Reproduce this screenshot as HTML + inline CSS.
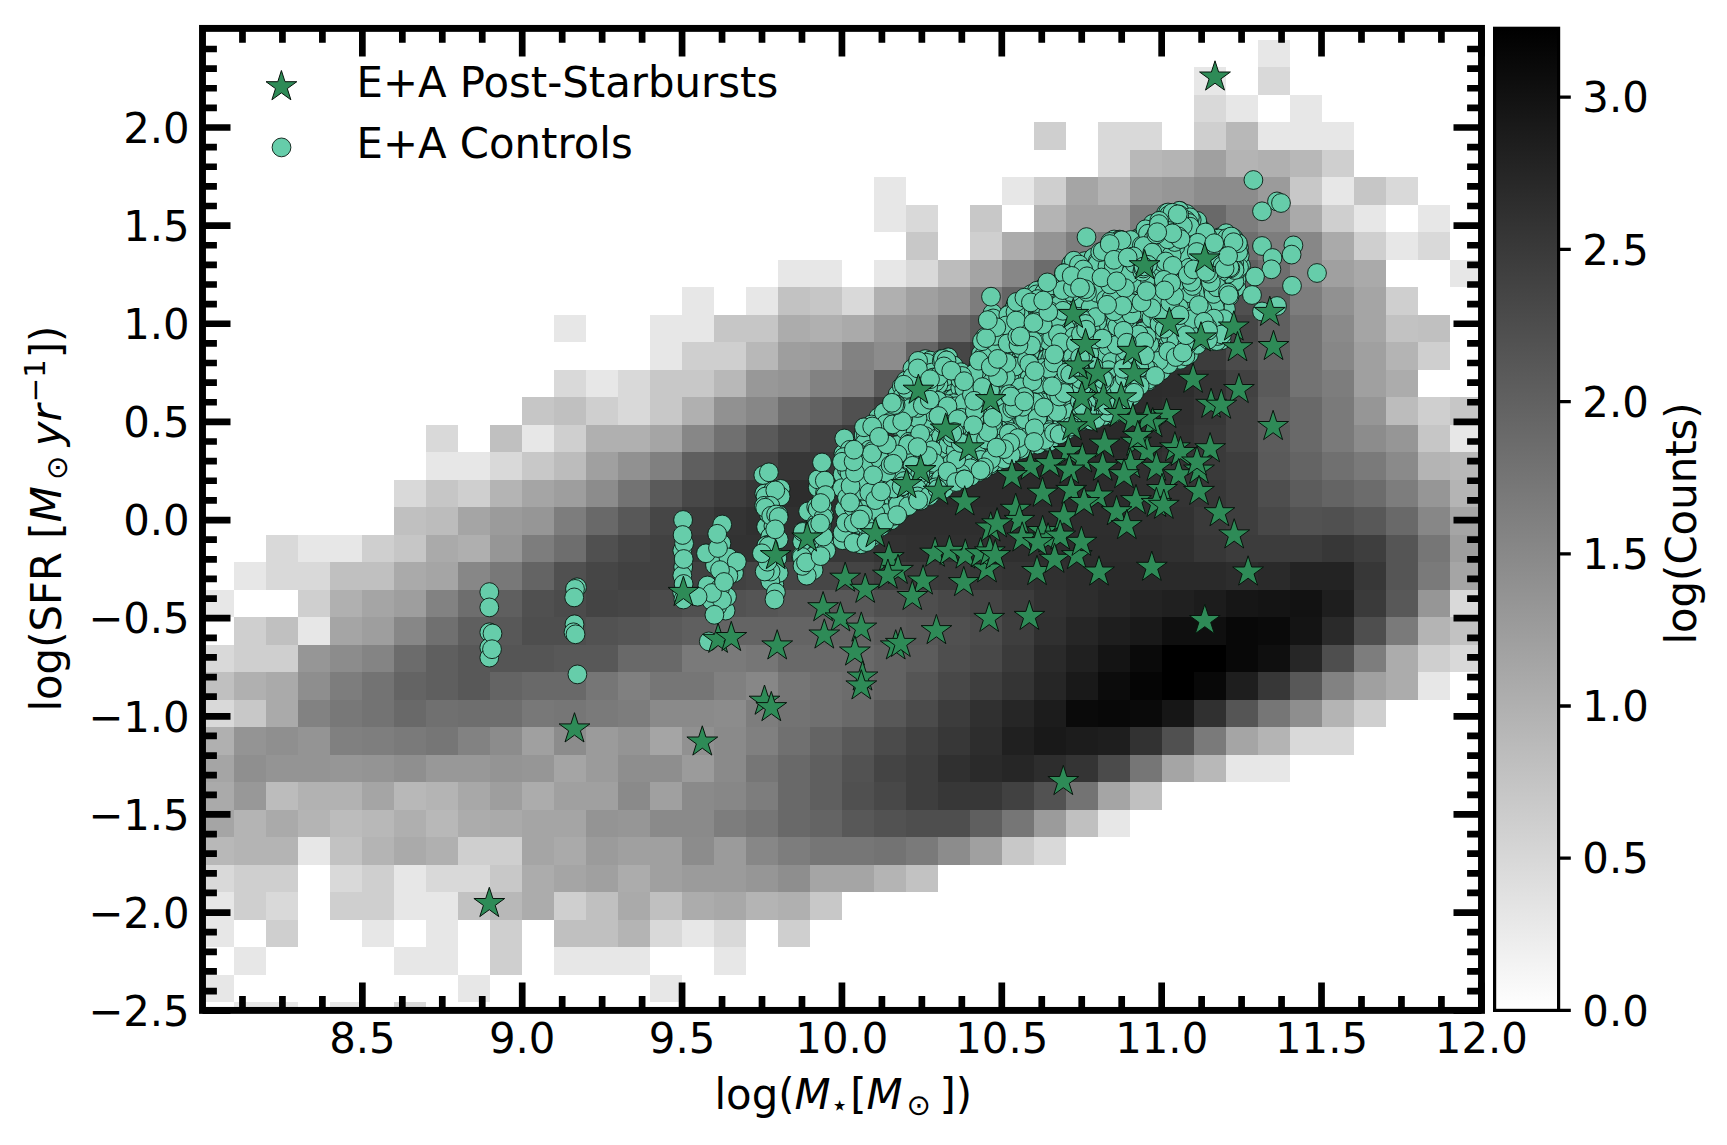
<!DOCTYPE html>
<html><head><meta charset="utf-8"><title>SFR vs stellar mass</title>
<style>html,body{margin:0;padding:0;background:#fff}svg{display:block}text{font-family:"DejaVu Sans","Liberation Sans",sans-serif;font-size:41.8px;fill:#000}.i{font-style:italic}</style></head><body>
<svg width="1727" height="1145" viewBox="0 0 1727 1145">
<rect width="1727" height="1145" fill="#fff"/>
<defs><clipPath id="ax"><rect x="202.5" y="28.4" width="1279.0" height="982.0"/></clipPath>
<linearGradient id="cb" x1="0" y1="1" x2="0" y2="0"><stop offset="0" stop-color="#fff"/><stop offset="1" stop-color="#000"/></linearGradient></defs>
<g clip-path="url(#ax)" shape-rendering="crispEdges">
<rect x="1257.9" y="39.56" width="32.3" height="27.80" fill="#e7e7e7"/>
<rect x="1193.9" y="67.06" width="32.3" height="27.80" fill="#e7e7e7"/>
<rect x="1257.9" y="67.06" width="32.3" height="27.80" fill="#d9d9d9"/>
<rect x="1193.9" y="94.56" width="32.3" height="27.80" fill="#d9d9d9"/>
<rect x="1225.9" y="94.56" width="32.3" height="27.80" fill="#e7e7e7"/>
<rect x="1289.9" y="94.56" width="32.3" height="27.80" fill="#e7e7e7"/>
<rect x="1033.9" y="122.06" width="32.3" height="27.80" fill="#cfcfcf"/>
<rect x="1097.9" y="122.06" width="64.3" height="27.80" fill="#d9d9d9"/>
<rect x="1193.9" y="122.06" width="32.3" height="27.80" fill="#cfcfcf"/>
<rect x="1225.9" y="122.06" width="32.3" height="27.80" fill="#b8b8b8"/>
<rect x="1257.9" y="122.06" width="96.3" height="27.80" fill="#e7e7e7"/>
<rect x="1097.9" y="149.56" width="32.3" height="27.80" fill="#d9d9d9"/>
<rect x="1129.9" y="149.56" width="32.3" height="27.80" fill="#b8b8b8"/>
<rect x="1161.9" y="149.56" width="32.3" height="27.80" fill="#b4b4b4"/>
<rect x="1193.9" y="149.56" width="32.3" height="27.80" fill="#a0a0a0"/>
<rect x="1225.9" y="149.56" width="32.3" height="27.80" fill="#b4b4b4"/>
<rect x="1257.9" y="149.56" width="32.3" height="27.80" fill="#b0b0b0"/>
<rect x="1289.9" y="149.56" width="32.3" height="27.80" fill="#b8b8b8"/>
<rect x="1321.9" y="149.56" width="32.3" height="27.80" fill="#cfcfcf"/>
<rect x="873.9" y="177.06" width="32.3" height="27.80" fill="#e7e7e7"/>
<rect x="1001.9" y="177.06" width="32.3" height="27.80" fill="#e7e7e7"/>
<rect x="1033.9" y="177.06" width="32.3" height="27.80" fill="#cfcfcf"/>
<rect x="1065.9" y="177.06" width="32.3" height="27.80" fill="#a5a5a5"/>
<rect x="1097.9" y="177.06" width="32.3" height="27.80" fill="#b4b4b4"/>
<rect x="1129.9" y="177.06" width="32.3" height="27.80" fill="#9b9b9b"/>
<rect x="1161.9" y="177.06" width="32.3" height="27.80" fill="#969696"/>
<rect x="1193.9" y="177.06" width="64.3" height="27.80" fill="#8c8c8c"/>
<rect x="1257.9" y="177.06" width="32.3" height="27.80" fill="#9b9b9b"/>
<rect x="1289.9" y="177.06" width="32.3" height="27.80" fill="#c8c8c8"/>
<rect x="1321.9" y="177.06" width="32.3" height="27.80" fill="#e7e7e7"/>
<rect x="1353.9" y="177.06" width="32.3" height="27.80" fill="#c6c6c6"/>
<rect x="1385.9" y="177.06" width="32.3" height="27.80" fill="#d9d9d9"/>
<rect x="873.9" y="204.56" width="32.3" height="27.80" fill="#e7e7e7"/>
<rect x="905.9" y="204.56" width="32.3" height="27.80" fill="#d9d9d9"/>
<rect x="969.9" y="204.56" width="32.3" height="27.80" fill="#c8c8c8"/>
<rect x="1033.9" y="204.56" width="32.3" height="27.80" fill="#b4b4b4"/>
<rect x="1065.9" y="204.56" width="64.3" height="27.80" fill="#9e9e9e"/>
<rect x="1129.9" y="204.56" width="32.3" height="27.80" fill="#7d7d7d"/>
<rect x="1161.9" y="204.56" width="32.3" height="27.80" fill="#787878"/>
<rect x="1193.9" y="204.56" width="32.3" height="27.80" fill="#696969"/>
<rect x="1225.9" y="204.56" width="32.3" height="27.80" fill="#7d7d7d"/>
<rect x="1257.9" y="204.56" width="32.3" height="27.80" fill="#8c8c8c"/>
<rect x="1289.9" y="204.56" width="32.3" height="27.80" fill="#aaaaaa"/>
<rect x="1321.9" y="204.56" width="32.3" height="27.80" fill="#cfcfcf"/>
<rect x="1353.9" y="204.56" width="32.3" height="27.80" fill="#e7e7e7"/>
<rect x="1417.9" y="204.56" width="32.3" height="27.80" fill="#e7e7e7"/>
<rect x="905.9" y="232.06" width="32.3" height="27.80" fill="#c8c8c8"/>
<rect x="969.9" y="232.06" width="32.3" height="27.80" fill="#cfcfcf"/>
<rect x="1001.9" y="232.06" width="32.3" height="27.80" fill="#acacac"/>
<rect x="1033.9" y="232.06" width="32.3" height="27.80" fill="#949494"/>
<rect x="1065.9" y="232.06" width="32.3" height="27.80" fill="#7d7d7d"/>
<rect x="1097.9" y="232.06" width="32.3" height="27.80" fill="#787878"/>
<rect x="1129.9" y="232.06" width="32.3" height="27.80" fill="#6e6e6e"/>
<rect x="1161.9" y="232.06" width="32.3" height="27.80" fill="#646464"/>
<rect x="1193.9" y="232.06" width="32.3" height="27.80" fill="#5a5a5a"/>
<rect x="1225.9" y="232.06" width="32.3" height="27.80" fill="#6e6e6e"/>
<rect x="1257.9" y="232.06" width="32.3" height="27.80" fill="#7d7d7d"/>
<rect x="1289.9" y="232.06" width="32.3" height="27.80" fill="#878787"/>
<rect x="1321.9" y="232.06" width="32.3" height="27.80" fill="#aaaaaa"/>
<rect x="1353.9" y="232.06" width="32.3" height="27.80" fill="#cfcfcf"/>
<rect x="1385.9" y="232.06" width="32.3" height="27.80" fill="#e7e7e7"/>
<rect x="1417.9" y="232.06" width="32.3" height="27.80" fill="#d9d9d9"/>
<rect x="777.9" y="259.56" width="64.3" height="27.80" fill="#e7e7e7"/>
<rect x="873.9" y="259.56" width="32.3" height="27.80" fill="#e7e7e7"/>
<rect x="905.9" y="259.56" width="32.3" height="27.80" fill="#d9d9d9"/>
<rect x="937.9" y="259.56" width="32.3" height="27.80" fill="#bcbcbc"/>
<rect x="969.9" y="259.56" width="32.3" height="27.80" fill="#a5a5a5"/>
<rect x="1001.9" y="259.56" width="32.3" height="27.80" fill="#878787"/>
<rect x="1033.9" y="259.56" width="32.3" height="27.80" fill="#6c6c6c"/>
<rect x="1065.9" y="259.56" width="32.3" height="27.80" fill="#646464"/>
<rect x="1097.9" y="259.56" width="32.3" height="27.80" fill="#5f5f5f"/>
<rect x="1129.9" y="259.56" width="32.3" height="27.80" fill="#5a5a5a"/>
<rect x="1161.9" y="259.56" width="64.3" height="27.80" fill="#555555"/>
<rect x="1225.9" y="259.56" width="32.3" height="27.80" fill="#5f5f5f"/>
<rect x="1257.9" y="259.56" width="32.3" height="27.80" fill="#6e6e6e"/>
<rect x="1289.9" y="259.56" width="32.3" height="27.80" fill="#878787"/>
<rect x="1321.9" y="259.56" width="32.3" height="27.80" fill="#a0a0a0"/>
<rect x="1353.9" y="259.56" width="32.3" height="27.80" fill="#aaaaaa"/>
<rect x="1449.9" y="259.56" width="32.3" height="27.80" fill="#e7e7e7"/>
<rect x="681.9" y="287.06" width="32.3" height="27.80" fill="#e7e7e7"/>
<rect x="745.9" y="287.06" width="32.3" height="27.80" fill="#e7e7e7"/>
<rect x="777.9" y="287.06" width="32.3" height="27.80" fill="#c2c2c2"/>
<rect x="809.9" y="287.06" width="32.3" height="27.80" fill="#c6c6c6"/>
<rect x="841.9" y="287.06" width="32.3" height="27.80" fill="#d9d9d9"/>
<rect x="873.9" y="287.06" width="32.3" height="27.80" fill="#b0b0b0"/>
<rect x="905.9" y="287.06" width="32.3" height="27.80" fill="#a0a0a0"/>
<rect x="937.9" y="287.06" width="32.3" height="27.80" fill="#969696"/>
<rect x="969.9" y="287.06" width="32.3" height="27.80" fill="#7d7d7d"/>
<rect x="1001.9" y="287.06" width="32.3" height="27.80" fill="#646464"/>
<rect x="1033.9" y="287.06" width="32.3" height="27.80" fill="#555555"/>
<rect x="1065.9" y="287.06" width="32.3" height="27.80" fill="#505050"/>
<rect x="1097.9" y="287.06" width="32.3" height="27.80" fill="#4b4b4b"/>
<rect x="1129.9" y="287.06" width="32.3" height="27.80" fill="#484848"/>
<rect x="1161.9" y="287.06" width="32.3" height="27.80" fill="#464646"/>
<rect x="1193.9" y="287.06" width="32.3" height="27.80" fill="#484848"/>
<rect x="1225.9" y="287.06" width="32.3" height="27.80" fill="#505050"/>
<rect x="1257.9" y="287.06" width="32.3" height="27.80" fill="#5f5f5f"/>
<rect x="1289.9" y="287.06" width="32.3" height="27.80" fill="#7d7d7d"/>
<rect x="1321.9" y="287.06" width="32.3" height="27.80" fill="#919191"/>
<rect x="1353.9" y="287.06" width="32.3" height="27.80" fill="#a5a5a5"/>
<rect x="1385.9" y="287.06" width="32.3" height="27.80" fill="#cfcfcf"/>
<rect x="553.9" y="314.56" width="32.3" height="27.80" fill="#e7e7e7"/>
<rect x="649.9" y="314.56" width="64.3" height="27.80" fill="#e7e7e7"/>
<rect x="713.9" y="314.56" width="64.3" height="27.80" fill="#c6c6c6"/>
<rect x="777.9" y="314.56" width="32.3" height="27.80" fill="#acacac"/>
<rect x="809.9" y="314.56" width="32.3" height="27.80" fill="#b0b0b0"/>
<rect x="841.9" y="314.56" width="32.3" height="27.80" fill="#aaaaaa"/>
<rect x="873.9" y="314.56" width="32.3" height="27.80" fill="#969696"/>
<rect x="905.9" y="314.56" width="32.3" height="27.80" fill="#919191"/>
<rect x="937.9" y="314.56" width="32.3" height="27.80" fill="#6c6c6c"/>
<rect x="969.9" y="314.56" width="32.3" height="27.80" fill="#5a5a5a"/>
<rect x="1001.9" y="314.56" width="32.3" height="27.80" fill="#4b4b4b"/>
<rect x="1033.9" y="314.56" width="32.3" height="27.80" fill="#414141"/>
<rect x="1065.9" y="314.56" width="32.3" height="27.80" fill="#3c3c3c"/>
<rect x="1097.9" y="314.56" width="64.3" height="27.80" fill="#373737"/>
<rect x="1161.9" y="314.56" width="32.3" height="27.80" fill="#3a3a3a"/>
<rect x="1193.9" y="314.56" width="32.3" height="27.80" fill="#414141"/>
<rect x="1225.9" y="314.56" width="32.3" height="27.80" fill="#464646"/>
<rect x="1257.9" y="314.56" width="32.3" height="27.80" fill="#5f5f5f"/>
<rect x="1289.9" y="314.56" width="32.3" height="27.80" fill="#737373"/>
<rect x="1321.9" y="314.56" width="32.3" height="27.80" fill="#8a8a8a"/>
<rect x="1353.9" y="314.56" width="32.3" height="27.80" fill="#a5a5a5"/>
<rect x="1385.9" y="314.56" width="32.3" height="27.80" fill="#c2c2c2"/>
<rect x="1417.9" y="314.56" width="32.3" height="27.80" fill="#c0c0c0"/>
<rect x="649.9" y="342.06" width="32.3" height="27.80" fill="#e7e7e7"/>
<rect x="681.9" y="342.06" width="64.3" height="27.80" fill="#cfcfcf"/>
<rect x="745.9" y="342.06" width="32.3" height="27.80" fill="#b8b8b8"/>
<rect x="777.9" y="342.06" width="32.3" height="27.80" fill="#9e9e9e"/>
<rect x="809.9" y="342.06" width="32.3" height="27.80" fill="#9b9b9b"/>
<rect x="841.9" y="342.06" width="32.3" height="27.80" fill="#828282"/>
<rect x="873.9" y="342.06" width="32.3" height="27.80" fill="#8c8c8c"/>
<rect x="905.9" y="342.06" width="32.3" height="27.80" fill="#646464"/>
<rect x="937.9" y="342.06" width="32.3" height="27.80" fill="#464646"/>
<rect x="969.9" y="342.06" width="32.3" height="27.80" fill="#3c3c3c"/>
<rect x="1001.9" y="342.06" width="32.3" height="27.80" fill="#373737"/>
<rect x="1033.9" y="342.06" width="32.3" height="27.80" fill="#323232"/>
<rect x="1065.9" y="342.06" width="32.3" height="27.80" fill="#303030"/>
<rect x="1097.9" y="342.06" width="32.3" height="27.80" fill="#2d2d2d"/>
<rect x="1129.9" y="342.06" width="32.3" height="27.80" fill="#303030"/>
<rect x="1161.9" y="342.06" width="32.3" height="27.80" fill="#323232"/>
<rect x="1193.9" y="342.06" width="32.3" height="27.80" fill="#3c3c3c"/>
<rect x="1225.9" y="342.06" width="32.3" height="27.80" fill="#4b4b4b"/>
<rect x="1257.9" y="342.06" width="32.3" height="27.80" fill="#5f5f5f"/>
<rect x="1289.9" y="342.06" width="32.3" height="27.80" fill="#737373"/>
<rect x="1321.9" y="342.06" width="32.3" height="27.80" fill="#878787"/>
<rect x="1353.9" y="342.06" width="32.3" height="27.80" fill="#a0a0a0"/>
<rect x="1385.9" y="342.06" width="32.3" height="27.80" fill="#b4b4b4"/>
<rect x="1417.9" y="342.06" width="32.3" height="27.80" fill="#cfcfcf"/>
<rect x="553.9" y="369.56" width="32.3" height="27.80" fill="#d9d9d9"/>
<rect x="585.9" y="369.56" width="32.3" height="27.80" fill="#e7e7e7"/>
<rect x="617.9" y="369.56" width="32.3" height="27.80" fill="#d9d9d9"/>
<rect x="649.9" y="369.56" width="64.3" height="27.80" fill="#c8c8c8"/>
<rect x="713.9" y="369.56" width="32.3" height="27.80" fill="#b8b8b8"/>
<rect x="745.9" y="369.56" width="32.3" height="27.80" fill="#989898"/>
<rect x="777.9" y="369.56" width="32.3" height="27.80" fill="#949494"/>
<rect x="809.9" y="369.56" width="32.3" height="27.80" fill="#828282"/>
<rect x="841.9" y="369.56" width="32.3" height="27.80" fill="#7d7d7d"/>
<rect x="873.9" y="369.56" width="32.3" height="27.80" fill="#5a5a5a"/>
<rect x="905.9" y="369.56" width="32.3" height="27.80" fill="#464646"/>
<rect x="937.9" y="369.56" width="32.3" height="27.80" fill="#373737"/>
<rect x="969.9" y="369.56" width="32.3" height="27.80" fill="#303030"/>
<rect x="1001.9" y="369.56" width="32.3" height="27.80" fill="#2d2d2d"/>
<rect x="1033.9" y="369.56" width="32.3" height="27.80" fill="#2b2b2b"/>
<rect x="1065.9" y="369.56" width="64.3" height="27.80" fill="#2a2a2a"/>
<rect x="1129.9" y="369.56" width="32.3" height="27.80" fill="#2c2c2c"/>
<rect x="1161.9" y="369.56" width="32.3" height="27.80" fill="#2d2d2d"/>
<rect x="1193.9" y="369.56" width="32.3" height="27.80" fill="#343434"/>
<rect x="1225.9" y="369.56" width="32.3" height="27.80" fill="#414141"/>
<rect x="1257.9" y="369.56" width="32.3" height="27.80" fill="#5a5a5a"/>
<rect x="1289.9" y="369.56" width="32.3" height="27.80" fill="#737373"/>
<rect x="1321.9" y="369.56" width="32.3" height="27.80" fill="#7d7d7d"/>
<rect x="1353.9" y="369.56" width="32.3" height="27.80" fill="#a0a0a0"/>
<rect x="1385.9" y="369.56" width="32.3" height="27.80" fill="#acacac"/>
<rect x="521.9" y="397.06" width="32.3" height="27.80" fill="#c6c6c6"/>
<rect x="553.9" y="397.06" width="32.3" height="27.80" fill="#c0c0c0"/>
<rect x="585.9" y="397.06" width="32.3" height="27.80" fill="#cfcfcf"/>
<rect x="617.9" y="397.06" width="32.3" height="27.80" fill="#d9d9d9"/>
<rect x="649.9" y="397.06" width="32.3" height="27.80" fill="#c8c8c8"/>
<rect x="681.9" y="397.06" width="32.3" height="27.80" fill="#b0b0b0"/>
<rect x="713.9" y="397.06" width="32.3" height="27.80" fill="#919191"/>
<rect x="745.9" y="397.06" width="32.3" height="27.80" fill="#878787"/>
<rect x="777.9" y="397.06" width="32.3" height="27.80" fill="#6e6e6e"/>
<rect x="809.9" y="397.06" width="32.3" height="27.80" fill="#626262"/>
<rect x="841.9" y="397.06" width="32.3" height="27.80" fill="#505050"/>
<rect x="873.9" y="397.06" width="32.3" height="27.80" fill="#3e3e3e"/>
<rect x="905.9" y="397.06" width="32.3" height="27.80" fill="#343434"/>
<rect x="937.9" y="397.06" width="32.3" height="27.80" fill="#2d2d2d"/>
<rect x="969.9" y="397.06" width="160.3" height="27.80" fill="#2a2a2a"/>
<rect x="1129.9" y="397.06" width="32.3" height="27.80" fill="#2d2d2d"/>
<rect x="1161.9" y="397.06" width="32.3" height="27.80" fill="#303030"/>
<rect x="1193.9" y="397.06" width="32.3" height="27.80" fill="#373737"/>
<rect x="1225.9" y="397.06" width="32.3" height="27.80" fill="#444444"/>
<rect x="1257.9" y="397.06" width="32.3" height="27.80" fill="#5f5f5f"/>
<rect x="1289.9" y="397.06" width="32.3" height="27.80" fill="#696969"/>
<rect x="1321.9" y="397.06" width="32.3" height="27.80" fill="#7a7a7a"/>
<rect x="1353.9" y="397.06" width="32.3" height="27.80" fill="#969696"/>
<rect x="1385.9" y="397.06" width="32.3" height="27.80" fill="#bcbcbc"/>
<rect x="1417.9" y="397.06" width="32.3" height="27.80" fill="#cfcfcf"/>
<rect x="1449.9" y="397.06" width="32.3" height="27.80" fill="#c6c6c6"/>
<rect x="425.9" y="424.56" width="32.3" height="27.80" fill="#d9d9d9"/>
<rect x="489.9" y="424.56" width="32.3" height="27.80" fill="#c0c0c0"/>
<rect x="521.9" y="424.56" width="32.3" height="27.80" fill="#e7e7e7"/>
<rect x="553.9" y="424.56" width="32.3" height="27.80" fill="#cfcfcf"/>
<rect x="585.9" y="424.56" width="64.3" height="27.80" fill="#b0b0b0"/>
<rect x="649.9" y="424.56" width="32.3" height="27.80" fill="#a5a5a5"/>
<rect x="681.9" y="424.56" width="32.3" height="27.80" fill="#878787"/>
<rect x="713.9" y="424.56" width="32.3" height="27.80" fill="#707070"/>
<rect x="745.9" y="424.56" width="32.3" height="27.80" fill="#5a5a5a"/>
<rect x="777.9" y="424.56" width="32.3" height="27.80" fill="#4b4b4b"/>
<rect x="809.9" y="424.56" width="32.3" height="27.80" fill="#414141"/>
<rect x="841.9" y="424.56" width="32.3" height="27.80" fill="#3a3a3a"/>
<rect x="873.9" y="424.56" width="32.3" height="27.80" fill="#323232"/>
<rect x="905.9" y="424.56" width="32.3" height="27.80" fill="#2d2d2d"/>
<rect x="937.9" y="424.56" width="192.3" height="27.80" fill="#2a2a2a"/>
<rect x="1129.9" y="424.56" width="32.3" height="27.80" fill="#2e2e2e"/>
<rect x="1161.9" y="424.56" width="32.3" height="27.80" fill="#323232"/>
<rect x="1193.9" y="424.56" width="32.3" height="27.80" fill="#3a3a3a"/>
<rect x="1225.9" y="424.56" width="32.3" height="27.80" fill="#444444"/>
<rect x="1257.9" y="424.56" width="32.3" height="27.80" fill="#5c5c5c"/>
<rect x="1289.9" y="424.56" width="32.3" height="27.80" fill="#696969"/>
<rect x="1321.9" y="424.56" width="32.3" height="27.80" fill="#7a7a7a"/>
<rect x="1353.9" y="424.56" width="32.3" height="27.80" fill="#8c8c8c"/>
<rect x="1385.9" y="424.56" width="32.3" height="27.80" fill="#969696"/>
<rect x="1417.9" y="424.56" width="32.3" height="27.80" fill="#c6c6c6"/>
<rect x="1449.9" y="424.56" width="32.3" height="27.80" fill="#e7e7e7"/>
<rect x="425.9" y="452.06" width="64.3" height="27.80" fill="#e7e7e7"/>
<rect x="489.9" y="452.06" width="32.3" height="27.80" fill="#d9d9d9"/>
<rect x="521.9" y="452.06" width="32.3" height="27.80" fill="#c8c8c8"/>
<rect x="553.9" y="452.06" width="32.3" height="27.80" fill="#bcbcbc"/>
<rect x="585.9" y="452.06" width="32.3" height="27.80" fill="#a0a0a0"/>
<rect x="617.9" y="452.06" width="32.3" height="27.80" fill="#919191"/>
<rect x="649.9" y="452.06" width="32.3" height="27.80" fill="#808080"/>
<rect x="681.9" y="452.06" width="32.3" height="27.80" fill="#5f5f5f"/>
<rect x="713.9" y="452.06" width="32.3" height="27.80" fill="#525252"/>
<rect x="745.9" y="452.06" width="32.3" height="27.80" fill="#464646"/>
<rect x="777.9" y="452.06" width="64.3" height="27.80" fill="#373737"/>
<rect x="841.9" y="452.06" width="32.3" height="27.80" fill="#303030"/>
<rect x="873.9" y="452.06" width="256.3" height="27.80" fill="#2b2b2b"/>
<rect x="1129.9" y="452.06" width="32.3" height="27.80" fill="#303030"/>
<rect x="1161.9" y="452.06" width="32.3" height="27.80" fill="#343434"/>
<rect x="1193.9" y="452.06" width="32.3" height="27.80" fill="#3a3a3a"/>
<rect x="1225.9" y="452.06" width="32.3" height="27.80" fill="#3e3e3e"/>
<rect x="1257.9" y="452.06" width="32.3" height="27.80" fill="#5a5a5a"/>
<rect x="1289.9" y="452.06" width="32.3" height="27.80" fill="#646464"/>
<rect x="1321.9" y="452.06" width="32.3" height="27.80" fill="#707070"/>
<rect x="1353.9" y="452.06" width="32.3" height="27.80" fill="#7a7a7a"/>
<rect x="1385.9" y="452.06" width="32.3" height="27.80" fill="#8a8a8a"/>
<rect x="1417.9" y="452.06" width="32.3" height="27.80" fill="#b4b4b4"/>
<rect x="1449.9" y="452.06" width="32.3" height="27.80" fill="#b8b8b8"/>
<rect x="393.9" y="479.56" width="32.3" height="27.80" fill="#d9d9d9"/>
<rect x="425.9" y="479.56" width="32.3" height="27.80" fill="#c6c6c6"/>
<rect x="457.9" y="479.56" width="32.3" height="27.80" fill="#cfcfcf"/>
<rect x="489.9" y="479.56" width="32.3" height="27.80" fill="#b4b4b4"/>
<rect x="521.9" y="479.56" width="32.3" height="27.80" fill="#a5a5a5"/>
<rect x="553.9" y="479.56" width="32.3" height="27.80" fill="#9e9e9e"/>
<rect x="585.9" y="479.56" width="32.3" height="27.80" fill="#8c8c8c"/>
<rect x="617.9" y="479.56" width="32.3" height="27.80" fill="#737373"/>
<rect x="649.9" y="479.56" width="32.3" height="27.80" fill="#5a5a5a"/>
<rect x="681.9" y="479.56" width="32.3" height="27.80" fill="#484848"/>
<rect x="713.9" y="479.56" width="32.3" height="27.80" fill="#3e3e3e"/>
<rect x="745.9" y="479.56" width="32.3" height="27.80" fill="#373737"/>
<rect x="777.9" y="479.56" width="64.3" height="27.80" fill="#2d2d2d"/>
<rect x="841.9" y="479.56" width="288.3" height="27.80" fill="#2c2c2c"/>
<rect x="1129.9" y="479.56" width="32.3" height="27.80" fill="#303030"/>
<rect x="1161.9" y="479.56" width="32.3" height="27.80" fill="#343434"/>
<rect x="1193.9" y="479.56" width="32.3" height="27.80" fill="#373737"/>
<rect x="1225.9" y="479.56" width="32.3" height="27.80" fill="#3e3e3e"/>
<rect x="1257.9" y="479.56" width="32.3" height="27.80" fill="#4e4e4e"/>
<rect x="1289.9" y="479.56" width="32.3" height="27.80" fill="#5c5c5c"/>
<rect x="1321.9" y="479.56" width="32.3" height="27.80" fill="#646464"/>
<rect x="1353.9" y="479.56" width="32.3" height="27.80" fill="#6c6c6c"/>
<rect x="1385.9" y="479.56" width="32.3" height="27.80" fill="#7d7d7d"/>
<rect x="1417.9" y="479.56" width="32.3" height="27.80" fill="#969696"/>
<rect x="1449.9" y="479.56" width="32.3" height="27.80" fill="#b4b4b4"/>
<rect x="393.9" y="507.06" width="32.3" height="27.80" fill="#c0c0c0"/>
<rect x="425.9" y="507.06" width="32.3" height="27.80" fill="#bcbcbc"/>
<rect x="457.9" y="507.06" width="32.3" height="27.80" fill="#a5a5a5"/>
<rect x="489.9" y="507.06" width="32.3" height="27.80" fill="#9b9b9b"/>
<rect x="521.9" y="507.06" width="32.3" height="27.80" fill="#969696"/>
<rect x="553.9" y="507.06" width="32.3" height="27.80" fill="#7d7d7d"/>
<rect x="585.9" y="507.06" width="32.3" height="27.80" fill="#696969"/>
<rect x="617.9" y="507.06" width="32.3" height="27.80" fill="#585858"/>
<rect x="649.9" y="507.06" width="32.3" height="27.80" fill="#464646"/>
<rect x="681.9" y="507.06" width="32.3" height="27.80" fill="#3c3c3c"/>
<rect x="713.9" y="507.06" width="32.3" height="27.80" fill="#343434"/>
<rect x="745.9" y="507.06" width="64.3" height="27.80" fill="#303030"/>
<rect x="809.9" y="507.06" width="32.3" height="27.80" fill="#323232"/>
<rect x="841.9" y="507.06" width="288.3" height="27.80" fill="#2e2e2e"/>
<rect x="1129.9" y="507.06" width="32.3" height="27.80" fill="#303030"/>
<rect x="1161.9" y="507.06" width="32.3" height="27.80" fill="#323232"/>
<rect x="1193.9" y="507.06" width="32.3" height="27.80" fill="#3a3a3a"/>
<rect x="1225.9" y="507.06" width="32.3" height="27.80" fill="#3e3e3e"/>
<rect x="1257.9" y="507.06" width="32.3" height="27.80" fill="#484848"/>
<rect x="1289.9" y="507.06" width="32.3" height="27.80" fill="#525252"/>
<rect x="1321.9" y="507.06" width="32.3" height="27.80" fill="#505050"/>
<rect x="1353.9" y="507.06" width="32.3" height="27.80" fill="#585858"/>
<rect x="1385.9" y="507.06" width="32.3" height="27.80" fill="#696969"/>
<rect x="1417.9" y="507.06" width="32.3" height="27.80" fill="#878787"/>
<rect x="1449.9" y="507.06" width="32.3" height="27.80" fill="#a5a5a5"/>
<rect x="265.9" y="534.56" width="32.3" height="27.80" fill="#d9d9d9"/>
<rect x="297.9" y="534.56" width="64.3" height="27.80" fill="#e7e7e7"/>
<rect x="361.9" y="534.56" width="32.3" height="27.80" fill="#cfcfcf"/>
<rect x="393.9" y="534.56" width="32.3" height="27.80" fill="#c6c6c6"/>
<rect x="425.9" y="534.56" width="32.3" height="27.80" fill="#aaaaaa"/>
<rect x="457.9" y="534.56" width="32.3" height="27.80" fill="#afafaf"/>
<rect x="489.9" y="534.56" width="32.3" height="27.80" fill="#969696"/>
<rect x="521.9" y="534.56" width="32.3" height="27.80" fill="#7d7d7d"/>
<rect x="553.9" y="534.56" width="32.3" height="27.80" fill="#6e6e6e"/>
<rect x="585.9" y="534.56" width="32.3" height="27.80" fill="#505050"/>
<rect x="617.9" y="534.56" width="32.3" height="27.80" fill="#464646"/>
<rect x="649.9" y="534.56" width="32.3" height="27.80" fill="#414141"/>
<rect x="681.9" y="534.56" width="32.3" height="27.80" fill="#373737"/>
<rect x="713.9" y="534.56" width="96.3" height="27.80" fill="#323232"/>
<rect x="809.9" y="534.56" width="64.3" height="27.80" fill="#373737"/>
<rect x="873.9" y="534.56" width="32.3" height="27.80" fill="#323232"/>
<rect x="905.9" y="534.56" width="96.3" height="27.80" fill="#303030"/>
<rect x="1001.9" y="534.56" width="32.3" height="27.80" fill="#2f2f2f"/>
<rect x="1033.9" y="534.56" width="32.3" height="27.80" fill="#2e2e2e"/>
<rect x="1065.9" y="534.56" width="96.3" height="27.80" fill="#2d2d2d"/>
<rect x="1161.9" y="534.56" width="32.3" height="27.80" fill="#303030"/>
<rect x="1193.9" y="534.56" width="32.3" height="27.80" fill="#373737"/>
<rect x="1225.9" y="534.56" width="96.3" height="27.80" fill="#3c3c3c"/>
<rect x="1321.9" y="534.56" width="32.3" height="27.80" fill="#373737"/>
<rect x="1353.9" y="534.56" width="32.3" height="27.80" fill="#3e3e3e"/>
<rect x="1385.9" y="534.56" width="32.3" height="27.80" fill="#555555"/>
<rect x="1417.9" y="534.56" width="32.3" height="27.80" fill="#767676"/>
<rect x="1449.9" y="534.56" width="32.3" height="27.80" fill="#9e9e9e"/>
<rect x="233.9" y="562.06" width="32.3" height="27.80" fill="#e7e7e7"/>
<rect x="265.9" y="562.06" width="64.3" height="27.80" fill="#d9d9d9"/>
<rect x="329.9" y="562.06" width="64.3" height="27.80" fill="#c0c0c0"/>
<rect x="393.9" y="562.06" width="32.3" height="27.80" fill="#aaaaaa"/>
<rect x="425.9" y="562.06" width="32.3" height="27.80" fill="#a5a5a5"/>
<rect x="457.9" y="562.06" width="32.3" height="27.80" fill="#878787"/>
<rect x="489.9" y="562.06" width="32.3" height="27.80" fill="#787878"/>
<rect x="521.9" y="562.06" width="32.3" height="27.80" fill="#646464"/>
<rect x="553.9" y="562.06" width="32.3" height="27.80" fill="#505050"/>
<rect x="585.9" y="562.06" width="32.3" height="27.80" fill="#464646"/>
<rect x="617.9" y="562.06" width="128.3" height="27.80" fill="#414141"/>
<rect x="745.9" y="562.06" width="32.3" height="27.80" fill="#444444"/>
<rect x="777.9" y="562.06" width="64.3" height="27.80" fill="#464646"/>
<rect x="841.9" y="562.06" width="32.3" height="27.80" fill="#444444"/>
<rect x="873.9" y="562.06" width="32.3" height="27.80" fill="#3e3e3e"/>
<rect x="905.9" y="562.06" width="32.3" height="27.80" fill="#3c3c3c"/>
<rect x="937.9" y="562.06" width="32.3" height="27.80" fill="#3a3a3a"/>
<rect x="969.9" y="562.06" width="32.3" height="27.80" fill="#373737"/>
<rect x="1001.9" y="562.06" width="32.3" height="27.80" fill="#343434"/>
<rect x="1033.9" y="562.06" width="32.3" height="27.80" fill="#303030"/>
<rect x="1065.9" y="562.06" width="32.3" height="27.80" fill="#2d2d2d"/>
<rect x="1097.9" y="562.06" width="128.3" height="27.80" fill="#2a2a2a"/>
<rect x="1225.9" y="562.06" width="32.3" height="27.80" fill="#2d2d2d"/>
<rect x="1257.9" y="562.06" width="32.3" height="27.80" fill="#2a2a2a"/>
<rect x="1289.9" y="562.06" width="64.3" height="27.80" fill="#232323"/>
<rect x="1353.9" y="562.06" width="32.3" height="27.80" fill="#373737"/>
<rect x="1385.9" y="562.06" width="32.3" height="27.80" fill="#555555"/>
<rect x="1417.9" y="562.06" width="32.3" height="27.80" fill="#7a7a7a"/>
<rect x="1449.9" y="562.06" width="32.3" height="27.80" fill="#a5a5a5"/>
<rect x="201.9" y="589.56" width="32.3" height="27.80" fill="#e7e7e7"/>
<rect x="297.9" y="589.56" width="32.3" height="27.80" fill="#cfcfcf"/>
<rect x="329.9" y="589.56" width="32.3" height="27.80" fill="#b0b0b0"/>
<rect x="361.9" y="589.56" width="32.3" height="27.80" fill="#a5a5a5"/>
<rect x="393.9" y="589.56" width="32.3" height="27.80" fill="#9e9e9e"/>
<rect x="425.9" y="589.56" width="32.3" height="27.80" fill="#828282"/>
<rect x="457.9" y="589.56" width="32.3" height="27.80" fill="#6e6e6e"/>
<rect x="489.9" y="589.56" width="32.3" height="27.80" fill="#5f5f5f"/>
<rect x="521.9" y="589.56" width="32.3" height="27.80" fill="#505050"/>
<rect x="553.9" y="589.56" width="32.3" height="27.80" fill="#4b4b4b"/>
<rect x="585.9" y="589.56" width="32.3" height="27.80" fill="#444444"/>
<rect x="617.9" y="589.56" width="32.3" height="27.80" fill="#464646"/>
<rect x="649.9" y="589.56" width="32.3" height="27.80" fill="#4b4b4b"/>
<rect x="681.9" y="589.56" width="32.3" height="27.80" fill="#505050"/>
<rect x="713.9" y="589.56" width="32.3" height="27.80" fill="#525252"/>
<rect x="745.9" y="589.56" width="32.3" height="27.80" fill="#555555"/>
<rect x="777.9" y="589.56" width="96.3" height="27.80" fill="#585858"/>
<rect x="873.9" y="589.56" width="32.3" height="27.80" fill="#505050"/>
<rect x="905.9" y="589.56" width="32.3" height="27.80" fill="#4e4e4e"/>
<rect x="937.9" y="589.56" width="32.3" height="27.80" fill="#484848"/>
<rect x="969.9" y="589.56" width="32.3" height="27.80" fill="#444444"/>
<rect x="1001.9" y="589.56" width="32.3" height="27.80" fill="#3c3c3c"/>
<rect x="1033.9" y="589.56" width="32.3" height="27.80" fill="#323232"/>
<rect x="1065.9" y="589.56" width="32.3" height="27.80" fill="#2d2d2d"/>
<rect x="1097.9" y="589.56" width="32.3" height="27.80" fill="#282828"/>
<rect x="1129.9" y="589.56" width="32.3" height="27.80" fill="#232323"/>
<rect x="1161.9" y="589.56" width="32.3" height="27.80" fill="#202020"/>
<rect x="1193.9" y="589.56" width="32.3" height="27.80" fill="#1c1c1c"/>
<rect x="1225.9" y="589.56" width="32.3" height="27.80" fill="#161616"/>
<rect x="1257.9" y="589.56" width="32.3" height="27.80" fill="#141414"/>
<rect x="1289.9" y="589.56" width="32.3" height="27.80" fill="#121212"/>
<rect x="1321.9" y="589.56" width="32.3" height="27.80" fill="#1e1e1e"/>
<rect x="1353.9" y="589.56" width="32.3" height="27.80" fill="#3a3a3a"/>
<rect x="1385.9" y="589.56" width="32.3" height="27.80" fill="#585858"/>
<rect x="1417.9" y="589.56" width="32.3" height="27.80" fill="#969696"/>
<rect x="1449.9" y="589.56" width="32.3" height="27.80" fill="#d9d9d9"/>
<rect x="233.9" y="617.06" width="32.3" height="27.80" fill="#cfcfcf"/>
<rect x="265.9" y="617.06" width="32.3" height="27.80" fill="#c0c0c0"/>
<rect x="297.9" y="617.06" width="32.3" height="27.80" fill="#e7e7e7"/>
<rect x="329.9" y="617.06" width="32.3" height="27.80" fill="#a5a5a5"/>
<rect x="361.9" y="617.06" width="32.3" height="27.80" fill="#9e9e9e"/>
<rect x="393.9" y="617.06" width="32.3" height="27.80" fill="#878787"/>
<rect x="425.9" y="617.06" width="32.3" height="27.80" fill="#707070"/>
<rect x="457.9" y="617.06" width="32.3" height="27.80" fill="#5f5f5f"/>
<rect x="489.9" y="617.06" width="32.3" height="27.80" fill="#585858"/>
<rect x="521.9" y="617.06" width="64.3" height="27.80" fill="#4e4e4e"/>
<rect x="585.9" y="617.06" width="32.3" height="27.80" fill="#525252"/>
<rect x="617.9" y="617.06" width="32.3" height="27.80" fill="#555555"/>
<rect x="649.9" y="617.06" width="32.3" height="27.80" fill="#5a5a5a"/>
<rect x="681.9" y="617.06" width="32.3" height="27.80" fill="#5f5f5f"/>
<rect x="713.9" y="617.06" width="160.3" height="27.80" fill="#646464"/>
<rect x="873.9" y="617.06" width="32.3" height="27.80" fill="#5c5c5c"/>
<rect x="905.9" y="617.06" width="32.3" height="27.80" fill="#585858"/>
<rect x="937.9" y="617.06" width="32.3" height="27.80" fill="#505050"/>
<rect x="969.9" y="617.06" width="32.3" height="27.80" fill="#4b4b4b"/>
<rect x="1001.9" y="617.06" width="32.3" height="27.80" fill="#3e3e3e"/>
<rect x="1033.9" y="617.06" width="32.3" height="27.80" fill="#303030"/>
<rect x="1065.9" y="617.06" width="32.3" height="27.80" fill="#262626"/>
<rect x="1097.9" y="617.06" width="32.3" height="27.80" fill="#1e1e1e"/>
<rect x="1129.9" y="617.06" width="32.3" height="27.80" fill="#191919"/>
<rect x="1161.9" y="617.06" width="64.3" height="27.80" fill="#0f0f0f"/>
<rect x="1225.9" y="617.06" width="32.3" height="27.80" fill="#080808"/>
<rect x="1257.9" y="617.06" width="32.3" height="27.80" fill="#0a0a0a"/>
<rect x="1289.9" y="617.06" width="32.3" height="27.80" fill="#141414"/>
<rect x="1321.9" y="617.06" width="32.3" height="27.80" fill="#2a2a2a"/>
<rect x="1353.9" y="617.06" width="32.3" height="27.80" fill="#4e4e4e"/>
<rect x="1385.9" y="617.06" width="32.3" height="27.80" fill="#7a7a7a"/>
<rect x="1417.9" y="617.06" width="32.3" height="27.80" fill="#b4b4b4"/>
<rect x="1449.9" y="617.06" width="32.3" height="27.80" fill="#c2c2c2"/>
<rect x="201.9" y="644.56" width="32.3" height="27.80" fill="#d9d9d9"/>
<rect x="233.9" y="644.56" width="64.3" height="27.80" fill="#cfcfcf"/>
<rect x="297.9" y="644.56" width="32.3" height="27.80" fill="#969696"/>
<rect x="329.9" y="644.56" width="32.3" height="27.80" fill="#8c8c8c"/>
<rect x="361.9" y="644.56" width="32.3" height="27.80" fill="#848484"/>
<rect x="393.9" y="644.56" width="32.3" height="27.80" fill="#6c6c6c"/>
<rect x="425.9" y="644.56" width="32.3" height="27.80" fill="#5f5f5f"/>
<rect x="457.9" y="644.56" width="32.3" height="27.80" fill="#585858"/>
<rect x="489.9" y="644.56" width="64.3" height="27.80" fill="#555555"/>
<rect x="553.9" y="644.56" width="64.3" height="27.80" fill="#585858"/>
<rect x="617.9" y="644.56" width="64.3" height="27.80" fill="#696969"/>
<rect x="681.9" y="644.56" width="64.3" height="27.80" fill="#7a7a7a"/>
<rect x="745.9" y="644.56" width="32.3" height="27.80" fill="#767676"/>
<rect x="777.9" y="644.56" width="96.3" height="27.80" fill="#696969"/>
<rect x="873.9" y="644.56" width="32.3" height="27.80" fill="#626262"/>
<rect x="905.9" y="644.56" width="32.3" height="27.80" fill="#5c5c5c"/>
<rect x="937.9" y="644.56" width="32.3" height="27.80" fill="#4e4e4e"/>
<rect x="969.9" y="644.56" width="32.3" height="27.80" fill="#484848"/>
<rect x="1001.9" y="644.56" width="32.3" height="27.80" fill="#3a3a3a"/>
<rect x="1033.9" y="644.56" width="32.3" height="27.80" fill="#2a2a2a"/>
<rect x="1065.9" y="644.56" width="32.3" height="27.80" fill="#202020"/>
<rect x="1097.9" y="644.56" width="32.3" height="27.80" fill="#141414"/>
<rect x="1129.9" y="644.56" width="32.3" height="27.80" fill="#0a0a0a"/>
<rect x="1161.9" y="644.56" width="64.3" height="27.80" fill="#000000"/>
<rect x="1225.9" y="644.56" width="32.3" height="27.80" fill="#080808"/>
<rect x="1257.9" y="644.56" width="32.3" height="27.80" fill="#0f0f0f"/>
<rect x="1289.9" y="644.56" width="32.3" height="27.80" fill="#262626"/>
<rect x="1321.9" y="644.56" width="32.3" height="27.80" fill="#4e4e4e"/>
<rect x="1353.9" y="644.56" width="32.3" height="27.80" fill="#7d7d7d"/>
<rect x="1385.9" y="644.56" width="32.3" height="27.80" fill="#acacac"/>
<rect x="1417.9" y="644.56" width="32.3" height="27.80" fill="#cfcfcf"/>
<rect x="1449.9" y="644.56" width="32.3" height="27.80" fill="#d9d9d9"/>
<rect x="201.9" y="672.06" width="32.3" height="27.80" fill="#c0c0c0"/>
<rect x="233.9" y="672.06" width="32.3" height="27.80" fill="#b0b0b0"/>
<rect x="265.9" y="672.06" width="32.3" height="27.80" fill="#aaaaaa"/>
<rect x="297.9" y="672.06" width="32.3" height="27.80" fill="#8e8e8e"/>
<rect x="329.9" y="672.06" width="32.3" height="27.80" fill="#7d7d7d"/>
<rect x="361.9" y="672.06" width="32.3" height="27.80" fill="#737373"/>
<rect x="393.9" y="672.06" width="32.3" height="27.80" fill="#646464"/>
<rect x="425.9" y="672.06" width="32.3" height="27.80" fill="#5f5f5f"/>
<rect x="457.9" y="672.06" width="32.3" height="27.80" fill="#585858"/>
<rect x="489.9" y="672.06" width="32.3" height="27.80" fill="#646464"/>
<rect x="521.9" y="672.06" width="64.3" height="27.80" fill="#696969"/>
<rect x="585.9" y="672.06" width="32.3" height="27.80" fill="#767676"/>
<rect x="617.9" y="672.06" width="32.3" height="27.80" fill="#808080"/>
<rect x="649.9" y="672.06" width="64.3" height="27.80" fill="#767676"/>
<rect x="713.9" y="672.06" width="32.3" height="27.80" fill="#808080"/>
<rect x="745.9" y="672.06" width="32.3" height="27.80" fill="#878787"/>
<rect x="777.9" y="672.06" width="32.3" height="27.80" fill="#767676"/>
<rect x="809.9" y="672.06" width="32.3" height="27.80" fill="#707070"/>
<rect x="841.9" y="672.06" width="32.3" height="27.80" fill="#6c6c6c"/>
<rect x="873.9" y="672.06" width="32.3" height="27.80" fill="#626262"/>
<rect x="905.9" y="672.06" width="32.3" height="27.80" fill="#555555"/>
<rect x="937.9" y="672.06" width="32.3" height="27.80" fill="#484848"/>
<rect x="969.9" y="672.06" width="32.3" height="27.80" fill="#3e3e3e"/>
<rect x="1001.9" y="672.06" width="32.3" height="27.80" fill="#343434"/>
<rect x="1033.9" y="672.06" width="32.3" height="27.80" fill="#262626"/>
<rect x="1065.9" y="672.06" width="32.3" height="27.80" fill="#191919"/>
<rect x="1097.9" y="672.06" width="32.3" height="27.80" fill="#0c0c0c"/>
<rect x="1129.9" y="672.06" width="32.3" height="27.80" fill="#050505"/>
<rect x="1161.9" y="672.06" width="32.3" height="27.80" fill="#000000"/>
<rect x="1193.9" y="672.06" width="32.3" height="27.80" fill="#080808"/>
<rect x="1225.9" y="672.06" width="32.3" height="27.80" fill="#1e1e1e"/>
<rect x="1257.9" y="672.06" width="32.3" height="27.80" fill="#373737"/>
<rect x="1289.9" y="672.06" width="32.3" height="27.80" fill="#585858"/>
<rect x="1321.9" y="672.06" width="32.3" height="27.80" fill="#828282"/>
<rect x="1353.9" y="672.06" width="32.3" height="27.80" fill="#a0a0a0"/>
<rect x="1385.9" y="672.06" width="32.3" height="27.80" fill="#acacac"/>
<rect x="1417.9" y="672.06" width="32.3" height="27.80" fill="#e7e7e7"/>
<rect x="201.9" y="699.56" width="32.3" height="27.80" fill="#d9d9d9"/>
<rect x="233.9" y="699.56" width="32.3" height="27.80" fill="#c8c8c8"/>
<rect x="265.9" y="699.56" width="32.3" height="27.80" fill="#aaaaaa"/>
<rect x="297.9" y="699.56" width="32.3" height="27.80" fill="#828282"/>
<rect x="329.9" y="699.56" width="32.3" height="27.80" fill="#787878"/>
<rect x="361.9" y="699.56" width="32.3" height="27.80" fill="#737373"/>
<rect x="393.9" y="699.56" width="32.3" height="27.80" fill="#696969"/>
<rect x="425.9" y="699.56" width="32.3" height="27.80" fill="#707070"/>
<rect x="457.9" y="699.56" width="64.3" height="27.80" fill="#6e6e6e"/>
<rect x="521.9" y="699.56" width="32.3" height="27.80" fill="#787878"/>
<rect x="553.9" y="699.56" width="32.3" height="27.80" fill="#767676"/>
<rect x="585.9" y="699.56" width="32.3" height="27.80" fill="#7a7a7a"/>
<rect x="617.9" y="699.56" width="32.3" height="27.80" fill="#7d7d7d"/>
<rect x="649.9" y="699.56" width="64.3" height="27.80" fill="#8a8a8a"/>
<rect x="713.9" y="699.56" width="32.3" height="27.80" fill="#8c8c8c"/>
<rect x="745.9" y="699.56" width="32.3" height="27.80" fill="#7d7d7d"/>
<rect x="777.9" y="699.56" width="32.3" height="27.80" fill="#737373"/>
<rect x="809.9" y="699.56" width="32.3" height="27.80" fill="#707070"/>
<rect x="841.9" y="699.56" width="32.3" height="27.80" fill="#696969"/>
<rect x="873.9" y="699.56" width="32.3" height="27.80" fill="#585858"/>
<rect x="905.9" y="699.56" width="32.3" height="27.80" fill="#4b4b4b"/>
<rect x="937.9" y="699.56" width="32.3" height="27.80" fill="#3c3c3c"/>
<rect x="969.9" y="699.56" width="32.3" height="27.80" fill="#303030"/>
<rect x="1001.9" y="699.56" width="32.3" height="27.80" fill="#262626"/>
<rect x="1033.9" y="699.56" width="32.3" height="27.80" fill="#1c1c1c"/>
<rect x="1065.9" y="699.56" width="32.3" height="27.80" fill="#0a0a0a"/>
<rect x="1097.9" y="699.56" width="32.3" height="27.80" fill="#080808"/>
<rect x="1129.9" y="699.56" width="32.3" height="27.80" fill="#0a0a0a"/>
<rect x="1161.9" y="699.56" width="32.3" height="27.80" fill="#161616"/>
<rect x="1193.9" y="699.56" width="32.3" height="27.80" fill="#303030"/>
<rect x="1225.9" y="699.56" width="32.3" height="27.80" fill="#555555"/>
<rect x="1257.9" y="699.56" width="32.3" height="27.80" fill="#767676"/>
<rect x="1289.9" y="699.56" width="32.3" height="27.80" fill="#8e8e8e"/>
<rect x="1321.9" y="699.56" width="32.3" height="27.80" fill="#b4b4b4"/>
<rect x="1353.9" y="699.56" width="32.3" height="27.80" fill="#cfcfcf"/>
<rect x="201.9" y="727.06" width="32.3" height="27.80" fill="#b0b0b0"/>
<rect x="233.9" y="727.06" width="32.3" height="27.80" fill="#949494"/>
<rect x="265.9" y="727.06" width="32.3" height="27.80" fill="#8f8f8f"/>
<rect x="297.9" y="727.06" width="32.3" height="27.80" fill="#949494"/>
<rect x="329.9" y="727.06" width="32.3" height="27.80" fill="#808080"/>
<rect x="361.9" y="727.06" width="32.3" height="27.80" fill="#7e7e7e"/>
<rect x="393.9" y="727.06" width="32.3" height="27.80" fill="#7a7a7a"/>
<rect x="425.9" y="727.06" width="32.3" height="27.80" fill="#767676"/>
<rect x="457.9" y="727.06" width="32.3" height="27.80" fill="#828282"/>
<rect x="489.9" y="727.06" width="32.3" height="27.80" fill="#8c8c8c"/>
<rect x="521.9" y="727.06" width="32.3" height="27.80" fill="#a0a0a0"/>
<rect x="553.9" y="727.06" width="32.3" height="27.80" fill="#8c8c8c"/>
<rect x="585.9" y="727.06" width="32.3" height="27.80" fill="#9b9b9b"/>
<rect x="617.9" y="727.06" width="32.3" height="27.80" fill="#949494"/>
<rect x="649.9" y="727.06" width="32.3" height="27.80" fill="#a5a5a5"/>
<rect x="681.9" y="727.06" width="32.3" height="27.80" fill="#919191"/>
<rect x="713.9" y="727.06" width="32.3" height="27.80" fill="#8a8a8a"/>
<rect x="745.9" y="727.06" width="32.3" height="27.80" fill="#808080"/>
<rect x="777.9" y="727.06" width="32.3" height="27.80" fill="#707070"/>
<rect x="809.9" y="727.06" width="32.3" height="27.80" fill="#646464"/>
<rect x="841.9" y="727.06" width="32.3" height="27.80" fill="#585858"/>
<rect x="873.9" y="727.06" width="32.3" height="27.80" fill="#4b4b4b"/>
<rect x="905.9" y="727.06" width="32.3" height="27.80" fill="#414141"/>
<rect x="937.9" y="727.06" width="32.3" height="27.80" fill="#373737"/>
<rect x="969.9" y="727.06" width="32.3" height="27.80" fill="#2d2d2d"/>
<rect x="1001.9" y="727.06" width="32.3" height="27.80" fill="#202020"/>
<rect x="1033.9" y="727.06" width="32.3" height="27.80" fill="#191919"/>
<rect x="1065.9" y="727.06" width="32.3" height="27.80" fill="#1c1c1c"/>
<rect x="1097.9" y="727.06" width="32.3" height="27.80" fill="#1e1e1e"/>
<rect x="1129.9" y="727.06" width="32.3" height="27.80" fill="#323232"/>
<rect x="1161.9" y="727.06" width="32.3" height="27.80" fill="#505050"/>
<rect x="1193.9" y="727.06" width="32.3" height="27.80" fill="#7a7a7a"/>
<rect x="1225.9" y="727.06" width="32.3" height="27.80" fill="#a5a5a5"/>
<rect x="1257.9" y="727.06" width="32.3" height="27.80" fill="#b4b4b4"/>
<rect x="1289.9" y="727.06" width="64.3" height="27.80" fill="#d9d9d9"/>
<rect x="201.9" y="754.56" width="32.3" height="27.80" fill="#a5a5a5"/>
<rect x="233.9" y="754.56" width="32.3" height="27.80" fill="#8f8f8f"/>
<rect x="265.9" y="754.56" width="64.3" height="27.80" fill="#949494"/>
<rect x="329.9" y="754.56" width="32.3" height="27.80" fill="#969696"/>
<rect x="361.9" y="754.56" width="32.3" height="27.80" fill="#949494"/>
<rect x="393.9" y="754.56" width="32.3" height="27.80" fill="#8f8f8f"/>
<rect x="425.9" y="754.56" width="64.3" height="27.80" fill="#989898"/>
<rect x="489.9" y="754.56" width="32.3" height="27.80" fill="#949494"/>
<rect x="521.9" y="754.56" width="32.3" height="27.80" fill="#969696"/>
<rect x="553.9" y="754.56" width="32.3" height="27.80" fill="#a5a5a5"/>
<rect x="585.9" y="754.56" width="32.3" height="27.80" fill="#9b9b9b"/>
<rect x="617.9" y="754.56" width="64.3" height="27.80" fill="#8e8e8e"/>
<rect x="681.9" y="754.56" width="32.3" height="27.80" fill="#9b9b9b"/>
<rect x="713.9" y="754.56" width="32.3" height="27.80" fill="#8a8a8a"/>
<rect x="745.9" y="754.56" width="32.3" height="27.80" fill="#767676"/>
<rect x="777.9" y="754.56" width="32.3" height="27.80" fill="#696969"/>
<rect x="809.9" y="754.56" width="32.3" height="27.80" fill="#5f5f5f"/>
<rect x="841.9" y="754.56" width="32.3" height="27.80" fill="#525252"/>
<rect x="873.9" y="754.56" width="32.3" height="27.80" fill="#444444"/>
<rect x="905.9" y="754.56" width="32.3" height="27.80" fill="#3e3e3e"/>
<rect x="937.9" y="754.56" width="32.3" height="27.80" fill="#303030"/>
<rect x="969.9" y="754.56" width="32.3" height="27.80" fill="#2a2a2a"/>
<rect x="1001.9" y="754.56" width="32.3" height="27.80" fill="#262626"/>
<rect x="1033.9" y="754.56" width="32.3" height="27.80" fill="#2d2d2d"/>
<rect x="1065.9" y="754.56" width="32.3" height="27.80" fill="#343434"/>
<rect x="1097.9" y="754.56" width="32.3" height="27.80" fill="#4b4b4b"/>
<rect x="1129.9" y="754.56" width="32.3" height="27.80" fill="#767676"/>
<rect x="1161.9" y="754.56" width="32.3" height="27.80" fill="#a5a5a5"/>
<rect x="1193.9" y="754.56" width="32.3" height="27.80" fill="#b8b8b8"/>
<rect x="1225.9" y="754.56" width="64.3" height="27.80" fill="#e7e7e7"/>
<rect x="201.9" y="782.06" width="32.3" height="27.80" fill="#aaaaaa"/>
<rect x="233.9" y="782.06" width="32.3" height="27.80" fill="#989898"/>
<rect x="265.9" y="782.06" width="32.3" height="27.80" fill="#bcbcbc"/>
<rect x="297.9" y="782.06" width="64.3" height="27.80" fill="#b2b2b2"/>
<rect x="361.9" y="782.06" width="32.3" height="27.80" fill="#a5a5a5"/>
<rect x="393.9" y="782.06" width="32.3" height="27.80" fill="#b8b8b8"/>
<rect x="425.9" y="782.06" width="32.3" height="27.80" fill="#b4b4b4"/>
<rect x="457.9" y="782.06" width="32.3" height="27.80" fill="#a8a8a8"/>
<rect x="489.9" y="782.06" width="32.3" height="27.80" fill="#9e9e9e"/>
<rect x="521.9" y="782.06" width="32.3" height="27.80" fill="#acacac"/>
<rect x="553.9" y="782.06" width="64.3" height="27.80" fill="#a0a0a0"/>
<rect x="617.9" y="782.06" width="32.3" height="27.80" fill="#8a8a8a"/>
<rect x="649.9" y="782.06" width="32.3" height="27.80" fill="#a0a0a0"/>
<rect x="681.9" y="782.06" width="32.3" height="27.80" fill="#8a8a8a"/>
<rect x="713.9" y="782.06" width="32.3" height="27.80" fill="#878787"/>
<rect x="745.9" y="782.06" width="32.3" height="27.80" fill="#7d7d7d"/>
<rect x="777.9" y="782.06" width="32.3" height="27.80" fill="#696969"/>
<rect x="809.9" y="782.06" width="32.3" height="27.80" fill="#5f5f5f"/>
<rect x="841.9" y="782.06" width="32.3" height="27.80" fill="#505050"/>
<rect x="873.9" y="782.06" width="32.3" height="27.80" fill="#484848"/>
<rect x="905.9" y="782.06" width="32.3" height="27.80" fill="#3e3e3e"/>
<rect x="937.9" y="782.06" width="64.3" height="27.80" fill="#373737"/>
<rect x="1001.9" y="782.06" width="32.3" height="27.80" fill="#414141"/>
<rect x="1033.9" y="782.06" width="32.3" height="27.80" fill="#525252"/>
<rect x="1065.9" y="782.06" width="32.3" height="27.80" fill="#737373"/>
<rect x="1097.9" y="782.06" width="32.3" height="27.80" fill="#a5a5a5"/>
<rect x="1129.9" y="782.06" width="32.3" height="27.80" fill="#c0c0c0"/>
<rect x="201.9" y="809.56" width="32.3" height="27.80" fill="#a5a5a5"/>
<rect x="233.9" y="809.56" width="32.3" height="27.80" fill="#b4b4b4"/>
<rect x="265.9" y="809.56" width="32.3" height="27.80" fill="#aaaaaa"/>
<rect x="297.9" y="809.56" width="32.3" height="27.80" fill="#b4b4b4"/>
<rect x="329.9" y="809.56" width="32.3" height="27.80" fill="#bcbcbc"/>
<rect x="361.9" y="809.56" width="32.3" height="27.80" fill="#b8b8b8"/>
<rect x="393.9" y="809.56" width="32.3" height="27.80" fill="#afafaf"/>
<rect x="425.9" y="809.56" width="32.3" height="27.80" fill="#b8b8b8"/>
<rect x="457.9" y="809.56" width="32.3" height="27.80" fill="#acacac"/>
<rect x="489.9" y="809.56" width="32.3" height="27.80" fill="#aaaaaa"/>
<rect x="521.9" y="809.56" width="64.3" height="27.80" fill="#a5a5a5"/>
<rect x="585.9" y="809.56" width="32.3" height="27.80" fill="#949494"/>
<rect x="617.9" y="809.56" width="32.3" height="27.80" fill="#969696"/>
<rect x="649.9" y="809.56" width="64.3" height="27.80" fill="#8a8a8a"/>
<rect x="713.9" y="809.56" width="32.3" height="27.80" fill="#7d7d7d"/>
<rect x="745.9" y="809.56" width="32.3" height="27.80" fill="#767676"/>
<rect x="777.9" y="809.56" width="32.3" height="27.80" fill="#696969"/>
<rect x="809.9" y="809.56" width="32.3" height="27.80" fill="#646464"/>
<rect x="841.9" y="809.56" width="32.3" height="27.80" fill="#585858"/>
<rect x="873.9" y="809.56" width="32.3" height="27.80" fill="#525252"/>
<rect x="905.9" y="809.56" width="64.3" height="27.80" fill="#4e4e4e"/>
<rect x="969.9" y="809.56" width="32.3" height="27.80" fill="#5f5f5f"/>
<rect x="1001.9" y="809.56" width="32.3" height="27.80" fill="#767676"/>
<rect x="1033.9" y="809.56" width="32.3" height="27.80" fill="#9b9b9b"/>
<rect x="1065.9" y="809.56" width="32.3" height="27.80" fill="#c0c0c0"/>
<rect x="1097.9" y="809.56" width="32.3" height="27.80" fill="#e7e7e7"/>
<rect x="201.9" y="837.06" width="32.3" height="27.80" fill="#b8b8b8"/>
<rect x="233.9" y="837.06" width="64.3" height="27.80" fill="#b4b4b4"/>
<rect x="297.9" y="837.06" width="32.3" height="27.80" fill="#e7e7e7"/>
<rect x="329.9" y="837.06" width="32.3" height="27.80" fill="#c2c2c2"/>
<rect x="361.9" y="837.06" width="32.3" height="27.80" fill="#b4b4b4"/>
<rect x="393.9" y="837.06" width="32.3" height="27.80" fill="#aaaaaa"/>
<rect x="425.9" y="837.06" width="32.3" height="27.80" fill="#b0b0b0"/>
<rect x="457.9" y="837.06" width="64.3" height="27.80" fill="#cfcfcf"/>
<rect x="521.9" y="837.06" width="32.3" height="27.80" fill="#a5a5a5"/>
<rect x="553.9" y="837.06" width="32.3" height="27.80" fill="#aaaaaa"/>
<rect x="585.9" y="837.06" width="32.3" height="27.80" fill="#9b9b9b"/>
<rect x="617.9" y="837.06" width="64.3" height="27.80" fill="#a0a0a0"/>
<rect x="681.9" y="837.06" width="32.3" height="27.80" fill="#8c8c8c"/>
<rect x="713.9" y="837.06" width="32.3" height="27.80" fill="#9b9b9b"/>
<rect x="745.9" y="837.06" width="32.3" height="27.80" fill="#878787"/>
<rect x="777.9" y="837.06" width="32.3" height="27.80" fill="#7d7d7d"/>
<rect x="809.9" y="837.06" width="64.3" height="27.80" fill="#767676"/>
<rect x="873.9" y="837.06" width="32.3" height="27.80" fill="#737373"/>
<rect x="905.9" y="837.06" width="32.3" height="27.80" fill="#7a7a7a"/>
<rect x="937.9" y="837.06" width="32.3" height="27.80" fill="#8c8c8c"/>
<rect x="969.9" y="837.06" width="32.3" height="27.80" fill="#a0a0a0"/>
<rect x="1001.9" y="837.06" width="32.3" height="27.80" fill="#c8c8c8"/>
<rect x="1033.9" y="837.06" width="32.3" height="27.80" fill="#d9d9d9"/>
<rect x="201.9" y="864.56" width="32.3" height="27.80" fill="#d9d9d9"/>
<rect x="233.9" y="864.56" width="64.3" height="27.80" fill="#cfcfcf"/>
<rect x="329.9" y="864.56" width="32.3" height="27.80" fill="#d9d9d9"/>
<rect x="361.9" y="864.56" width="32.3" height="27.80" fill="#cfcfcf"/>
<rect x="393.9" y="864.56" width="32.3" height="27.80" fill="#e7e7e7"/>
<rect x="425.9" y="864.56" width="64.3" height="27.80" fill="#d9d9d9"/>
<rect x="489.9" y="864.56" width="32.3" height="27.80" fill="#c8c8c8"/>
<rect x="521.9" y="864.56" width="32.3" height="27.80" fill="#acacac"/>
<rect x="553.9" y="864.56" width="32.3" height="27.80" fill="#a5a5a5"/>
<rect x="585.9" y="864.56" width="32.3" height="27.80" fill="#a0a0a0"/>
<rect x="617.9" y="864.56" width="32.3" height="27.80" fill="#acacac"/>
<rect x="649.9" y="864.56" width="32.3" height="27.80" fill="#a0a0a0"/>
<rect x="681.9" y="864.56" width="64.3" height="27.80" fill="#9b9b9b"/>
<rect x="745.9" y="864.56" width="32.3" height="27.80" fill="#969696"/>
<rect x="777.9" y="864.56" width="32.3" height="27.80" fill="#8e8e8e"/>
<rect x="809.9" y="864.56" width="64.3" height="27.80" fill="#a5a5a5"/>
<rect x="873.9" y="864.56" width="32.3" height="27.80" fill="#b4b4b4"/>
<rect x="905.9" y="864.56" width="32.3" height="27.80" fill="#c2c2c2"/>
<rect x="201.9" y="892.06" width="32.3" height="27.80" fill="#e7e7e7"/>
<rect x="233.9" y="892.06" width="32.3" height="27.80" fill="#cfcfcf"/>
<rect x="265.9" y="892.06" width="32.3" height="27.80" fill="#d9d9d9"/>
<rect x="329.9" y="892.06" width="64.3" height="27.80" fill="#cfcfcf"/>
<rect x="393.9" y="892.06" width="64.3" height="27.80" fill="#e7e7e7"/>
<rect x="457.9" y="892.06" width="32.3" height="27.80" fill="#c2c2c2"/>
<rect x="489.9" y="892.06" width="32.3" height="27.80" fill="#b8b8b8"/>
<rect x="521.9" y="892.06" width="32.3" height="27.80" fill="#acacac"/>
<rect x="553.9" y="892.06" width="32.3" height="27.80" fill="#cfcfcf"/>
<rect x="585.9" y="892.06" width="32.3" height="27.80" fill="#c0c0c0"/>
<rect x="617.9" y="892.06" width="32.3" height="27.80" fill="#aaaaaa"/>
<rect x="649.9" y="892.06" width="32.3" height="27.80" fill="#c0c0c0"/>
<rect x="681.9" y="892.06" width="32.3" height="27.80" fill="#acacac"/>
<rect x="713.9" y="892.06" width="32.3" height="27.80" fill="#a8a8a8"/>
<rect x="745.9" y="892.06" width="32.3" height="27.80" fill="#b4b4b4"/>
<rect x="777.9" y="892.06" width="32.3" height="27.80" fill="#b0b0b0"/>
<rect x="809.9" y="892.06" width="32.3" height="27.80" fill="#c8c8c8"/>
<rect x="201.9" y="919.56" width="32.3" height="27.80" fill="#e7e7e7"/>
<rect x="265.9" y="919.56" width="32.3" height="27.80" fill="#cfcfcf"/>
<rect x="361.9" y="919.56" width="32.3" height="27.80" fill="#e7e7e7"/>
<rect x="425.9" y="919.56" width="32.3" height="27.80" fill="#e7e7e7"/>
<rect x="489.9" y="919.56" width="32.3" height="27.80" fill="#cfcfcf"/>
<rect x="553.9" y="919.56" width="64.3" height="27.80" fill="#c0c0c0"/>
<rect x="617.9" y="919.56" width="32.3" height="27.80" fill="#b4b4b4"/>
<rect x="649.9" y="919.56" width="32.3" height="27.80" fill="#d9d9d9"/>
<rect x="681.9" y="919.56" width="32.3" height="27.80" fill="#e7e7e7"/>
<rect x="713.9" y="919.56" width="32.3" height="27.80" fill="#d9d9d9"/>
<rect x="777.9" y="919.56" width="32.3" height="27.80" fill="#cfcfcf"/>
<rect x="233.9" y="947.06" width="32.3" height="27.80" fill="#e7e7e7"/>
<rect x="393.9" y="947.06" width="64.3" height="27.80" fill="#e7e7e7"/>
<rect x="489.9" y="947.06" width="32.3" height="27.80" fill="#cfcfcf"/>
<rect x="553.9" y="947.06" width="96.3" height="27.80" fill="#e7e7e7"/>
<rect x="713.9" y="947.06" width="32.3" height="27.80" fill="#e7e7e7"/>
<rect x="201.9" y="974.56" width="32.3" height="27.80" fill="#e7e7e7"/>
<rect x="457.9" y="974.56" width="32.3" height="27.80" fill="#e7e7e7"/>
<rect x="649.9" y="974.56" width="32.3" height="27.80" fill="#e7e7e7"/>
<rect x="233.9" y="1002.06" width="64.3" height="27.80" fill="#e7e7e7"/>
<rect x="329.9" y="1002.06" width="32.3" height="27.80" fill="#e7e7e7"/>
<rect x="393.9" y="1002.06" width="32.3" height="27.80" fill="#d9d9d9"/>
</g>
<g clip-path="url(#ax)"><g fill="#66cdaa" stroke="#0a1a12" stroke-width="0.9">
<circle cx="1014.9" cy="409.8" r="9.4"/>
<circle cx="1052.7" cy="356.2" r="9.4"/>
<circle cx="1116.8" cy="281.4" r="9.4"/>
<circle cx="1099.3" cy="363.9" r="9.4"/>
<circle cx="951.0" cy="455.3" r="9.4"/>
<circle cx="904.2" cy="401.1" r="9.4"/>
<circle cx="1044.8" cy="341.8" r="9.4"/>
<circle cx="939.5" cy="473.0" r="9.4"/>
<circle cx="1002.1" cy="415.7" r="9.4"/>
<circle cx="1233.8" cy="240.4" r="9.4"/>
<circle cx="905.6" cy="497.5" r="9.4"/>
<circle cx="1080.7" cy="386.8" r="9.4"/>
<circle cx="1164.7" cy="290.0" r="9.4"/>
<circle cx="1012.4" cy="429.0" r="9.4"/>
<circle cx="1072.8" cy="390.0" r="9.4"/>
<circle cx="817.8" cy="487.6" r="9.4"/>
<circle cx="1029.8" cy="309.2" r="9.4"/>
<circle cx="1090.9" cy="390.4" r="9.4"/>
<circle cx="1206.9" cy="283.3" r="9.4"/>
<circle cx="824.4" cy="515.8" r="9.4"/>
<circle cx="1009.9" cy="370.9" r="9.4"/>
<circle cx="999.9" cy="332.2" r="9.4"/>
<circle cx="1079.3" cy="340.2" r="9.4"/>
<circle cx="1137.1" cy="299.7" r="9.4"/>
<circle cx="1101.2" cy="296.7" r="9.4"/>
<circle cx="867.7" cy="531.1" r="9.4"/>
<circle cx="812.5" cy="561.5" r="9.4"/>
<circle cx="1130.5" cy="249.8" r="9.4"/>
<circle cx="922.7" cy="477.7" r="9.4"/>
<circle cx="1162.7" cy="270.8" r="9.4"/>
<circle cx="906.3" cy="445.3" r="9.4"/>
<circle cx="1133.8" cy="288.9" r="9.4"/>
<circle cx="990.1" cy="406.4" r="9.4"/>
<circle cx="1146.9" cy="339.8" r="9.4"/>
<circle cx="1156.7" cy="246.9" r="9.4"/>
<circle cx="984.5" cy="438.5" r="9.4"/>
<circle cx="956.5" cy="470.3" r="9.4"/>
<circle cx="861.8" cy="523.4" r="9.4"/>
<circle cx="1108.4" cy="304.2" r="9.4"/>
<circle cx="1012.3" cy="397.6" r="9.4"/>
<circle cx="1075.5" cy="343.3" r="9.4"/>
<circle cx="1161.4" cy="370.7" r="9.4"/>
<circle cx="1060.7" cy="370.3" r="9.4"/>
<circle cx="906.5" cy="504.9" r="9.4"/>
<circle cx="1107.0" cy="270.8" r="9.4"/>
<circle cx="766.1" cy="526.8" r="9.4"/>
<circle cx="1162.5" cy="226.6" r="9.4"/>
<circle cx="1009.0" cy="425.7" r="9.4"/>
<circle cx="1015.5" cy="304.8" r="9.4"/>
<circle cx="768.6" cy="570.5" r="9.4"/>
<circle cx="806.5" cy="561.8" r="9.4"/>
<circle cx="911.5" cy="490.1" r="9.4"/>
<circle cx="1107.7" cy="300.3" r="9.4"/>
<circle cx="1031.7" cy="300.1" r="9.4"/>
<circle cx="997.1" cy="437.8" r="9.4"/>
<circle cx="866.1" cy="509.7" r="9.4"/>
<circle cx="964.6" cy="470.8" r="9.4"/>
<circle cx="1042.2" cy="381.3" r="9.4"/>
<circle cx="1002.6" cy="382.1" r="9.4"/>
<circle cx="1044.8" cy="320.4" r="9.4"/>
<circle cx="919.2" cy="390.4" r="9.4"/>
<circle cx="900.8" cy="499.0" r="9.4"/>
<circle cx="930.5" cy="452.9" r="9.4"/>
<circle cx="1171.3" cy="360.3" r="9.4"/>
<circle cx="770.5" cy="564.3" r="9.4"/>
<circle cx="887.4" cy="476.7" r="9.4"/>
<circle cx="1236.3" cy="287.2" r="9.4"/>
<circle cx="1054.9" cy="386.0" r="9.4"/>
<circle cx="1148.0" cy="381.3" r="9.4"/>
<circle cx="777.3" cy="558.1" r="9.4"/>
<circle cx="763.3" cy="475.1" r="9.4"/>
<circle cx="682.3" cy="550.5" r="9.4"/>
<circle cx="1179.6" cy="215.0" r="9.4"/>
<circle cx="1209.5" cy="324.7" r="9.4"/>
<circle cx="1113.6" cy="268.5" r="9.4"/>
<circle cx="1223.7" cy="282.2" r="9.4"/>
<circle cx="1034.8" cy="378.2" r="9.4"/>
<circle cx="1150.0" cy="360.0" r="9.4"/>
<circle cx="1109.1" cy="317.0" r="9.4"/>
<circle cx="1009.9" cy="348.4" r="9.4"/>
<circle cx="1110.3" cy="261.7" r="9.4"/>
<circle cx="1151.2" cy="247.4" r="9.4"/>
<circle cx="902.7" cy="487.4" r="9.4"/>
<circle cx="898.9" cy="493.2" r="9.4"/>
<circle cx="1157.3" cy="299.9" r="9.4"/>
<circle cx="1232.1" cy="273.4" r="9.4"/>
<circle cx="1228.5" cy="268.6" r="9.4"/>
<circle cx="1131.4" cy="388.0" r="9.4"/>
<circle cx="1094.1" cy="321.2" r="9.4"/>
<circle cx="1098.6" cy="336.6" r="9.4"/>
<circle cx="1028.1" cy="327.0" r="9.4"/>
<circle cx="1032.1" cy="309.7" r="9.4"/>
<circle cx="1119.0" cy="256.3" r="9.4"/>
<circle cx="1029.8" cy="371.6" r="9.4"/>
<circle cx="822.4" cy="506.5" r="9.4"/>
<circle cx="1033.7" cy="389.4" r="9.4"/>
<circle cx="958.8" cy="409.5" r="9.4"/>
<circle cx="878.4" cy="442.6" r="9.4"/>
<circle cx="1103.0" cy="394.1" r="9.4"/>
<circle cx="1020.1" cy="384.4" r="9.4"/>
<circle cx="874.0" cy="533.1" r="9.4"/>
<circle cx="1174.8" cy="240.4" r="9.4"/>
<circle cx="976.4" cy="428.7" r="9.4"/>
<circle cx="860.8" cy="526.0" r="9.4"/>
<circle cx="1201.0" cy="228.9" r="9.4"/>
<circle cx="1154.5" cy="253.3" r="9.4"/>
<circle cx="1114.1" cy="239.5" r="9.4"/>
<circle cx="915.1" cy="485.8" r="9.4"/>
<circle cx="707.4" cy="585.5" r="9.4"/>
<circle cx="1129.1" cy="264.3" r="9.4"/>
<circle cx="1126.3" cy="277.7" r="9.4"/>
<circle cx="1129.7" cy="242.7" r="9.4"/>
<circle cx="938.2" cy="432.5" r="9.4"/>
<circle cx="1008.5" cy="314.5" r="9.4"/>
<circle cx="1203.8" cy="271.5" r="9.4"/>
<circle cx="960.0" cy="447.0" r="9.4"/>
<circle cx="1081.5" cy="421.0" r="9.4"/>
<circle cx="1052.8" cy="338.8" r="9.4"/>
<circle cx="925.2" cy="359.1" r="9.4"/>
<circle cx="1058.3" cy="427.7" r="9.4"/>
<circle cx="981.2" cy="369.6" r="9.4"/>
<circle cx="1162.2" cy="319.5" r="9.4"/>
<circle cx="855.5" cy="461.6" r="9.4"/>
<circle cx="1156.7" cy="230.3" r="9.4"/>
<circle cx="780.6" cy="488.9" r="9.4"/>
<circle cx="1230.7" cy="248.1" r="9.4"/>
<circle cx="967.7" cy="386.0" r="9.4"/>
<circle cx="974.4" cy="430.0" r="9.4"/>
<circle cx="1103.8" cy="351.1" r="9.4"/>
<circle cx="1188.7" cy="253.7" r="9.4"/>
<circle cx="861.2" cy="525.2" r="9.4"/>
<circle cx="1079.1" cy="289.9" r="9.4"/>
<circle cx="860.2" cy="462.8" r="9.4"/>
<circle cx="1040.4" cy="391.5" r="9.4"/>
<circle cx="1035.8" cy="332.3" r="9.4"/>
<circle cx="859.9" cy="543.5" r="9.4"/>
<circle cx="1040.8" cy="401.6" r="9.4"/>
<circle cx="1102.1" cy="266.6" r="9.4"/>
<circle cx="961.2" cy="433.4" r="9.4"/>
<circle cx="1239.5" cy="263.7" r="9.4"/>
<circle cx="1083.9" cy="321.3" r="9.4"/>
<circle cx="1086.0" cy="261.6" r="9.4"/>
<circle cx="1174.3" cy="306.0" r="9.4"/>
<circle cx="1070.7" cy="401.8" r="9.4"/>
<circle cx="1057.5" cy="383.0" r="9.4"/>
<circle cx="1029.4" cy="420.5" r="9.4"/>
<circle cx="1154.5" cy="333.5" r="9.4"/>
<circle cx="1166.2" cy="244.0" r="9.4"/>
<circle cx="1120.2" cy="268.3" r="9.4"/>
<circle cx="1033.0" cy="440.9" r="9.4"/>
<circle cx="1167.7" cy="325.7" r="9.4"/>
<circle cx="949.0" cy="484.0" r="9.4"/>
<circle cx="977.3" cy="386.8" r="9.4"/>
<circle cx="1103.0" cy="373.0" r="9.4"/>
<circle cx="1014.6" cy="308.3" r="9.4"/>
<circle cx="1066.6" cy="293.1" r="9.4"/>
<circle cx="955.8" cy="376.0" r="9.4"/>
<circle cx="1025.5" cy="400.1" r="9.4"/>
<circle cx="1180.2" cy="316.7" r="9.4"/>
<circle cx="1236.6" cy="257.2" r="9.4"/>
<circle cx="992.2" cy="400.4" r="9.4"/>
<circle cx="1084.9" cy="418.3" r="9.4"/>
<circle cx="998.6" cy="382.3" r="9.4"/>
<circle cx="1136.2" cy="278.8" r="9.4"/>
<circle cx="1067.0" cy="400.1" r="9.4"/>
<circle cx="1197.5" cy="299.8" r="9.4"/>
<circle cx="734.0" cy="572.9" r="9.4"/>
<circle cx="1097.9" cy="280.1" r="9.4"/>
<circle cx="1236.0" cy="258.3" r="9.4"/>
<circle cx="875.7" cy="459.4" r="9.4"/>
<circle cx="1134.4" cy="240.3" r="9.4"/>
<circle cx="1062.4" cy="329.2" r="9.4"/>
<circle cx="1159.9" cy="299.9" r="9.4"/>
<circle cx="970.5" cy="424.5" r="9.4"/>
<circle cx="1051.9" cy="349.4" r="9.4"/>
<circle cx="768.9" cy="514.2" r="9.4"/>
<circle cx="1192.3" cy="271.5" r="9.4"/>
<circle cx="1169.6" cy="351.3" r="9.4"/>
<circle cx="1032.4" cy="294.3" r="9.4"/>
<circle cx="1236.7" cy="279.0" r="9.4"/>
<circle cx="900.8" cy="471.8" r="9.4"/>
<circle cx="1212.8" cy="259.1" r="9.4"/>
<circle cx="905.0" cy="444.5" r="9.4"/>
<circle cx="1080.1" cy="357.8" r="9.4"/>
<circle cx="1098.3" cy="365.0" r="9.4"/>
<circle cx="1033.6" cy="320.0" r="9.4"/>
<circle cx="911.9" cy="487.9" r="9.4"/>
<circle cx="1052.4" cy="363.2" r="9.4"/>
<circle cx="683.2" cy="567.0" r="9.4"/>
<circle cx="1189.0" cy="228.1" r="9.4"/>
<circle cx="1088.5" cy="264.2" r="9.4"/>
<circle cx="1219.5" cy="237.3" r="9.4"/>
<circle cx="1097.1" cy="280.9" r="9.4"/>
<circle cx="825.2" cy="545.6" r="9.4"/>
<circle cx="1108.5" cy="369.8" r="9.4"/>
<circle cx="999.6" cy="333.4" r="9.4"/>
<circle cx="1066.6" cy="430.0" r="9.4"/>
<circle cx="1174.9" cy="360.8" r="9.4"/>
<circle cx="1015.7" cy="324.9" r="9.4"/>
<circle cx="960.5" cy="471.4" r="9.4"/>
<circle cx="1153.0" cy="227.8" r="9.4"/>
<circle cx="1227.1" cy="238.1" r="9.4"/>
<circle cx="847.7" cy="482.9" r="9.4"/>
<circle cx="1116.4" cy="262.4" r="9.4"/>
<circle cx="1127.9" cy="350.3" r="9.4"/>
<circle cx="1164.1" cy="271.2" r="9.4"/>
<circle cx="909.3" cy="438.6" r="9.4"/>
<circle cx="890.9" cy="416.5" r="9.4"/>
<circle cx="935.0" cy="362.3" r="9.4"/>
<circle cx="975.4" cy="388.6" r="9.4"/>
<circle cx="1086.6" cy="394.9" r="9.4"/>
<circle cx="942.4" cy="404.9" r="9.4"/>
<circle cx="1177.4" cy="253.9" r="9.4"/>
<circle cx="990.7" cy="351.4" r="9.4"/>
<circle cx="1045.5" cy="441.7" r="9.4"/>
<circle cx="911.5" cy="454.2" r="9.4"/>
<circle cx="1138.5" cy="238.0" r="9.4"/>
<circle cx="1088.3" cy="344.1" r="9.4"/>
<circle cx="1133.9" cy="299.7" r="9.4"/>
<circle cx="1162.5" cy="266.4" r="9.4"/>
<circle cx="1198.1" cy="339.6" r="9.4"/>
<circle cx="1002.0" cy="394.7" r="9.4"/>
<circle cx="1220.2" cy="291.6" r="9.4"/>
<circle cx="1017.1" cy="369.6" r="9.4"/>
<circle cx="1058.0" cy="354.7" r="9.4"/>
<circle cx="1116.1" cy="304.5" r="9.4"/>
<circle cx="1170.0" cy="228.9" r="9.4"/>
<circle cx="1226.2" cy="283.1" r="9.4"/>
<circle cx="924.9" cy="387.4" r="9.4"/>
<circle cx="1204.0" cy="263.9" r="9.4"/>
<circle cx="1140.1" cy="352.4" r="9.4"/>
<circle cx="1233.7" cy="276.7" r="9.4"/>
<circle cx="774.3" cy="584.5" r="9.4"/>
<circle cx="1235.0" cy="247.2" r="9.4"/>
<circle cx="1105.5" cy="261.5" r="9.4"/>
<circle cx="1161.3" cy="238.9" r="9.4"/>
<circle cx="1129.6" cy="303.7" r="9.4"/>
<circle cx="925.1" cy="467.9" r="9.4"/>
<circle cx="898.2" cy="400.7" r="9.4"/>
<circle cx="902.3" cy="509.2" r="9.4"/>
<circle cx="1137.0" cy="252.0" r="9.4"/>
<circle cx="1023.2" cy="422.7" r="9.4"/>
<circle cx="1140.7" cy="265.4" r="9.4"/>
<circle cx="942.0" cy="369.0" r="9.4"/>
<circle cx="1104.1" cy="289.9" r="9.4"/>
<circle cx="1036.1" cy="439.2" r="9.4"/>
<circle cx="1225.1" cy="268.2" r="9.4"/>
<circle cx="883.3" cy="512.7" r="9.4"/>
<circle cx="1100.9" cy="321.1" r="9.4"/>
<circle cx="1044.8" cy="385.9" r="9.4"/>
<circle cx="1145.8" cy="272.4" r="9.4"/>
<circle cx="1137.2" cy="239.8" r="9.4"/>
<circle cx="1164.4" cy="233.7" r="9.4"/>
<circle cx="976.4" cy="439.5" r="9.4"/>
<circle cx="1138.6" cy="385.6" r="9.4"/>
<circle cx="768.9" cy="472.3" r="9.4"/>
<circle cx="944.9" cy="392.8" r="9.4"/>
<circle cx="886.3" cy="521.2" r="9.4"/>
<circle cx="1073.7" cy="312.2" r="9.4"/>
<circle cx="944.7" cy="389.1" r="9.4"/>
<circle cx="888.2" cy="451.6" r="9.4"/>
<circle cx="1001.0" cy="410.1" r="9.4"/>
<circle cx="774.5" cy="523.5" r="9.4"/>
<circle cx="918.9" cy="433.8" r="9.4"/>
<circle cx="1053.3" cy="388.5" r="9.4"/>
<circle cx="1064.1" cy="341.7" r="9.4"/>
<circle cx="1166.6" cy="338.6" r="9.4"/>
<circle cx="965.0" cy="433.1" r="9.4"/>
<circle cx="1015.4" cy="404.3" r="9.4"/>
<circle cx="998.0" cy="360.1" r="9.4"/>
<circle cx="1140.7" cy="241.7" r="9.4"/>
<circle cx="808.1" cy="511.4" r="9.4"/>
<circle cx="959.6" cy="480.9" r="9.4"/>
<circle cx="1171.6" cy="258.6" r="9.4"/>
<circle cx="1226.2" cy="233.2" r="9.4"/>
<circle cx="1085.1" cy="262.3" r="9.4"/>
<circle cx="897.8" cy="426.0" r="9.4"/>
<circle cx="891.1" cy="520.3" r="9.4"/>
<circle cx="1065.0" cy="273.1" r="9.4"/>
<circle cx="1070.5" cy="319.0" r="9.4"/>
<circle cx="938.8" cy="411.0" r="9.4"/>
<circle cx="847.1" cy="494.5" r="9.4"/>
<circle cx="895.8" cy="422.4" r="9.4"/>
<circle cx="1121.3" cy="295.7" r="9.4"/>
<circle cx="907.3" cy="425.3" r="9.4"/>
<circle cx="948.2" cy="357.3" r="9.4"/>
<circle cx="1155.3" cy="273.5" r="9.4"/>
<circle cx="977.7" cy="444.3" r="9.4"/>
<circle cx="1119.7" cy="239.6" r="9.4"/>
<circle cx="878.4" cy="417.2" r="9.4"/>
<circle cx="899.7" cy="510.8" r="9.4"/>
<circle cx="953.2" cy="473.9" r="9.4"/>
<circle cx="1041.8" cy="430.1" r="9.4"/>
<circle cx="928.0" cy="423.5" r="9.4"/>
<circle cx="1193.3" cy="236.5" r="9.4"/>
<circle cx="1004.3" cy="458.9" r="9.4"/>
<circle cx="866.6" cy="437.6" r="9.4"/>
<circle cx="941.0" cy="420.2" r="9.4"/>
<circle cx="1198.6" cy="323.6" r="9.4"/>
<circle cx="986.3" cy="402.1" r="9.4"/>
<circle cx="1137.1" cy="282.7" r="9.4"/>
<circle cx="869.5" cy="438.7" r="9.4"/>
<circle cx="713.0" cy="555.6" r="9.4"/>
<circle cx="1018.8" cy="433.5" r="9.4"/>
<circle cx="1013.4" cy="333.8" r="9.4"/>
<circle cx="1077.7" cy="270.0" r="9.4"/>
<circle cx="990.3" cy="465.4" r="9.4"/>
<circle cx="913.8" cy="412.1" r="9.4"/>
<circle cx="1094.9" cy="389.2" r="9.4"/>
<circle cx="894.4" cy="515.8" r="9.4"/>
<circle cx="725.6" cy="610.6" r="9.4"/>
<circle cx="1110.6" cy="374.1" r="9.4"/>
<circle cx="1162.7" cy="341.5" r="9.4"/>
<circle cx="1107.0" cy="253.2" r="9.4"/>
<circle cx="957.7" cy="385.4" r="9.4"/>
<circle cx="1001.8" cy="346.5" r="9.4"/>
<circle cx="1098.2" cy="391.3" r="9.4"/>
<circle cx="1135.7" cy="349.2" r="9.4"/>
<circle cx="987.9" cy="455.4" r="9.4"/>
<circle cx="1152.6" cy="223.8" r="9.4"/>
<circle cx="1023.6" cy="385.9" r="9.4"/>
<circle cx="1120.0" cy="249.2" r="9.4"/>
<circle cx="1065.8" cy="278.1" r="9.4"/>
<circle cx="1052.8" cy="436.9" r="9.4"/>
<circle cx="909.4" cy="388.0" r="9.4"/>
<circle cx="1211.9" cy="272.2" r="9.4"/>
<circle cx="847.7" cy="514.9" r="9.4"/>
<circle cx="1145.5" cy="229.3" r="9.4"/>
<circle cx="951.5" cy="416.4" r="9.4"/>
<circle cx="1000.4" cy="410.9" r="9.4"/>
<circle cx="1211.4" cy="306.0" r="9.4"/>
<circle cx="930.8" cy="367.6" r="9.4"/>
<circle cx="1081.4" cy="325.4" r="9.4"/>
<circle cx="1073.7" cy="423.9" r="9.4"/>
<circle cx="1195.1" cy="338.6" r="9.4"/>
<circle cx="1216.1" cy="298.8" r="9.4"/>
<circle cx="1083.8" cy="270.7" r="9.4"/>
<circle cx="1116.0" cy="294.7" r="9.4"/>
<circle cx="1225.3" cy="301.7" r="9.4"/>
<circle cx="1120.7" cy="321.8" r="9.4"/>
<circle cx="1180.2" cy="211.1" r="9.4"/>
<circle cx="1048.3" cy="431.5" r="9.4"/>
<circle cx="1026.9" cy="422.7" r="9.4"/>
<circle cx="1194.2" cy="345.9" r="9.4"/>
<circle cx="730.0" cy="566.0" r="9.4"/>
<circle cx="1223.4" cy="288.4" r="9.4"/>
<circle cx="1051.5" cy="406.0" r="9.4"/>
<circle cx="1160.3" cy="279.9" r="9.4"/>
<circle cx="918.1" cy="491.3" r="9.4"/>
<circle cx="965.9" cy="413.5" r="9.4"/>
<circle cx="1227.2" cy="253.1" r="9.4"/>
<circle cx="1057.2" cy="422.0" r="9.4"/>
<circle cx="1232.0" cy="284.1" r="9.4"/>
<circle cx="1120.9" cy="369.6" r="9.4"/>
<circle cx="1219.6" cy="323.5" r="9.4"/>
<circle cx="1009.4" cy="440.1" r="9.4"/>
<circle cx="984.0" cy="361.2" r="9.4"/>
<circle cx="1099.7" cy="395.2" r="9.4"/>
<circle cx="908.3" cy="393.7" r="9.4"/>
<circle cx="1061.0" cy="373.9" r="9.4"/>
<circle cx="1068.7" cy="366.2" r="9.4"/>
<circle cx="708.8" cy="641.4" r="9.4"/>
<circle cx="1175.9" cy="302.5" r="9.4"/>
<circle cx="984.2" cy="344.8" r="9.4"/>
<circle cx="682.3" cy="575.5" r="9.4"/>
<circle cx="1168.8" cy="362.7" r="9.4"/>
<circle cx="863.7" cy="435.0" r="9.4"/>
<circle cx="1202.4" cy="247.1" r="9.4"/>
<circle cx="1231.8" cy="237.2" r="9.4"/>
<circle cx="1218.1" cy="270.0" r="9.4"/>
<circle cx="1100.4" cy="321.5" r="9.4"/>
<circle cx="1118.6" cy="272.6" r="9.4"/>
<circle cx="1099.5" cy="332.7" r="9.4"/>
<circle cx="1209.5" cy="334.4" r="9.4"/>
<circle cx="1160.9" cy="323.2" r="9.4"/>
<circle cx="1083.5" cy="334.2" r="9.4"/>
<circle cx="1040.7" cy="312.4" r="9.4"/>
<circle cx="1043.0" cy="288.1" r="9.4"/>
<circle cx="1180.2" cy="359.8" r="9.4"/>
<circle cx="917.0" cy="405.6" r="9.4"/>
<circle cx="1177.8" cy="238.1" r="9.4"/>
<circle cx="1027.4" cy="403.2" r="9.4"/>
<circle cx="1107.8" cy="415.7" r="9.4"/>
<circle cx="1228.7" cy="243.6" r="9.4"/>
<circle cx="1140.5" cy="375.2" r="9.4"/>
<circle cx="1204.9" cy="295.5" r="9.4"/>
<circle cx="772.5" cy="576.8" r="9.4"/>
<circle cx="897.1" cy="495.7" r="9.4"/>
<circle cx="1039.4" cy="443.6" r="9.4"/>
<circle cx="985.3" cy="371.9" r="9.4"/>
<circle cx="1233.1" cy="283.3" r="9.4"/>
<circle cx="932.5" cy="483.0" r="9.4"/>
<circle cx="981.7" cy="445.8" r="9.4"/>
<circle cx="1113.5" cy="407.2" r="9.4"/>
<circle cx="1104.0" cy="317.5" r="9.4"/>
<circle cx="1120.4" cy="328.4" r="9.4"/>
<circle cx="908.1" cy="472.8" r="9.4"/>
<circle cx="1047.3" cy="358.3" r="9.4"/>
<circle cx="767.5" cy="500.2" r="9.4"/>
<circle cx="1037.4" cy="444.6" r="9.4"/>
<circle cx="1079.6" cy="390.5" r="9.4"/>
<circle cx="1119.6" cy="350.7" r="9.4"/>
<circle cx="1102.7" cy="310.3" r="9.4"/>
<circle cx="932.5" cy="439.8" r="9.4"/>
<circle cx="1183.2" cy="307.5" r="9.4"/>
<circle cx="1228.1" cy="282.5" r="9.4"/>
<circle cx="1055.1" cy="410.7" r="9.4"/>
<circle cx="959.8" cy="392.4" r="9.4"/>
<circle cx="1180.9" cy="274.9" r="9.4"/>
<circle cx="941.3" cy="413.3" r="9.4"/>
<circle cx="1149.1" cy="366.1" r="9.4"/>
<circle cx="1127.0" cy="311.3" r="9.4"/>
<circle cx="1186.5" cy="214.0" r="9.4"/>
<circle cx="946.4" cy="381.2" r="9.4"/>
<circle cx="991.7" cy="351.8" r="9.4"/>
<circle cx="808.7" cy="562.4" r="9.4"/>
<circle cx="1133.0" cy="354.2" r="9.4"/>
<circle cx="957.1" cy="471.7" r="9.4"/>
<circle cx="1108.6" cy="360.1" r="9.4"/>
<circle cx="1193.1" cy="221.0" r="9.4"/>
<circle cx="1059.2" cy="298.1" r="9.4"/>
<circle cx="846.6" cy="462.9" r="9.4"/>
<circle cx="1124.8" cy="296.6" r="9.4"/>
<circle cx="1080.9" cy="275.1" r="9.4"/>
<circle cx="1192.2" cy="287.4" r="9.4"/>
<circle cx="1220.5" cy="300.7" r="9.4"/>
<circle cx="1044.9" cy="408.8" r="9.4"/>
<circle cx="773.4" cy="526.0" r="9.4"/>
<circle cx="871.5" cy="424.5" r="9.4"/>
<circle cx="996.1" cy="377.7" r="9.4"/>
<circle cx="1225.0" cy="255.9" r="9.4"/>
<circle cx="1105.2" cy="351.2" r="9.4"/>
<circle cx="951.2" cy="455.2" r="9.4"/>
<circle cx="1112.5" cy="282.9" r="9.4"/>
<circle cx="1135.3" cy="270.1" r="9.4"/>
<circle cx="1140.2" cy="347.5" r="9.4"/>
<circle cx="978.3" cy="366.0" r="9.4"/>
<circle cx="1070.8" cy="375.6" r="9.4"/>
<circle cx="933.4" cy="488.7" r="9.4"/>
<circle cx="942.5" cy="423.9" r="9.4"/>
<circle cx="847.5" cy="481.0" r="9.4"/>
<circle cx="1048.4" cy="299.2" r="9.4"/>
<circle cx="1027.8" cy="332.5" r="9.4"/>
<circle cx="1106.3" cy="415.5" r="9.4"/>
<circle cx="844.2" cy="482.6" r="9.4"/>
<circle cx="897.6" cy="394.3" r="9.4"/>
<circle cx="1083.7" cy="332.4" r="9.4"/>
<circle cx="764.3" cy="493.6" r="9.4"/>
<circle cx="904.4" cy="393.1" r="9.4"/>
<circle cx="1220.2" cy="261.2" r="9.4"/>
<circle cx="1019.2" cy="345.0" r="9.4"/>
<circle cx="888.8" cy="446.8" r="9.4"/>
<circle cx="1094.0" cy="363.2" r="9.4"/>
<circle cx="1147.0" cy="295.5" r="9.4"/>
<circle cx="865.9" cy="435.4" r="9.4"/>
<circle cx="849.3" cy="468.9" r="9.4"/>
<circle cx="967.5" cy="408.0" r="9.4"/>
<circle cx="1124.1" cy="404.9" r="9.4"/>
<circle cx="1113.0" cy="341.0" r="9.4"/>
<circle cx="944.1" cy="417.0" r="9.4"/>
<circle cx="900.1" cy="511.2" r="9.4"/>
<circle cx="1169.2" cy="282.3" r="9.4"/>
<circle cx="1229.5" cy="296.3" r="9.4"/>
<circle cx="957.2" cy="370.7" r="9.4"/>
<circle cx="1147.2" cy="364.1" r="9.4"/>
<circle cx="1198.8" cy="239.4" r="9.4"/>
<circle cx="973.9" cy="455.7" r="9.4"/>
<circle cx="1101.8" cy="361.5" r="9.4"/>
<circle cx="1211.3" cy="246.0" r="9.4"/>
<circle cx="809.5" cy="547.7" r="9.4"/>
<circle cx="1144.9" cy="359.6" r="9.4"/>
<circle cx="920.6" cy="500.7" r="9.4"/>
<circle cx="852.3" cy="494.4" r="9.4"/>
<circle cx="994.0" cy="319.5" r="9.4"/>
<circle cx="1216.4" cy="325.3" r="9.4"/>
<circle cx="884.2" cy="454.3" r="9.4"/>
<circle cx="822.0" cy="524.0" r="9.4"/>
<circle cx="1075.3" cy="285.2" r="9.4"/>
<circle cx="1225.9" cy="309.1" r="9.4"/>
<circle cx="1136.4" cy="387.3" r="9.4"/>
<circle cx="1094.6" cy="359.0" r="9.4"/>
<circle cx="1100.8" cy="260.2" r="9.4"/>
<circle cx="1018.2" cy="366.0" r="9.4"/>
<circle cx="1166.8" cy="281.1" r="9.4"/>
<circle cx="1147.2" cy="341.4" r="9.4"/>
<circle cx="1121.5" cy="278.6" r="9.4"/>
<circle cx="952.5" cy="480.8" r="9.4"/>
<circle cx="1049.4" cy="330.4" r="9.4"/>
<circle cx="722.2" cy="524.5" r="9.4"/>
<circle cx="1084.8" cy="317.7" r="9.4"/>
<circle cx="919.0" cy="434.2" r="9.4"/>
<circle cx="1171.4" cy="326.4" r="9.4"/>
<circle cx="772.9" cy="490.7" r="9.4"/>
<circle cx="925.3" cy="436.2" r="9.4"/>
<circle cx="1030.6" cy="298.1" r="9.4"/>
<circle cx="1128.3" cy="346.9" r="9.4"/>
<circle cx="1049.3" cy="441.8" r="9.4"/>
<circle cx="968.1" cy="376.8" r="9.4"/>
<circle cx="715.0" cy="565.0" r="9.4"/>
<circle cx="990.5" cy="421.1" r="9.4"/>
<circle cx="1050.1" cy="326.8" r="9.4"/>
<circle cx="1156.9" cy="260.2" r="9.4"/>
<circle cx="1199.7" cy="330.3" r="9.4"/>
<circle cx="843.4" cy="453.6" r="9.4"/>
<circle cx="1174.9" cy="323.3" r="9.4"/>
<circle cx="1069.7" cy="340.6" r="9.4"/>
<circle cx="1205.5" cy="255.5" r="9.4"/>
<circle cx="1170.2" cy="290.2" r="9.4"/>
<circle cx="934.6" cy="486.2" r="9.4"/>
<circle cx="1107.0" cy="326.3" r="9.4"/>
<circle cx="1130.6" cy="240.0" r="9.4"/>
<circle cx="1156.6" cy="259.7" r="9.4"/>
<circle cx="727.0" cy="596.7" r="9.4"/>
<circle cx="1026.1" cy="409.7" r="9.4"/>
<circle cx="1214.9" cy="309.5" r="9.4"/>
<circle cx="1216.1" cy="250.2" r="9.4"/>
<circle cx="998.1" cy="383.3" r="9.4"/>
<circle cx="1215.3" cy="302.8" r="9.4"/>
<circle cx="958.1" cy="409.3" r="9.4"/>
<circle cx="932.1" cy="364.9" r="9.4"/>
<circle cx="1007.3" cy="347.1" r="9.4"/>
<circle cx="865.6" cy="483.3" r="9.4"/>
<circle cx="1205.5" cy="242.6" r="9.4"/>
<circle cx="937.5" cy="438.1" r="9.4"/>
<circle cx="1087.6" cy="418.6" r="9.4"/>
<circle cx="1134.3" cy="257.4" r="9.4"/>
<circle cx="721.4" cy="543.5" r="9.4"/>
<circle cx="1004.4" cy="402.2" r="9.4"/>
<circle cx="969.9" cy="447.1" r="9.4"/>
<circle cx="973.3" cy="391.5" r="9.4"/>
<circle cx="801.1" cy="556.1" r="9.4"/>
<circle cx="1212.8" cy="341.0" r="9.4"/>
<circle cx="1106.5" cy="388.3" r="9.4"/>
<circle cx="1205.5" cy="248.3" r="9.4"/>
<circle cx="1093.3" cy="400.0" r="9.4"/>
<circle cx="868.0" cy="490.3" r="9.4"/>
<circle cx="863.0" cy="482.7" r="9.4"/>
<circle cx="1214.7" cy="335.1" r="9.4"/>
<circle cx="930.1" cy="360.6" r="9.4"/>
<circle cx="1200.7" cy="279.1" r="9.4"/>
<circle cx="1063.9" cy="275.5" r="9.4"/>
<circle cx="910.7" cy="454.9" r="9.4"/>
<circle cx="994.0" cy="318.3" r="9.4"/>
<circle cx="1203.0" cy="256.7" r="9.4"/>
<circle cx="1192.5" cy="313.5" r="9.4"/>
<circle cx="1075.9" cy="421.7" r="9.4"/>
<circle cx="1016.2" cy="342.5" r="9.4"/>
<circle cx="1085.5" cy="299.9" r="9.4"/>
<circle cx="927.1" cy="387.7" r="9.4"/>
<circle cx="960.9" cy="376.6" r="9.4"/>
<circle cx="1166.1" cy="353.9" r="9.4"/>
<circle cx="1221.5" cy="340.3" r="9.4"/>
<circle cx="949.5" cy="399.7" r="9.4"/>
<circle cx="1204.8" cy="263.1" r="9.4"/>
<circle cx="1168.4" cy="337.9" r="9.4"/>
<circle cx="869.9" cy="503.2" r="9.4"/>
<circle cx="1029.7" cy="381.5" r="9.4"/>
<circle cx="1161.1" cy="272.7" r="9.4"/>
<circle cx="1125.1" cy="326.0" r="9.4"/>
<circle cx="1019.6" cy="377.6" r="9.4"/>
<circle cx="912.2" cy="482.8" r="9.4"/>
<circle cx="1144.8" cy="263.9" r="9.4"/>
<circle cx="893.9" cy="470.8" r="9.4"/>
<circle cx="975.4" cy="373.5" r="9.4"/>
<circle cx="1042.2" cy="404.5" r="9.4"/>
<circle cx="1164.4" cy="288.9" r="9.4"/>
<circle cx="1036.1" cy="388.3" r="9.4"/>
<circle cx="879.2" cy="427.4" r="9.4"/>
<circle cx="978.7" cy="426.5" r="9.4"/>
<circle cx="1042.5" cy="431.7" r="9.4"/>
<circle cx="1001.6" cy="324.7" r="9.4"/>
<circle cx="1115.9" cy="322.6" r="9.4"/>
<circle cx="963.9" cy="383.9" r="9.4"/>
<circle cx="1105.1" cy="288.2" r="9.4"/>
<circle cx="983.4" cy="469.8" r="9.4"/>
<circle cx="1188.9" cy="293.3" r="9.4"/>
<circle cx="1005.3" cy="340.8" r="9.4"/>
<circle cx="1029.4" cy="382.2" r="9.4"/>
<circle cx="1046.6" cy="321.6" r="9.4"/>
<circle cx="1196.9" cy="253.2" r="9.4"/>
<circle cx="897.8" cy="445.0" r="9.4"/>
<circle cx="1115.2" cy="348.4" r="9.4"/>
<circle cx="823.1" cy="549.4" r="9.4"/>
<circle cx="955.9" cy="434.8" r="9.4"/>
<circle cx="864.7" cy="443.4" r="9.4"/>
<circle cx="1082.0" cy="325.8" r="9.4"/>
<circle cx="994.5" cy="320.4" r="9.4"/>
<circle cx="934.9" cy="443.3" r="9.4"/>
<circle cx="1022.5" cy="326.3" r="9.4"/>
<circle cx="1146.0" cy="288.6" r="9.4"/>
<circle cx="1107.0" cy="405.2" r="9.4"/>
<circle cx="1051.7" cy="324.8" r="9.4"/>
<circle cx="728.4" cy="557.5" r="9.4"/>
<circle cx="1151.5" cy="377.9" r="9.4"/>
<circle cx="1008.4" cy="395.1" r="9.4"/>
<circle cx="1089.4" cy="273.0" r="9.4"/>
<circle cx="1065.9" cy="327.9" r="9.4"/>
<circle cx="1031.5" cy="294.0" r="9.4"/>
<circle cx="1165.4" cy="285.3" r="9.4"/>
<circle cx="1103.9" cy="353.7" r="9.4"/>
<circle cx="1159.2" cy="352.9" r="9.4"/>
<circle cx="973.3" cy="412.4" r="9.4"/>
<circle cx="1130.4" cy="304.1" r="9.4"/>
<circle cx="1203.9" cy="253.1" r="9.4"/>
<circle cx="1013.0" cy="401.0" r="9.4"/>
<circle cx="1189.0" cy="354.4" r="9.4"/>
<circle cx="1173.9" cy="216.9" r="9.4"/>
<circle cx="1064.2" cy="358.0" r="9.4"/>
<circle cx="1054.1" cy="409.8" r="9.4"/>
<circle cx="1213.2" cy="302.5" r="9.4"/>
<circle cx="885.7" cy="494.5" r="9.4"/>
<circle cx="1180.3" cy="352.5" r="9.4"/>
<circle cx="1020.2" cy="393.0" r="9.4"/>
<circle cx="998.0" cy="411.0" r="9.4"/>
<circle cx="1000.6" cy="446.4" r="9.4"/>
<circle cx="1189.3" cy="252.9" r="9.4"/>
<circle cx="1043.5" cy="304.5" r="9.4"/>
<circle cx="994.9" cy="355.2" r="9.4"/>
<circle cx="1076.7" cy="413.9" r="9.4"/>
<circle cx="813.6" cy="570.1" r="9.4"/>
<circle cx="871.7" cy="537.8" r="9.4"/>
<circle cx="939.0" cy="412.0" r="9.4"/>
<circle cx="1034.2" cy="383.5" r="9.4"/>
<circle cx="1108.1" cy="346.1" r="9.4"/>
<circle cx="1071.1" cy="269.8" r="9.4"/>
<circle cx="1007.0" cy="386.0" r="9.4"/>
<circle cx="1015.9" cy="331.4" r="9.4"/>
<circle cx="886.7" cy="472.2" r="9.4"/>
<circle cx="720.0" cy="588.3" r="9.4"/>
<circle cx="1041.4" cy="402.2" r="9.4"/>
<circle cx="1071.8" cy="318.1" r="9.4"/>
<circle cx="1149.4" cy="311.9" r="9.4"/>
<circle cx="1088.4" cy="375.4" r="9.4"/>
<circle cx="1146.1" cy="267.9" r="9.4"/>
<circle cx="1165.8" cy="239.5" r="9.4"/>
<circle cx="1137.1" cy="310.7" r="9.4"/>
<circle cx="1124.9" cy="279.1" r="9.4"/>
<circle cx="934.1" cy="456.1" r="9.4"/>
<circle cx="877.5" cy="431.5" r="9.4"/>
<circle cx="1213.2" cy="332.7" r="9.4"/>
<circle cx="916.9" cy="391.9" r="9.4"/>
<circle cx="844.3" cy="438.5" r="9.4"/>
<circle cx="765.6" cy="496.5" r="9.4"/>
<circle cx="1180.5" cy="320.4" r="9.4"/>
<circle cx="886.9" cy="486.0" r="9.4"/>
<circle cx="1090.6" cy="401.6" r="9.4"/>
<circle cx="1021.0" cy="398.8" r="9.4"/>
<circle cx="825.0" cy="492.8" r="9.4"/>
<circle cx="992.6" cy="342.0" r="9.4"/>
<circle cx="778.7" cy="572.9" r="9.4"/>
<circle cx="949.4" cy="449.7" r="9.4"/>
<circle cx="1166.1" cy="213.2" r="9.4"/>
<circle cx="885.0" cy="497.8" r="9.4"/>
<circle cx="1199.7" cy="339.4" r="9.4"/>
<circle cx="1003.2" cy="353.6" r="9.4"/>
<circle cx="1100.9" cy="307.7" r="9.4"/>
<circle cx="1200.3" cy="311.4" r="9.4"/>
<circle cx="842.5" cy="540.2" r="9.4"/>
<circle cx="780.6" cy="496.5" r="9.4"/>
<circle cx="1011.8" cy="434.6" r="9.4"/>
<circle cx="1197.9" cy="225.3" r="9.4"/>
<circle cx="997.0" cy="461.5" r="9.4"/>
<circle cx="1218.6" cy="248.5" r="9.4"/>
<circle cx="972.8" cy="447.3" r="9.4"/>
<circle cx="1166.7" cy="254.0" r="9.4"/>
<circle cx="970.8" cy="401.4" r="9.4"/>
<circle cx="898.8" cy="491.5" r="9.4"/>
<circle cx="1024.6" cy="390.6" r="9.4"/>
<circle cx="842.6" cy="474.4" r="9.4"/>
<circle cx="1195.3" cy="308.0" r="9.4"/>
<circle cx="736.8" cy="561.7" r="9.4"/>
<circle cx="816.4" cy="523.5" r="9.4"/>
<circle cx="1076.3" cy="374.7" r="9.4"/>
<circle cx="1180.6" cy="293.2" r="9.4"/>
<circle cx="1050.9" cy="317.8" r="9.4"/>
<circle cx="936.8" cy="478.7" r="9.4"/>
<circle cx="728.4" cy="575.7" r="9.4"/>
<circle cx="1239.0" cy="248.0" r="9.4"/>
<circle cx="1050.2" cy="359.0" r="9.4"/>
<circle cx="1190.5" cy="251.3" r="9.4"/>
<circle cx="1144.1" cy="332.0" r="9.4"/>
<circle cx="1016.7" cy="310.8" r="9.4"/>
<circle cx="764.1" cy="505.8" r="9.4"/>
<circle cx="1057.5" cy="296.3" r="9.4"/>
<circle cx="1002.4" cy="372.8" r="9.4"/>
<circle cx="1106.3" cy="270.7" r="9.4"/>
<circle cx="1035.1" cy="399.9" r="9.4"/>
<circle cx="1138.5" cy="342.1" r="9.4"/>
<circle cx="984.1" cy="417.8" r="9.4"/>
<circle cx="1061.9" cy="301.4" r="9.4"/>
<circle cx="826.2" cy="550.5" r="9.4"/>
<circle cx="998.7" cy="443.8" r="9.4"/>
<circle cx="1076.3" cy="282.5" r="9.4"/>
<circle cx="1022.5" cy="350.0" r="9.4"/>
<circle cx="1160.2" cy="284.0" r="9.4"/>
<circle cx="961.7" cy="417.8" r="9.4"/>
<circle cx="1234.4" cy="281.5" r="9.4"/>
<circle cx="920.9" cy="483.3" r="9.4"/>
<circle cx="1123.9" cy="324.0" r="9.4"/>
<circle cx="914.9" cy="500.9" r="9.4"/>
<circle cx="985.0" cy="378.0" r="9.4"/>
<circle cx="1159.6" cy="329.8" r="9.4"/>
<circle cx="863.0" cy="490.8" r="9.4"/>
<circle cx="1067.9" cy="286.7" r="9.4"/>
<circle cx="1204.6" cy="312.0" r="9.4"/>
<circle cx="1151.5" cy="250.5" r="9.4"/>
<circle cx="1072.3" cy="425.8" r="9.4"/>
<circle cx="1144.6" cy="332.1" r="9.4"/>
<circle cx="1177.1" cy="259.5" r="9.4"/>
<circle cx="1026.9" cy="446.6" r="9.4"/>
<circle cx="1227.5" cy="273.9" r="9.4"/>
<circle cx="1214.8" cy="276.3" r="9.4"/>
<circle cx="981.2" cy="358.3" r="9.4"/>
<circle cx="770.3" cy="536.6" r="9.4"/>
<circle cx="1136.1" cy="332.0" r="9.4"/>
<circle cx="803.5" cy="531.1" r="9.4"/>
<circle cx="1032.1" cy="440.6" r="9.4"/>
<circle cx="1060.7" cy="427.9" r="9.4"/>
<circle cx="1104.0" cy="381.2" r="9.4"/>
<circle cx="1117.2" cy="326.5" r="9.4"/>
<circle cx="1202.8" cy="258.2" r="9.4"/>
<circle cx="1064.1" cy="350.0" r="9.4"/>
<circle cx="922.9" cy="467.4" r="9.4"/>
<circle cx="1178.7" cy="353.7" r="9.4"/>
<circle cx="1195.3" cy="338.0" r="9.4"/>
<circle cx="1134.2" cy="281.6" r="9.4"/>
<circle cx="1185.8" cy="300.8" r="9.4"/>
<circle cx="1021.0" cy="383.3" r="9.4"/>
<circle cx="804.9" cy="539.9" r="9.4"/>
<circle cx="1009.7" cy="374.0" r="9.4"/>
<circle cx="1029.7" cy="377.7" r="9.4"/>
<circle cx="1023.8" cy="392.2" r="9.4"/>
<circle cx="1080.4" cy="420.2" r="9.4"/>
<circle cx="1201.6" cy="251.6" r="9.4"/>
<circle cx="873.5" cy="449.7" r="9.4"/>
<circle cx="1132.3" cy="276.8" r="9.4"/>
<circle cx="844.3" cy="509.2" r="9.4"/>
<circle cx="1144.6" cy="366.2" r="9.4"/>
<circle cx="1172.2" cy="346.5" r="9.4"/>
<circle cx="1241.0" cy="265.6" r="9.4"/>
<circle cx="1053.2" cy="285.2" r="9.4"/>
<circle cx="925.0" cy="474.6" r="9.4"/>
<circle cx="943.9" cy="488.8" r="9.4"/>
<circle cx="1064.6" cy="404.8" r="9.4"/>
<circle cx="1097.7" cy="385.9" r="9.4"/>
<circle cx="1102.7" cy="397.9" r="9.4"/>
<circle cx="717.2" cy="606.4" r="9.4"/>
<circle cx="1141.8" cy="245.5" r="9.4"/>
<circle cx="996.9" cy="408.6" r="9.4"/>
<circle cx="963.1" cy="374.8" r="9.4"/>
<circle cx="1224.4" cy="257.7" r="9.4"/>
<circle cx="1119.3" cy="347.6" r="9.4"/>
<circle cx="941.6" cy="372.2" r="9.4"/>
<circle cx="883.8" cy="412.4" r="9.4"/>
<circle cx="1079.4" cy="290.2" r="9.4"/>
<circle cx="1105.8" cy="394.4" r="9.4"/>
<circle cx="1108.1" cy="302.9" r="9.4"/>
<circle cx="1027.5" cy="301.1" r="9.4"/>
<circle cx="778.7" cy="539.4" r="9.4"/>
<circle cx="1165.0" cy="234.7" r="9.4"/>
<circle cx="803.9" cy="532.4" r="9.4"/>
<circle cx="1058.8" cy="374.7" r="9.4"/>
<circle cx="770.3" cy="581.3" r="9.4"/>
<circle cx="842.6" cy="532.7" r="9.4"/>
<circle cx="767.4" cy="544.9" r="9.4"/>
<circle cx="918.8" cy="481.3" r="9.4"/>
<circle cx="1035.4" cy="318.6" r="9.4"/>
<circle cx="1154.5" cy="290.2" r="9.4"/>
<circle cx="959.5" cy="412.5" r="9.4"/>
<circle cx="1101.8" cy="407.6" r="9.4"/>
<circle cx="1216.2" cy="283.5" r="9.4"/>
<circle cx="1077.0" cy="292.0" r="9.4"/>
<circle cx="1165.8" cy="261.4" r="9.4"/>
<circle cx="925.4" cy="373.8" r="9.4"/>
<circle cx="1120.6" cy="240.0" r="9.4"/>
<circle cx="1153.3" cy="373.0" r="9.4"/>
<circle cx="684.1" cy="543.5" r="9.4"/>
<circle cx="997.4" cy="409.1" r="9.4"/>
<circle cx="1033.5" cy="405.9" r="9.4"/>
<circle cx="1173.0" cy="348.6" r="9.4"/>
<circle cx="845.7" cy="522.6" r="9.4"/>
<circle cx="931.1" cy="399.8" r="9.4"/>
<circle cx="1207.8" cy="323.6" r="9.4"/>
<circle cx="978.6" cy="367.8" r="9.4"/>
<circle cx="910.0" cy="387.2" r="9.4"/>
<circle cx="1146.8" cy="268.4" r="9.4"/>
<circle cx="1205.8" cy="260.2" r="9.4"/>
<circle cx="850.0" cy="459.0" r="9.4"/>
<circle cx="1135.9" cy="333.0" r="9.4"/>
<circle cx="933.9" cy="468.9" r="9.4"/>
<circle cx="879.6" cy="487.8" r="9.4"/>
<circle cx="1021.6" cy="417.1" r="9.4"/>
<circle cx="1061.3" cy="378.2" r="9.4"/>
<circle cx="981.3" cy="367.5" r="9.4"/>
<circle cx="1228.7" cy="294.2" r="9.4"/>
<circle cx="706.0" cy="553.3" r="9.4"/>
<circle cx="904.9" cy="429.6" r="9.4"/>
<circle cx="933.0" cy="412.5" r="9.4"/>
<circle cx="1197.1" cy="344.8" r="9.4"/>
<circle cx="992.5" cy="313.2" r="9.4"/>
<circle cx="1067.2" cy="320.9" r="9.4"/>
<circle cx="1212.8" cy="336.5" r="9.4"/>
<circle cx="1227.4" cy="293.0" r="9.4"/>
<circle cx="1168.3" cy="315.7" r="9.4"/>
<circle cx="1167.3" cy="226.6" r="9.4"/>
<circle cx="1112.5" cy="402.5" r="9.4"/>
<circle cx="1005.2" cy="371.0" r="9.4"/>
<circle cx="1071.2" cy="263.7" r="9.4"/>
<circle cx="1014.7" cy="366.6" r="9.4"/>
<circle cx="775.9" cy="592.5" r="9.4"/>
<circle cx="1166.9" cy="304.2" r="9.4"/>
<circle cx="1057.1" cy="285.7" r="9.4"/>
<circle cx="940.9" cy="437.0" r="9.4"/>
<circle cx="946.1" cy="374.4" r="9.4"/>
<circle cx="941.4" cy="359.1" r="9.4"/>
<circle cx="1238.6" cy="268.9" r="9.4"/>
<circle cx="953.6" cy="457.8" r="9.4"/>
<circle cx="976.0" cy="404.1" r="9.4"/>
<circle cx="953.7" cy="398.5" r="9.4"/>
<circle cx="1047.5" cy="383.1" r="9.4"/>
<circle cx="952.3" cy="421.4" r="9.4"/>
<circle cx="1142.8" cy="331.3" r="9.4"/>
<circle cx="1021.6" cy="449.6" r="9.4"/>
<circle cx="880.3" cy="511.4" r="9.4"/>
<circle cx="1150.4" cy="347.0" r="9.4"/>
<circle cx="1189.1" cy="330.3" r="9.4"/>
<circle cx="960.2" cy="387.8" r="9.4"/>
<circle cx="914.5" cy="391.7" r="9.4"/>
<circle cx="1239.7" cy="255.5" r="9.4"/>
<circle cx="1055.8" cy="393.3" r="9.4"/>
<circle cx="1102.7" cy="416.2" r="9.4"/>
<circle cx="1051.9" cy="353.7" r="9.4"/>
<circle cx="1060.9" cy="328.3" r="9.4"/>
<circle cx="1128.3" cy="331.2" r="9.4"/>
<circle cx="966.8" cy="427.7" r="9.4"/>
<circle cx="1172.5" cy="269.9" r="9.4"/>
<circle cx="1184.3" cy="279.5" r="9.4"/>
<circle cx="1135.5" cy="386.2" r="9.4"/>
<circle cx="775.3" cy="490.4" r="9.4"/>
<circle cx="958.9" cy="448.6" r="9.4"/>
<circle cx="999.9" cy="443.2" r="9.4"/>
<circle cx="1105.5" cy="249.7" r="9.4"/>
<circle cx="711.6" cy="600.9" r="9.4"/>
<circle cx="1229.7" cy="253.5" r="9.4"/>
<circle cx="1132.2" cy="257.3" r="9.4"/>
<circle cx="964.4" cy="462.6" r="9.4"/>
<circle cx="984.3" cy="348.9" r="9.4"/>
<circle cx="1030.5" cy="331.0" r="9.4"/>
<circle cx="1019.3" cy="310.9" r="9.4"/>
<circle cx="1119.9" cy="298.4" r="9.4"/>
<circle cx="842.1" cy="488.1" r="9.4"/>
<circle cx="682.2" cy="592.5" r="9.4"/>
<circle cx="1142.4" cy="281.6" r="9.4"/>
<circle cx="905.7" cy="460.0" r="9.4"/>
<circle cx="1161.4" cy="249.7" r="9.4"/>
<circle cx="999.6" cy="429.9" r="9.4"/>
<circle cx="871.9" cy="535.6" r="9.4"/>
<circle cx="997.4" cy="358.4" r="9.4"/>
<circle cx="1084.7" cy="261.1" r="9.4"/>
<circle cx="1185.4" cy="356.2" r="9.4"/>
<circle cx="1151.4" cy="318.0" r="9.4"/>
<circle cx="1084.9" cy="311.1" r="9.4"/>
<circle cx="964.1" cy="395.7" r="9.4"/>
<circle cx="683.1" cy="520.0" r="9.4"/>
<circle cx="1197.2" cy="220.9" r="9.4"/>
<circle cx="1157.5" cy="246.3" r="9.4"/>
<circle cx="869.7" cy="449.7" r="9.4"/>
<circle cx="1148.0" cy="233.7" r="9.4"/>
<circle cx="1111.4" cy="361.9" r="9.4"/>
<circle cx="1071.9" cy="407.1" r="9.4"/>
<circle cx="1153.5" cy="239.1" r="9.4"/>
<circle cx="1216.7" cy="341.1" r="9.4"/>
<circle cx="875.7" cy="478.2" r="9.4"/>
<circle cx="1036.9" cy="290.7" r="9.4"/>
<circle cx="945.7" cy="376.5" r="9.4"/>
<circle cx="1199.9" cy="305.2" r="9.4"/>
<circle cx="985.1" cy="432.4" r="9.4"/>
<circle cx="1124.4" cy="365.1" r="9.4"/>
<circle cx="1127.2" cy="323.4" r="9.4"/>
<circle cx="766.3" cy="545.6" r="9.4"/>
<circle cx="876.9" cy="507.3" r="9.4"/>
<circle cx="942.2" cy="423.5" r="9.4"/>
<circle cx="1030.0" cy="302.7" r="9.4"/>
<circle cx="959.0" cy="418.4" r="9.4"/>
<circle cx="1214.7" cy="307.7" r="9.4"/>
<circle cx="1233.5" cy="237.9" r="9.4"/>
<circle cx="878.4" cy="428.8" r="9.4"/>
<circle cx="1058.7" cy="353.2" r="9.4"/>
<circle cx="1050.8" cy="315.0" r="9.4"/>
<circle cx="1149.4" cy="344.2" r="9.4"/>
<circle cx="994.8" cy="398.9" r="9.4"/>
<circle cx="1001.1" cy="341.9" r="9.4"/>
<circle cx="1073.2" cy="361.2" r="9.4"/>
<circle cx="1152.4" cy="275.3" r="9.4"/>
<circle cx="802.1" cy="541.6" r="9.4"/>
<circle cx="1073.6" cy="344.2" r="9.4"/>
<circle cx="1136.1" cy="357.2" r="9.4"/>
<circle cx="1168.1" cy="246.5" r="9.4"/>
<circle cx="1020.7" cy="387.2" r="9.4"/>
<circle cx="1134.8" cy="288.9" r="9.4"/>
<circle cx="1036.5" cy="321.7" r="9.4"/>
<circle cx="1202.4" cy="309.9" r="9.4"/>
<circle cx="1068.4" cy="367.9" r="9.4"/>
<circle cx="1119.2" cy="376.8" r="9.4"/>
<circle cx="1166.4" cy="302.0" r="9.4"/>
<circle cx="1085.0" cy="291.9" r="9.4"/>
<circle cx="1089.7" cy="384.1" r="9.4"/>
<circle cx="1194.7" cy="243.0" r="9.4"/>
<circle cx="991.7" cy="376.4" r="9.4"/>
<circle cx="1175.3" cy="266.6" r="9.4"/>
<circle cx="802.8" cy="531.9" r="9.4"/>
<circle cx="882.6" cy="525.6" r="9.4"/>
<circle cx="1192.8" cy="338.6" r="9.4"/>
<circle cx="1005.2" cy="396.9" r="9.4"/>
<circle cx="1199.5" cy="234.9" r="9.4"/>
<circle cx="770.3" cy="505.8" r="9.4"/>
<circle cx="1103.9" cy="372.0" r="9.4"/>
<circle cx="1176.6" cy="283.7" r="9.4"/>
<circle cx="923.4" cy="441.0" r="9.4"/>
<circle cx="720.0" cy="570.1" r="9.4"/>
<circle cx="816.2" cy="506.9" r="9.4"/>
<circle cx="970.0" cy="472.4" r="9.4"/>
<circle cx="1182.7" cy="252.2" r="9.4"/>
<circle cx="1170.1" cy="336.3" r="9.4"/>
<circle cx="1119.5" cy="274.8" r="9.4"/>
<circle cx="1151.9" cy="294.4" r="9.4"/>
<circle cx="990.3" cy="463.8" r="9.4"/>
<circle cx="938.0" cy="371.4" r="9.4"/>
<circle cx="1120.0" cy="402.0" r="9.4"/>
<circle cx="930.0" cy="482.4" r="9.4"/>
<circle cx="1118.0" cy="290.4" r="9.4"/>
<circle cx="1173.7" cy="315.6" r="9.4"/>
<circle cx="957.7" cy="370.7" r="9.4"/>
<circle cx="1222.8" cy="259.4" r="9.4"/>
<circle cx="964.8" cy="461.6" r="9.4"/>
<circle cx="953.6" cy="403.2" r="9.4"/>
<circle cx="817.8" cy="479.4" r="9.4"/>
<circle cx="1006.1" cy="344.8" r="9.4"/>
<circle cx="974.5" cy="388.9" r="9.4"/>
<circle cx="901.8" cy="386.2" r="9.4"/>
<circle cx="1239.0" cy="267.3" r="9.4"/>
<circle cx="1201.5" cy="287.6" r="9.4"/>
<circle cx="1177.0" cy="280.7" r="9.4"/>
<circle cx="1093.4" cy="257.6" r="9.4"/>
<circle cx="1132.8" cy="284.4" r="9.4"/>
<circle cx="847.0" cy="497.7" r="9.4"/>
<circle cx="1108.3" cy="370.1" r="9.4"/>
<circle cx="1097.1" cy="322.3" r="9.4"/>
<circle cx="1097.5" cy="265.2" r="9.4"/>
<circle cx="1070.6" cy="279.0" r="9.4"/>
<circle cx="846.9" cy="469.2" r="9.4"/>
<circle cx="1020.4" cy="433.5" r="9.4"/>
<circle cx="1120.7" cy="313.0" r="9.4"/>
<circle cx="977.9" cy="472.1" r="9.4"/>
<circle cx="1129.3" cy="283.7" r="9.4"/>
<circle cx="1087.1" cy="283.1" r="9.4"/>
<circle cx="1172.2" cy="223.3" r="9.4"/>
<circle cx="1179.3" cy="210.8" r="9.4"/>
<circle cx="988.7" cy="355.5" r="9.4"/>
<circle cx="1073.2" cy="297.0" r="9.4"/>
<circle cx="985.0" cy="337.1" r="9.4"/>
<circle cx="908.4" cy="446.4" r="9.4"/>
<circle cx="1124.6" cy="283.0" r="9.4"/>
<circle cx="1200.1" cy="293.6" r="9.4"/>
<circle cx="1160.3" cy="274.6" r="9.4"/>
<circle cx="916.3" cy="471.5" r="9.4"/>
<circle cx="1045.5" cy="321.3" r="9.4"/>
<circle cx="1175.6" cy="346.8" r="9.4"/>
<circle cx="912.4" cy="368.6" r="9.4"/>
<circle cx="1091.4" cy="420.7" r="9.4"/>
<circle cx="1133.4" cy="375.4" r="9.4"/>
<circle cx="849.5" cy="452.2" r="9.4"/>
<circle cx="974.7" cy="432.6" r="9.4"/>
<circle cx="1109.3" cy="256.2" r="9.4"/>
<circle cx="1218.4" cy="261.3" r="9.4"/>
<circle cx="1132.4" cy="344.5" r="9.4"/>
<circle cx="915.7" cy="431.4" r="9.4"/>
<circle cx="1231.4" cy="266.8" r="9.4"/>
<circle cx="988.0" cy="345.4" r="9.4"/>
<circle cx="995.6" cy="440.5" r="9.4"/>
<circle cx="1171.6" cy="302.2" r="9.4"/>
<circle cx="1092.7" cy="413.3" r="9.4"/>
<circle cx="1121.8" cy="344.1" r="9.4"/>
<circle cx="929.4" cy="384.1" r="9.4"/>
<circle cx="925.7" cy="494.4" r="9.4"/>
<circle cx="682.6" cy="535.0" r="9.4"/>
<circle cx="1167.5" cy="265.3" r="9.4"/>
<circle cx="1083.6" cy="368.6" r="9.4"/>
<circle cx="1163.5" cy="261.2" r="9.4"/>
<circle cx="993.1" cy="318.4" r="9.4"/>
<circle cx="1167.8" cy="295.0" r="9.4"/>
<circle cx="1058.5" cy="305.5" r="9.4"/>
<circle cx="1234.1" cy="263.0" r="9.4"/>
<circle cx="1143.6" cy="246.0" r="9.4"/>
<circle cx="864.4" cy="482.2" r="9.4"/>
<circle cx="1182.4" cy="282.4" r="9.4"/>
<circle cx="1019.5" cy="332.7" r="9.4"/>
<circle cx="1090.6" cy="328.4" r="9.4"/>
<circle cx="1036.4" cy="294.4" r="9.4"/>
<circle cx="960.4" cy="379.7" r="9.4"/>
<circle cx="1000.8" cy="396.3" r="9.4"/>
<circle cx="821.2" cy="523.1" r="9.4"/>
<circle cx="944.4" cy="450.2" r="9.4"/>
<circle cx="1051.1" cy="338.1" r="9.4"/>
<circle cx="1005.8" cy="377.2" r="9.4"/>
<circle cx="1083.7" cy="296.8" r="9.4"/>
<circle cx="1191.7" cy="219.9" r="9.4"/>
<circle cx="1017.2" cy="398.6" r="9.4"/>
<circle cx="1005.0" cy="407.0" r="9.4"/>
<circle cx="1008.3" cy="315.0" r="9.4"/>
<circle cx="1138.5" cy="363.0" r="9.4"/>
<circle cx="1168.1" cy="212.5" r="9.4"/>
<circle cx="1143.9" cy="292.2" r="9.4"/>
<circle cx="1164.3" cy="222.5" r="9.4"/>
<circle cx="897.9" cy="406.6" r="9.4"/>
<circle cx="888.3" cy="470.2" r="9.4"/>
<circle cx="954.8" cy="414.5" r="9.4"/>
<circle cx="1043.4" cy="419.6" r="9.4"/>
<circle cx="1077.6" cy="417.1" r="9.4"/>
<circle cx="862.6" cy="543.8" r="9.4"/>
<circle cx="1126.0" cy="318.7" r="9.4"/>
<circle cx="1197.3" cy="277.0" r="9.4"/>
<circle cx="864.0" cy="427.3" r="9.4"/>
<circle cx="996.8" cy="399.3" r="9.4"/>
<circle cx="1058.4" cy="432.5" r="9.4"/>
<circle cx="1189.9" cy="217.3" r="9.4"/>
<circle cx="1038.4" cy="419.6" r="9.4"/>
<circle cx="1065.4" cy="321.1" r="9.4"/>
<circle cx="1175.3" cy="246.8" r="9.4"/>
<circle cx="1234.1" cy="268.3" r="9.4"/>
<circle cx="765.2" cy="507.7" r="9.4"/>
<circle cx="1043.4" cy="408.2" r="9.4"/>
<circle cx="880.3" cy="460.9" r="9.4"/>
<circle cx="1163.2" cy="233.7" r="9.4"/>
<circle cx="1168.9" cy="215.1" r="9.4"/>
<circle cx="1089.9" cy="297.5" r="9.4"/>
<circle cx="990.8" cy="457.3" r="9.4"/>
<circle cx="879.5" cy="503.2" r="9.4"/>
<circle cx="980.9" cy="353.8" r="9.4"/>
<circle cx="1049.4" cy="430.1" r="9.4"/>
<circle cx="1094.3" cy="397.1" r="9.4"/>
<circle cx="1097.8" cy="260.9" r="9.4"/>
<circle cx="1095.0" cy="382.5" r="9.4"/>
<circle cx="981.6" cy="441.4" r="9.4"/>
<circle cx="1137.2" cy="285.3" r="9.4"/>
<circle cx="917.5" cy="418.2" r="9.4"/>
<circle cx="880.6" cy="455.7" r="9.4"/>
<circle cx="1005.7" cy="412.6" r="9.4"/>
<circle cx="890.4" cy="421.9" r="9.4"/>
<circle cx="1165.9" cy="297.3" r="9.4"/>
<circle cx="1234.6" cy="270.0" r="9.4"/>
<circle cx="962.8" cy="430.0" r="9.4"/>
<circle cx="1059.1" cy="387.4" r="9.4"/>
<circle cx="1063.5" cy="378.3" r="9.4"/>
<circle cx="1218.7" cy="238.5" r="9.4"/>
<circle cx="909.1" cy="441.7" r="9.4"/>
<circle cx="878.8" cy="510.1" r="9.4"/>
<circle cx="1081.8" cy="355.2" r="9.4"/>
<circle cx="970.0" cy="405.7" r="9.4"/>
<circle cx="853.3" cy="507.5" r="9.4"/>
<circle cx="982.3" cy="364.7" r="9.4"/>
<circle cx="987.9" cy="435.2" r="9.4"/>
<circle cx="1048.3" cy="340.7" r="9.4"/>
<circle cx="987.4" cy="345.9" r="9.4"/>
<circle cx="1066.4" cy="343.5" r="9.4"/>
<circle cx="1162.6" cy="262.4" r="9.4"/>
<circle cx="943.2" cy="408.5" r="9.4"/>
<circle cx="886.0" cy="423.9" r="9.4"/>
<circle cx="1099.3" cy="296.1" r="9.4"/>
<circle cx="801.8" cy="556.9" r="9.4"/>
<circle cx="1168.6" cy="364.2" r="9.4"/>
<circle cx="1179.3" cy="301.5" r="9.4"/>
<circle cx="853.7" cy="523.3" r="9.4"/>
<circle cx="860.7" cy="544.3" r="9.4"/>
<circle cx="1142.5" cy="285.4" r="9.4"/>
<circle cx="937.6" cy="482.5" r="9.4"/>
<circle cx="1213.4" cy="253.2" r="9.4"/>
<circle cx="770.6" cy="571.6" r="9.4"/>
<circle cx="992.8" cy="377.5" r="9.4"/>
<circle cx="1079.0" cy="298.3" r="9.4"/>
<circle cx="903.9" cy="460.6" r="9.4"/>
<circle cx="1021.2" cy="442.2" r="9.4"/>
<circle cx="868.7" cy="534.8" r="9.4"/>
<circle cx="1228.6" cy="255.4" r="9.4"/>
<circle cx="926.7" cy="362.8" r="9.4"/>
<circle cx="979.7" cy="469.5" r="9.4"/>
<circle cx="1030.7" cy="407.2" r="9.4"/>
<circle cx="722.0" cy="600.0" r="9.4"/>
<circle cx="764.7" cy="571.5" r="9.4"/>
<circle cx="1214.4" cy="289.3" r="9.4"/>
<circle cx="1090.6" cy="307.6" r="9.4"/>
<circle cx="853.6" cy="542.9" r="9.4"/>
<circle cx="1138.7" cy="385.9" r="9.4"/>
<circle cx="1074.6" cy="365.0" r="9.4"/>
<circle cx="1095.9" cy="317.1" r="9.4"/>
<circle cx="771.2" cy="515.8" r="9.4"/>
<circle cx="880.9" cy="526.8" r="9.4"/>
<circle cx="1064.1" cy="273.1" r="9.4"/>
<circle cx="856.9" cy="452.3" r="9.4"/>
<circle cx="1213.4" cy="288.4" r="9.4"/>
<circle cx="1011.8" cy="448.4" r="9.4"/>
<circle cx="1089.3" cy="353.5" r="9.4"/>
<circle cx="958.5" cy="418.2" r="9.4"/>
<circle cx="1118.8" cy="303.1" r="9.4"/>
<circle cx="1023.3" cy="421.1" r="9.4"/>
<circle cx="1119.9" cy="254.0" r="9.4"/>
<circle cx="954.4" cy="447.1" r="9.4"/>
<circle cx="902.6" cy="487.7" r="9.4"/>
<circle cx="976.8" cy="435.8" r="9.4"/>
<circle cx="869.3" cy="492.6" r="9.4"/>
<circle cx="1159.0" cy="316.5" r="9.4"/>
<circle cx="1071.7" cy="340.8" r="9.4"/>
<circle cx="1095.9" cy="419.1" r="9.4"/>
<circle cx="977.4" cy="455.0" r="9.4"/>
<circle cx="994.8" cy="353.7" r="9.4"/>
<circle cx="1189.2" cy="298.7" r="9.4"/>
<circle cx="1121.7" cy="315.4" r="9.4"/>
<circle cx="1217.6" cy="336.0" r="9.4"/>
<circle cx="1043.7" cy="306.7" r="9.4"/>
<circle cx="1131.5" cy="314.4" r="9.4"/>
<circle cx="1012.2" cy="408.8" r="9.4"/>
<circle cx="1073.8" cy="260.7" r="9.4"/>
<circle cx="1044.5" cy="292.2" r="9.4"/>
<circle cx="942.2" cy="466.3" r="9.4"/>
<circle cx="1158.9" cy="360.8" r="9.4"/>
<circle cx="1116.8" cy="287.2" r="9.4"/>
<circle cx="977.3" cy="401.2" r="9.4"/>
<circle cx="899.1" cy="496.7" r="9.4"/>
<circle cx="1064.4" cy="288.1" r="9.4"/>
<circle cx="1176.4" cy="341.0" r="9.4"/>
<circle cx="900.1" cy="486.0" r="9.4"/>
<circle cx="876.4" cy="510.2" r="9.4"/>
<circle cx="1125.1" cy="358.6" r="9.4"/>
<circle cx="936.1" cy="389.4" r="9.4"/>
<circle cx="1187.2" cy="344.7" r="9.4"/>
<circle cx="1097.3" cy="292.9" r="9.4"/>
<circle cx="1193.0" cy="267.0" r="9.4"/>
<circle cx="778.5" cy="514.7" r="9.4"/>
<circle cx="1167.7" cy="245.9" r="9.4"/>
<circle cx="1035.8" cy="384.4" r="9.4"/>
<circle cx="993.6" cy="426.7" r="9.4"/>
<circle cx="1221.7" cy="271.4" r="9.4"/>
<circle cx="1075.4" cy="288.8" r="9.4"/>
<circle cx="1110.2" cy="241.9" r="9.4"/>
<circle cx="1219.8" cy="260.4" r="9.4"/>
<circle cx="910.3" cy="443.3" r="9.4"/>
<circle cx="1061.2" cy="314.9" r="9.4"/>
<circle cx="906.6" cy="453.6" r="9.4"/>
<circle cx="1065.0" cy="361.4" r="9.4"/>
<circle cx="1114.5" cy="386.6" r="9.4"/>
<circle cx="983.1" cy="356.5" r="9.4"/>
<circle cx="1167.1" cy="246.6" r="9.4"/>
<circle cx="1226.8" cy="238.2" r="9.4"/>
<circle cx="912.1" cy="394.9" r="9.4"/>
<circle cx="890.1" cy="462.3" r="9.4"/>
<circle cx="767.5" cy="561.7" r="9.4"/>
<circle cx="1146.6" cy="336.6" r="9.4"/>
<circle cx="958.0" cy="426.9" r="9.4"/>
<circle cx="902.8" cy="396.0" r="9.4"/>
<circle cx="1146.7" cy="278.2" r="9.4"/>
<circle cx="1190.5" cy="293.6" r="9.4"/>
<circle cx="995.0" cy="335.9" r="9.4"/>
<circle cx="1160.8" cy="308.8" r="9.4"/>
<circle cx="903.2" cy="418.2" r="9.4"/>
<circle cx="1039.8" cy="309.7" r="9.4"/>
<circle cx="1121.7" cy="240.3" r="9.4"/>
<circle cx="1166.4" cy="290.9" r="9.4"/>
<circle cx="1049.4" cy="432.2" r="9.4"/>
<circle cx="1171.7" cy="254.9" r="9.4"/>
<circle cx="958.3" cy="420.6" r="9.4"/>
<circle cx="1159.5" cy="323.8" r="9.4"/>
<circle cx="1017.1" cy="311.6" r="9.4"/>
<circle cx="1031.2" cy="433.4" r="9.4"/>
<circle cx="1010.6" cy="432.0" r="9.4"/>
<circle cx="1192.6" cy="286.0" r="9.4"/>
<circle cx="931.7" cy="372.6" r="9.4"/>
<circle cx="1138.6" cy="334.5" r="9.4"/>
<circle cx="1146.9" cy="373.4" r="9.4"/>
<circle cx="951.9" cy="423.5" r="9.4"/>
<circle cx="1131.7" cy="367.7" r="9.4"/>
<circle cx="1149.4" cy="378.0" r="9.4"/>
<circle cx="1196.8" cy="330.5" r="9.4"/>
<circle cx="1073.5" cy="330.3" r="9.4"/>
<circle cx="1069.9" cy="278.5" r="9.4"/>
<circle cx="1019.0" cy="448.3" r="9.4"/>
<circle cx="1006.1" cy="325.5" r="9.4"/>
<circle cx="1037.8" cy="383.9" r="9.4"/>
<circle cx="1206.6" cy="335.1" r="9.4"/>
<circle cx="896.3" cy="404.3" r="9.4"/>
<circle cx="902.3" cy="412.3" r="9.4"/>
<circle cx="906.8" cy="388.9" r="9.4"/>
<circle cx="1012.4" cy="397.8" r="9.4"/>
<circle cx="1114.2" cy="311.3" r="9.4"/>
<circle cx="1000.2" cy="453.1" r="9.4"/>
<circle cx="683.4" cy="599.5" r="9.4"/>
<circle cx="1040.8" cy="324.1" r="9.4"/>
<circle cx="886.7" cy="513.2" r="9.4"/>
<circle cx="964.3" cy="388.4" r="9.4"/>
<circle cx="970.6" cy="476.5" r="9.4"/>
<circle cx="849.5" cy="472.9" r="9.4"/>
<circle cx="683.7" cy="559.0" r="9.4"/>
<circle cx="1237.8" cy="243.3" r="9.4"/>
<circle cx="1081.5" cy="319.0" r="9.4"/>
<circle cx="912.6" cy="465.8" r="9.4"/>
<circle cx="953.6" cy="365.5" r="9.4"/>
<circle cx="1097.7" cy="263.6" r="9.4"/>
<circle cx="1024.9" cy="419.3" r="9.4"/>
<circle cx="1050.3" cy="285.5" r="9.4"/>
<circle cx="920.3" cy="473.4" r="9.4"/>
<circle cx="951.5" cy="463.4" r="9.4"/>
<circle cx="946.6" cy="404.0" r="9.4"/>
<circle cx="948.4" cy="444.7" r="9.4"/>
<circle cx="1107.4" cy="266.4" r="9.4"/>
<circle cx="1103.9" cy="395.6" r="9.4"/>
<circle cx="866.3" cy="464.1" r="9.4"/>
<circle cx="1210.9" cy="324.9" r="9.4"/>
<circle cx="814.4" cy="527.2" r="9.4"/>
<circle cx="714.4" cy="614.8" r="9.4"/>
<circle cx="955.8" cy="406.3" r="9.4"/>
<circle cx="960.9" cy="372.2" r="9.4"/>
<circle cx="978.0" cy="370.1" r="9.4"/>
<circle cx="941.8" cy="360.8" r="9.4"/>
<circle cx="1126.5" cy="351.6" r="9.4"/>
<circle cx="938.5" cy="384.3" r="9.4"/>
<circle cx="1009.3" cy="445.1" r="9.4"/>
<circle cx="1224.0" cy="319.1" r="9.4"/>
<circle cx="1034.5" cy="402.5" r="9.4"/>
<circle cx="942.9" cy="359.0" r="9.4"/>
<circle cx="932.2" cy="450.2" r="9.4"/>
<circle cx="1131.5" cy="396.3" r="9.4"/>
<circle cx="1072.8" cy="393.1" r="9.4"/>
<circle cx="1116.5" cy="344.9" r="9.4"/>
<circle cx="1086.9" cy="291.9" r="9.4"/>
<circle cx="1230.3" cy="268.3" r="9.4"/>
<circle cx="900.8" cy="476.7" r="9.4"/>
<circle cx="1133.1" cy="392.2" r="9.4"/>
<circle cx="1073.3" cy="408.8" r="9.4"/>
<circle cx="712.0" cy="593.0" r="9.4"/>
<circle cx="964.2" cy="403.0" r="9.4"/>
<circle cx="1186.0" cy="220.2" r="9.4"/>
<circle cx="1065.6" cy="312.4" r="9.4"/>
<circle cx="1119.0" cy="290.5" r="9.4"/>
<circle cx="1212.9" cy="289.9" r="9.4"/>
<circle cx="880.6" cy="460.3" r="9.4"/>
<circle cx="1148.1" cy="379.8" r="9.4"/>
<circle cx="892.6" cy="424.4" r="9.4"/>
<circle cx="1213.6" cy="293.9" r="9.4"/>
<circle cx="946.5" cy="360.4" r="9.4"/>
<circle cx="1057.1" cy="317.9" r="9.4"/>
<circle cx="1007.7" cy="343.4" r="9.4"/>
<circle cx="935.3" cy="381.9" r="9.4"/>
<circle cx="1035.4" cy="328.2" r="9.4"/>
<circle cx="822.0" cy="462.5" r="9.4"/>
<circle cx="1172.4" cy="212.8" r="9.4"/>
<circle cx="910.5" cy="502.9" r="9.4"/>
<circle cx="1113.5" cy="413.8" r="9.4"/>
<circle cx="1063.6" cy="373.8" r="9.4"/>
<circle cx="931.4" cy="493.8" r="9.4"/>
<circle cx="997.8" cy="371.7" r="9.4"/>
<circle cx="1159.2" cy="220.8" r="9.4"/>
<circle cx="1238.2" cy="252.3" r="9.4"/>
<circle cx="1004.1" cy="459.2" r="9.4"/>
<circle cx="1189.3" cy="332.9" r="9.4"/>
<circle cx="1096.3" cy="339.3" r="9.4"/>
<circle cx="1008.8" cy="433.5" r="9.4"/>
<circle cx="1189.1" cy="267.8" r="9.4"/>
<circle cx="1131.6" cy="283.1" r="9.4"/>
<circle cx="973.7" cy="373.8" r="9.4"/>
<circle cx="898.4" cy="476.3" r="9.4"/>
<circle cx="875.4" cy="513.5" r="9.4"/>
<circle cx="776.1" cy="514.5" r="9.4"/>
<circle cx="1148.9" cy="370.0" r="9.4"/>
<circle cx="1237.9" cy="243.2" r="9.4"/>
<circle cx="1168.3" cy="351.3" r="9.4"/>
<circle cx="1116.6" cy="410.5" r="9.4"/>
<circle cx="1029.9" cy="352.4" r="9.4"/>
<circle cx="697.6" cy="596.7" r="9.4"/>
<circle cx="933.4" cy="377.5" r="9.4"/>
<circle cx="1138.6" cy="381.4" r="9.4"/>
<circle cx="865.5" cy="525.0" r="9.4"/>
<circle cx="1080.6" cy="280.6" r="9.4"/>
<circle cx="778.7" cy="517.0" r="9.4"/>
<circle cx="1028.5" cy="346.7" r="9.4"/>
<circle cx="1174.7" cy="242.0" r="9.4"/>
<circle cx="955.6" cy="450.5" r="9.4"/>
<circle cx="980.8" cy="459.9" r="9.4"/>
<circle cx="937.7" cy="400.7" r="9.4"/>
<circle cx="1022.8" cy="406.8" r="9.4"/>
<circle cx="1100.2" cy="252.1" r="9.4"/>
<circle cx="1158.9" cy="224.1" r="9.4"/>
<circle cx="1042.4" cy="368.1" r="9.4"/>
<circle cx="920.2" cy="433.9" r="9.4"/>
<circle cx="978.8" cy="360.7" r="9.4"/>
<circle cx="1027.0" cy="360.1" r="9.4"/>
<circle cx="917.5" cy="408.0" r="9.4"/>
<circle cx="1032.9" cy="341.0" r="9.4"/>
<circle cx="996.3" cy="327.2" r="9.4"/>
<circle cx="1060.9" cy="426.7" r="9.4"/>
<circle cx="824.8" cy="480.6" r="9.4"/>
<circle cx="961.0" cy="442.1" r="9.4"/>
<circle cx="1145.3" cy="367.1" r="9.4"/>
<circle cx="1152.3" cy="252.6" r="9.4"/>
<circle cx="964.0" cy="453.1" r="9.4"/>
<circle cx="1064.0" cy="273.2" r="9.4"/>
<circle cx="1180.8" cy="325.6" r="9.4"/>
<circle cx="1231.2" cy="236.5" r="9.4"/>
<circle cx="1217.0" cy="287.3" r="9.4"/>
<circle cx="1188.6" cy="222.9" r="9.4"/>
<circle cx="1175.8" cy="357.0" r="9.4"/>
<circle cx="1229.5" cy="267.4" r="9.4"/>
<circle cx="1102.7" cy="251.1" r="9.4"/>
<circle cx="1031.1" cy="345.6" r="9.4"/>
<circle cx="1213.9" cy="318.6" r="9.4"/>
<circle cx="1133.1" cy="261.3" r="9.4"/>
<circle cx="1035.1" cy="375.6" r="9.4"/>
<circle cx="806.7" cy="575.7" r="9.4"/>
<circle cx="1052.1" cy="337.3" r="9.4"/>
<circle cx="1014.4" cy="407.3" r="9.4"/>
<circle cx="1118.1" cy="386.2" r="9.4"/>
<circle cx="947.5" cy="406.2" r="9.4"/>
<circle cx="989.4" cy="408.7" r="9.4"/>
<circle cx="1165.8" cy="261.5" r="9.4"/>
<circle cx="927.8" cy="397.5" r="9.4"/>
<circle cx="1079.0" cy="264.5" r="9.4"/>
<circle cx="1191.4" cy="281.8" r="9.4"/>
<circle cx="1179.0" cy="307.5" r="9.4"/>
<circle cx="990.1" cy="390.0" r="9.4"/>
<circle cx="1081.7" cy="386.8" r="9.4"/>
<circle cx="991.0" cy="459.2" r="9.4"/>
<circle cx="908.5" cy="381.4" r="9.4"/>
<circle cx="904.2" cy="481.0" r="9.4"/>
<circle cx="1172.7" cy="265.8" r="9.4"/>
<circle cx="768.7" cy="546.1" r="9.4"/>
<circle cx="970.5" cy="468.3" r="9.4"/>
<circle cx="1190.0" cy="226.7" r="9.4"/>
<circle cx="971.9" cy="394.6" r="9.4"/>
<circle cx="850.6" cy="486.1" r="9.4"/>
<circle cx="908.1" cy="444.8" r="9.4"/>
<circle cx="1105.9" cy="299.4" r="9.4"/>
<circle cx="718.0" cy="548.0" r="9.4"/>
<circle cx="910.7" cy="408.0" r="9.4"/>
<circle cx="1147.8" cy="264.8" r="9.4"/>
<circle cx="1129.7" cy="274.1" r="9.4"/>
<circle cx="1029.3" cy="363.8" r="9.4"/>
<circle cx="1104.6" cy="404.5" r="9.4"/>
<circle cx="948.5" cy="433.1" r="9.4"/>
<circle cx="1018.5" cy="344.9" r="9.4"/>
<circle cx="1179.3" cy="214.7" r="9.4"/>
<circle cx="1102.5" cy="338.6" r="9.4"/>
<circle cx="918.1" cy="360.9" r="9.4"/>
<circle cx="884.2" cy="522.7" r="9.4"/>
<circle cx="1032.4" cy="381.2" r="9.4"/>
<circle cx="961.3" cy="417.8" r="9.4"/>
<circle cx="1062.2" cy="425.7" r="9.4"/>
<circle cx="1192.3" cy="316.3" r="9.4"/>
<circle cx="938.4" cy="484.1" r="9.4"/>
<circle cx="1079.6" cy="401.7" r="9.4"/>
<circle cx="1132.2" cy="362.2" r="9.4"/>
<circle cx="928.2" cy="386.6" r="9.4"/>
<circle cx="775.2" cy="529.3" r="9.4"/>
<circle cx="992.7" cy="421.7" r="9.4"/>
<circle cx="1083.6" cy="364.5" r="9.4"/>
<circle cx="1093.4" cy="366.5" r="9.4"/>
<circle cx="1111.5" cy="298.5" r="9.4"/>
<circle cx="1192.3" cy="319.0" r="9.4"/>
<circle cx="916.7" cy="488.2" r="9.4"/>
<circle cx="1037.5" cy="417.8" r="9.4"/>
<circle cx="1207.4" cy="236.4" r="9.4"/>
<circle cx="1101.8" cy="393.3" r="9.4"/>
<circle cx="1187.8" cy="274.9" r="9.4"/>
<circle cx="1131.1" cy="259.2" r="9.4"/>
<circle cx="1072.9" cy="356.6" r="9.4"/>
<circle cx="1139.3" cy="367.8" r="9.4"/>
<circle cx="1155.1" cy="375.9" r="9.4"/>
<circle cx="1157.4" cy="297.6" r="9.4"/>
<circle cx="1049.2" cy="369.0" r="9.4"/>
<circle cx="986.0" cy="439.6" r="9.4"/>
<circle cx="817.7" cy="509.1" r="9.4"/>
<circle cx="1006.7" cy="362.9" r="9.4"/>
<circle cx="886.3" cy="472.6" r="9.4"/>
<circle cx="1083.9" cy="326.2" r="9.4"/>
<circle cx="1068.7" cy="417.4" r="9.4"/>
<circle cx="1124.7" cy="377.6" r="9.4"/>
<circle cx="761.9" cy="553.3" r="9.4"/>
<circle cx="984.0" cy="467.3" r="9.4"/>
<circle cx="1222.0" cy="334.4" r="9.4"/>
<circle cx="1071.8" cy="412.5" r="9.4"/>
<circle cx="1034.8" cy="321.4" r="9.4"/>
<circle cx="1057.1" cy="411.9" r="9.4"/>
<circle cx="1161.1" cy="314.2" r="9.4"/>
<circle cx="1075.1" cy="365.8" r="9.4"/>
<circle cx="1131.9" cy="372.5" r="9.4"/>
<circle cx="1134.5" cy="263.5" r="9.4"/>
<circle cx="1071.1" cy="292.1" r="9.4"/>
<circle cx="1081.3" cy="376.7" r="9.4"/>
<circle cx="1059.2" cy="396.5" r="9.4"/>
<circle cx="1205.5" cy="232.5" r="9.4"/>
<circle cx="916.7" cy="374.4" r="9.4"/>
<circle cx="980.6" cy="470.2" r="9.4"/>
<circle cx="1109.7" cy="244.0" r="9.4"/>
<circle cx="1132.6" cy="303.3" r="9.4"/>
<circle cx="934.7" cy="463.0" r="9.4"/>
<circle cx="952.3" cy="437.6" r="9.4"/>
<circle cx="1087.2" cy="412.8" r="9.4"/>
<circle cx="1170.3" cy="302.6" r="9.4"/>
<circle cx="1123.2" cy="368.8" r="9.4"/>
<circle cx="1197.7" cy="242.8" r="9.4"/>
<circle cx="1019.6" cy="314.3" r="9.4"/>
<circle cx="1182.8" cy="225.8" r="9.4"/>
<circle cx="1198.8" cy="305.1" r="9.4"/>
<circle cx="1167.8" cy="239.3" r="9.4"/>
<circle cx="1174.1" cy="295.9" r="9.4"/>
<circle cx="905.8" cy="380.7" r="9.4"/>
<circle cx="875.3" cy="500.1" r="9.4"/>
<circle cx="802.5" cy="565.9" r="9.4"/>
<circle cx="1125.0" cy="288.1" r="9.4"/>
<circle cx="1156.3" cy="234.3" r="9.4"/>
<circle cx="890.6" cy="465.0" r="9.4"/>
<circle cx="1017.7" cy="438.1" r="9.4"/>
<circle cx="962.1" cy="376.0" r="9.4"/>
<circle cx="941.0" cy="478.7" r="9.4"/>
<circle cx="1124.2" cy="402.0" r="9.4"/>
<circle cx="1139.7" cy="385.9" r="9.4"/>
<circle cx="998.1" cy="377.2" r="9.4"/>
<circle cx="1037.8" cy="299.1" r="9.4"/>
<circle cx="1214.5" cy="271.3" r="9.4"/>
<circle cx="982.3" cy="387.1" r="9.4"/>
<circle cx="1104.6" cy="380.0" r="9.4"/>
<circle cx="1179.5" cy="315.2" r="9.4"/>
<circle cx="982.0" cy="341.2" r="9.4"/>
<circle cx="927.8" cy="456.0" r="9.4"/>
<circle cx="1062.6" cy="290.1" r="9.4"/>
<circle cx="1044.9" cy="440.0" r="9.4"/>
<circle cx="961.0" cy="473.8" r="9.4"/>
<circle cx="1043.8" cy="407.5" r="9.4"/>
<circle cx="1058.0" cy="334.1" r="9.4"/>
<circle cx="935.6" cy="487.3" r="9.4"/>
<circle cx="1080.6" cy="379.2" r="9.4"/>
<circle cx="1009.1" cy="394.2" r="9.4"/>
<circle cx="1017.3" cy="336.5" r="9.4"/>
<circle cx="1113.8" cy="266.4" r="9.4"/>
<circle cx="957.7" cy="419.2" r="9.4"/>
<circle cx="1207.2" cy="327.0" r="9.4"/>
<circle cx="1163.7" cy="279.9" r="9.4"/>
<circle cx="938.4" cy="416.0" r="9.4"/>
<circle cx="912.4" cy="376.9" r="9.4"/>
<circle cx="806.0" cy="562.4" r="9.4"/>
<circle cx="938.6" cy="376.3" r="9.4"/>
<circle cx="1164.6" cy="328.8" r="9.4"/>
<circle cx="1108.0" cy="412.2" r="9.4"/>
<circle cx="849.8" cy="449.8" r="9.4"/>
<circle cx="825.6" cy="495.1" r="9.4"/>
<circle cx="1151.4" cy="308.1" r="9.4"/>
<circle cx="1215.2" cy="259.0" r="9.4"/>
<circle cx="897.6" cy="454.5" r="9.4"/>
<circle cx="774.5" cy="599.5" r="9.4"/>
<circle cx="964.0" cy="479.4" r="9.4"/>
<circle cx="1113.9" cy="259.8" r="9.4"/>
<circle cx="1214.2" cy="243.2" r="9.4"/>
<circle cx="1024.4" cy="396.9" r="9.4"/>
<circle cx="1034.8" cy="371.1" r="9.4"/>
<circle cx="843.9" cy="457.0" r="9.4"/>
<circle cx="1053.5" cy="362.7" r="9.4"/>
<circle cx="1208.0" cy="339.7" r="9.4"/>
<circle cx="872.7" cy="451.0" r="9.4"/>
<circle cx="1072.9" cy="288.0" r="9.4"/>
<circle cx="842.0" cy="461.8" r="9.4"/>
<circle cx="1196.8" cy="252.0" r="9.4"/>
<circle cx="1133.4" cy="256.4" r="9.4"/>
<circle cx="1122.4" cy="305.8" r="9.4"/>
<circle cx="898.0" cy="504.6" r="9.4"/>
<circle cx="1210.9" cy="282.2" r="9.4"/>
<circle cx="1010.8" cy="454.8" r="9.4"/>
<circle cx="893.8" cy="488.6" r="9.4"/>
<circle cx="871.9" cy="453.4" r="9.4"/>
<circle cx="1015.5" cy="312.1" r="9.4"/>
<circle cx="1083.5" cy="355.1" r="9.4"/>
<circle cx="1123.4" cy="330.8" r="9.4"/>
<circle cx="1010.8" cy="396.5" r="9.4"/>
<circle cx="1016.5" cy="301.9" r="9.4"/>
<circle cx="902.2" cy="421.3" r="9.4"/>
<circle cx="1064.4" cy="393.1" r="9.4"/>
<circle cx="1050.0" cy="311.2" r="9.4"/>
<circle cx="1182.7" cy="352.4" r="9.4"/>
<circle cx="855.0" cy="472.7" r="9.4"/>
<circle cx="861.0" cy="515.2" r="9.4"/>
<circle cx="908.3" cy="506.1" r="9.4"/>
<circle cx="917.4" cy="496.4" r="9.4"/>
<circle cx="853.6" cy="461.4" r="9.4"/>
<circle cx="1110.0" cy="284.5" r="9.4"/>
<circle cx="895.6" cy="405.1" r="9.4"/>
<circle cx="956.2" cy="459.3" r="9.4"/>
<circle cx="1016.0" cy="320.6" r="9.4"/>
<circle cx="1171.2" cy="283.1" r="9.4"/>
<circle cx="1042.7" cy="324.5" r="9.4"/>
<circle cx="1074.1" cy="336.6" r="9.4"/>
<circle cx="1034.6" cy="428.3" r="9.4"/>
<circle cx="1024.3" cy="401.4" r="9.4"/>
<circle cx="922.8" cy="405.4" r="9.4"/>
<circle cx="943.9" cy="366.4" r="9.4"/>
<circle cx="1010.2" cy="442.8" r="9.4"/>
<circle cx="1222.5" cy="265.7" r="9.4"/>
<circle cx="1186.1" cy="335.2" r="9.4"/>
<circle cx="1060.9" cy="342.5" r="9.4"/>
<circle cx="1020.3" cy="336.4" r="9.4"/>
<circle cx="929.2" cy="496.0" r="9.4"/>
<circle cx="1075.9" cy="343.6" r="9.4"/>
<circle cx="1142.3" cy="271.7" r="9.4"/>
<circle cx="1024.4" cy="297.7" r="9.4"/>
<circle cx="947.5" cy="471.4" r="9.4"/>
<circle cx="1052.1" cy="386.3" r="9.4"/>
<circle cx="1054.0" cy="432.9" r="9.4"/>
<circle cx="1004.1" cy="449.1" r="9.4"/>
<circle cx="683.6" cy="584.0" r="9.4"/>
<circle cx="886.8" cy="444.3" r="9.4"/>
<circle cx="929.8" cy="399.7" r="9.4"/>
<circle cx="956.1" cy="482.0" r="9.4"/>
<circle cx="901.6" cy="486.4" r="9.4"/>
<circle cx="1143.2" cy="268.5" r="9.4"/>
<circle cx="1127.7" cy="257.5" r="9.4"/>
<circle cx="984.7" cy="403.7" r="9.4"/>
<circle cx="1203.9" cy="321.8" r="9.4"/>
<circle cx="1083.2" cy="269.5" r="9.4"/>
<circle cx="1101.4" cy="383.8" r="9.4"/>
<circle cx="954.2" cy="432.0" r="9.4"/>
<circle cx="1054.3" cy="354.4" r="9.4"/>
<circle cx="1062.9" cy="310.8" r="9.4"/>
<circle cx="873.1" cy="475.3" r="9.4"/>
<circle cx="990.8" cy="366.8" r="9.4"/>
<circle cx="1071.7" cy="275.9" r="9.4"/>
<circle cx="988.2" cy="432.1" r="9.4"/>
<circle cx="1034.0" cy="442.0" r="9.4"/>
<circle cx="816.7" cy="526.1" r="9.4"/>
<circle cx="1087.0" cy="276.3" r="9.4"/>
<circle cx="823.4" cy="536.6" r="9.4"/>
<circle cx="1144.2" cy="341.8" r="9.4"/>
<circle cx="997.7" cy="358.9" r="9.4"/>
<circle cx="863.0" cy="514.7" r="9.4"/>
<circle cx="893.3" cy="463.8" r="9.4"/>
<circle cx="1047.3" cy="282.4" r="9.4"/>
<circle cx="1079.9" cy="401.3" r="9.4"/>
<circle cx="1085.3" cy="289.2" r="9.4"/>
<circle cx="1030.9" cy="302.4" r="9.4"/>
<circle cx="1177.7" cy="214.3" r="9.4"/>
<circle cx="951.3" cy="370.7" r="9.4"/>
<circle cx="823.6" cy="517.5" r="9.4"/>
<circle cx="964.1" cy="381.2" r="9.4"/>
<circle cx="977.4" cy="408.4" r="9.4"/>
<circle cx="1233.5" cy="242.2" r="9.4"/>
<circle cx="897.2" cy="515.2" r="9.4"/>
<circle cx="1178.1" cy="236.3" r="9.4"/>
<circle cx="1059.6" cy="434.4" r="9.4"/>
<circle cx="1082.5" cy="406.4" r="9.4"/>
<circle cx="1180.5" cy="239.1" r="9.4"/>
<circle cx="1208.6" cy="273.7" r="9.4"/>
<circle cx="1085.4" cy="323.9" r="9.4"/>
<circle cx="1033.4" cy="322.8" r="9.4"/>
<circle cx="871.3" cy="532.0" r="9.4"/>
<circle cx="1227.9" cy="292.6" r="9.4"/>
<circle cx="894.2" cy="405.0" r="9.4"/>
<circle cx="1172.3" cy="233.3" r="9.4"/>
<circle cx="860.0" cy="519.5" r="9.4"/>
<circle cx="1080.9" cy="334.4" r="9.4"/>
<circle cx="960.7" cy="443.0" r="9.4"/>
<circle cx="996.5" cy="447.6" r="9.4"/>
<circle cx="866.5" cy="542.1" r="9.4"/>
<circle cx="918.2" cy="500.3" r="9.4"/>
<circle cx="917.8" cy="368.4" r="9.4"/>
<circle cx="937.5" cy="489.0" r="9.4"/>
<circle cx="1101.5" cy="277.5" r="9.4"/>
<circle cx="1224.6" cy="268.4" r="9.4"/>
<circle cx="891.9" cy="402.8" r="9.4"/>
<circle cx="1126.8" cy="342.7" r="9.4"/>
<circle cx="853.9" cy="449.7" r="9.4"/>
<circle cx="974.8" cy="411.0" r="9.4"/>
<circle cx="1164.5" cy="290.4" r="9.4"/>
<circle cx="1141.5" cy="302.3" r="9.4"/>
<circle cx="820.6" cy="503.0" r="9.4"/>
<circle cx="917.6" cy="447.1" r="9.4"/>
<circle cx="1193.5" cy="269.4" r="9.4"/>
<circle cx="992.7" cy="417.8" r="9.4"/>
<circle cx="820.2" cy="523.5" r="9.4"/>
<circle cx="952.3" cy="433.2" r="9.4"/>
<circle cx="1157.2" cy="232.2" r="9.4"/>
<circle cx="820.6" cy="556.1" r="9.4"/>
<circle cx="1080.1" cy="357.6" r="9.4"/>
<circle cx="1066.4" cy="372.6" r="9.4"/>
<circle cx="986.1" cy="338.1" r="9.4"/>
<circle cx="1048.3" cy="312.1" r="9.4"/>
<circle cx="973.3" cy="425.3" r="9.4"/>
<circle cx="1103.0" cy="379.3" r="9.4"/>
<circle cx="1146.5" cy="291.1" r="9.4"/>
<circle cx="964.6" cy="479.4" r="9.4"/>
<circle cx="1208.1" cy="330.5" r="9.4"/>
<circle cx="1143.6" cy="266.5" r="9.4"/>
<circle cx="1080.0" cy="287.6" r="9.4"/>
<circle cx="903.7" cy="384.7" r="9.4"/>
<circle cx="717.2" cy="533.8" r="9.4"/>
<circle cx="930.0" cy="379.2" r="9.4"/>
<circle cx="1107.4" cy="405.5" r="9.4"/>
<circle cx="1228.1" cy="256.0" r="9.4"/>
<circle cx="1116.7" cy="281.3" r="9.4"/>
<circle cx="1107.1" cy="304.8" r="9.4"/>
<circle cx="850.1" cy="502.5" r="9.4"/>
<circle cx="1070.2" cy="374.4" r="9.4"/>
<circle cx="724.0" cy="582.0" r="9.4"/>
<circle cx="872.2" cy="426.5" r="9.4"/>
<circle cx="1228.7" cy="295.2" r="9.4"/>
<circle cx="881.1" cy="491.4" r="9.4"/>
<circle cx="879.1" cy="436.9" r="9.4"/>
<circle cx="1134.1" cy="392.8" r="9.4"/>
<circle cx="1144.9" cy="355.3" r="9.4"/>
<circle cx="987.8" cy="320.1" r="9.4"/>
<circle cx="1206.0" cy="271.8" r="9.4"/>
<circle cx="974.1" cy="400.8" r="9.4"/>
<circle cx="1070.9" cy="426.7" r="9.4"/>
<circle cx="1043.2" cy="300.5" r="9.4"/>
<circle cx="1086.1" cy="329.7" r="9.4"/>
<circle cx="489.3" cy="592.1" r="9.4"/>
<circle cx="489.3" cy="607.4" r="9.4"/>
<circle cx="489.3" cy="632.3" r="9.4"/>
<circle cx="489.3" cy="647.6" r="9.4"/>
<circle cx="489.3" cy="657.6" r="9.4"/>
<circle cx="492.5" cy="633.5" r="9.4"/>
<circle cx="492.0" cy="649.2" r="9.4"/>
<circle cx="577.0" cy="587.3" r="9.4"/>
<circle cx="575.0" cy="588.9" r="9.4"/>
<circle cx="574.2" cy="597.4" r="9.4"/>
<circle cx="574.5" cy="624.3" r="9.4"/>
<circle cx="573.5" cy="632.3" r="9.4"/>
<circle cx="575.5" cy="634.3" r="9.4"/>
<circle cx="577.4" cy="674.4" r="9.4"/>
<circle cx="1253.4" cy="180.0" r="9.4"/>
<circle cx="1277.0" cy="201.4" r="9.4"/>
<circle cx="1281.0" cy="203.0" r="9.4"/>
<circle cx="1262.0" cy="211.3" r="9.4"/>
<circle cx="1262.0" cy="246.0" r="9.4"/>
<circle cx="1293.4" cy="245.4" r="9.4"/>
<circle cx="1291.6" cy="254.6" r="9.4"/>
<circle cx="1272.5" cy="258.0" r="9.4"/>
<circle cx="1271.4" cy="269.3" r="9.4"/>
<circle cx="1317.0" cy="273.0" r="9.4"/>
<circle cx="1292.0" cy="285.8" r="9.4"/>
<circle cx="1255.0" cy="276.6" r="9.4"/>
<circle cx="1252.0" cy="295.0" r="9.4"/>
<circle cx="1277.0" cy="306.0" r="9.4"/>
<circle cx="1262.0" cy="311.5" r="9.4"/>
<circle cx="991.0" cy="296.7" r="9.4"/>
<circle cx="1086.5" cy="237.1" r="9.4"/>
</g>
<g fill="#2e8b57" stroke="#07140c" stroke-width="1" stroke-linejoin="miter" stroke-miterlimit="10">
<polygon points="1215.0,60.8 1211.4,72.0 1199.6,72.0 1209.1,78.9 1205.5,90.1 1215.0,83.2 1224.5,90.1 1220.9,78.9 1230.4,72.0 1218.6,72.0"/>
<polygon points="489.3,887.3 485.7,898.5 473.9,898.5 483.4,905.4 479.8,916.6 489.3,909.7 498.8,916.6 495.2,905.4 504.7,898.5 492.9,898.5"/>
<polygon points="574.5,712.7 570.9,723.9 559.1,723.9 568.6,730.8 565.0,742.0 574.5,735.1 584.0,742.0 580.4,730.8 589.9,723.9 578.1,723.9"/>
<polygon points="702.3,725.8 698.7,737.0 686.9,737.0 696.4,743.9 692.8,755.1 702.3,748.2 711.8,755.1 708.2,743.9 717.7,737.0 705.9,737.0"/>
<polygon points="1204.8,604.3 1201.2,615.5 1189.4,615.5 1198.9,622.4 1195.3,633.6 1204.8,626.7 1214.3,633.6 1210.7,622.4 1220.2,615.5 1208.4,615.5"/>
<polygon points="1063.3,765.3 1059.7,776.5 1047.9,776.5 1057.4,783.4 1053.8,794.6 1063.3,787.7 1072.8,794.6 1069.2,783.4 1078.7,776.5 1066.9,776.5"/>
<polygon points="683.4,576.2 679.8,587.4 668.0,587.4 677.5,594.3 673.9,605.5 683.4,598.6 692.9,605.5 689.3,594.3 698.8,587.4 687.0,587.4"/>
<polygon points="718.1,623.1 714.5,634.3 702.7,634.3 712.2,641.2 708.6,652.4 718.1,645.5 727.6,652.4 724.0,641.2 733.5,634.3 721.7,634.3"/>
<polygon points="731.3,621.3 727.7,632.5 715.9,632.5 725.4,639.4 721.8,650.6 731.3,643.7 740.8,650.6 737.2,639.4 746.7,632.5 734.9,632.5"/>
<polygon points="777.2,629.7 773.6,640.9 761.8,640.9 771.3,647.8 767.7,659.0 777.2,652.1 786.7,659.0 783.1,647.8 792.6,640.9 780.8,640.9"/>
<polygon points="823.1,591.5 819.5,602.7 807.7,602.7 817.2,609.6 813.6,620.8 823.1,613.9 832.6,620.8 829.0,609.6 838.5,602.7 826.7,602.7"/>
<polygon points="840.4,601.7 836.8,612.9 825.0,612.9 834.5,619.8 830.9,631.0 840.4,624.1 849.9,631.0 846.3,619.8 855.8,612.9 844.0,612.9"/>
<polygon points="824.3,618.8 820.7,630.0 808.9,630.0 818.4,636.9 814.8,648.1 824.3,641.2 833.8,648.1 830.2,636.9 839.7,630.0 827.9,630.0"/>
<polygon points="861.3,611.9 857.7,623.1 845.9,623.1 855.4,630.0 851.8,641.2 861.3,634.3 870.8,641.2 867.2,630.0 876.7,623.1 864.9,623.1"/>
<polygon points="854.9,635.8 851.3,647.0 839.5,647.0 849.0,653.9 845.4,665.1 854.9,658.2 864.4,665.1 860.8,653.9 870.3,647.0 858.5,647.0"/>
<polygon points="895.7,629.7 892.1,640.9 880.3,640.9 889.8,647.8 886.2,659.0 895.7,652.1 905.2,659.0 901.6,647.8 911.1,640.9 899.3,640.9"/>
<polygon points="900.8,627.2 897.2,638.4 885.4,638.4 894.9,645.3 891.3,656.5 900.8,649.6 910.3,656.5 906.7,645.3 916.2,638.4 904.4,638.4"/>
<polygon points="936.4,614.4 932.8,625.6 921.0,625.6 930.5,632.5 926.9,643.7 936.4,636.8 945.9,643.7 942.3,632.5 951.8,625.6 940.0,625.6"/>
<polygon points="989.2,602.2 985.6,613.4 973.8,613.4 983.3,620.3 979.7,631.5 989.2,624.6 998.7,631.5 995.1,620.3 1004.6,613.4 992.8,613.4"/>
<polygon points="1029.4,600.2 1025.8,611.4 1014.0,611.4 1023.5,618.3 1019.9,629.5 1029.4,622.6 1038.9,629.5 1035.3,618.3 1044.8,611.4 1033.0,611.4"/>
<polygon points="862.5,660.8 858.9,672.0 847.1,672.0 856.6,678.9 853.0,690.1 862.5,683.2 872.0,690.1 868.4,678.9 877.9,672.0 866.1,672.0"/>
<polygon points="861.3,669.7 857.7,680.9 845.9,680.9 855.4,687.8 851.8,699.0 861.3,692.1 870.8,699.0 867.2,687.8 876.7,680.9 864.9,680.9"/>
<polygon points="764.5,685.0 760.9,696.2 749.1,696.2 758.6,703.1 755.0,714.3 764.5,707.4 774.0,714.3 770.4,703.1 779.9,696.2 768.1,696.2"/>
<polygon points="771.3,691.4 767.7,702.6 755.9,702.6 765.4,709.5 761.8,720.7 771.3,713.8 780.8,720.7 777.2,709.5 786.7,702.6 774.9,702.6"/>
<polygon points="775.7,539.4 772.1,550.6 760.3,550.6 769.8,557.5 766.2,568.7 775.7,561.8 785.2,568.7 781.6,557.5 791.1,550.6 779.3,550.6"/>
<polygon points="807.2,521.8 803.6,533.0 791.8,533.0 801.3,539.9 797.7,551.1 807.2,544.2 816.7,551.1 813.1,539.9 822.6,533.0 810.8,533.0"/>
<polygon points="875.3,517.5 871.7,528.7 859.9,528.7 869.4,535.6 865.8,546.8 875.3,539.9 884.8,546.8 881.2,535.6 890.7,528.7 878.9,528.7"/>
<polygon points="845.2,562.0 841.6,573.2 829.8,573.2 839.3,580.1 835.7,591.3 845.2,584.4 854.7,591.3 851.1,580.1 860.6,573.2 848.8,573.2"/>
<polygon points="865.2,573.1 861.6,584.3 849.8,584.3 859.3,591.2 855.7,602.4 865.2,595.5 874.7,602.4 871.1,591.2 880.6,584.3 868.8,584.3"/>
<polygon points="888.8,541.4 885.2,552.6 873.4,552.6 882.9,559.5 879.3,570.7 888.8,563.8 898.3,570.7 894.7,559.5 904.2,552.6 892.4,552.6"/>
<polygon points="898.0,554.2 894.4,565.4 882.6,565.4 892.1,572.3 888.5,583.5 898.0,576.6 907.5,583.5 903.9,572.3 913.4,565.4 901.6,565.4"/>
<polygon points="887.9,559.0 884.3,570.2 872.5,570.2 882.0,577.1 878.4,588.3 887.9,581.4 897.4,588.3 893.8,577.1 903.3,570.2 891.5,570.2"/>
<polygon points="923.1,564.8 919.5,576.0 907.7,576.0 917.2,582.9 913.6,594.1 923.1,587.2 932.6,594.1 929.0,582.9 938.5,576.0 926.7,576.0"/>
<polygon points="912.3,580.3 908.7,591.5 896.9,591.5 906.4,598.4 902.8,609.6 912.3,602.7 921.8,609.6 918.2,598.4 927.7,591.5 915.9,591.5"/>
<polygon points="935.1,537.0 931.5,548.2 919.7,548.2 929.2,555.1 925.6,566.3 935.1,559.4 944.6,566.3 941.0,555.1 950.5,548.2 938.7,548.2"/>
<polygon points="949.4,535.1 945.8,546.3 934.0,546.3 943.5,553.2 939.9,564.4 949.4,557.5 958.9,564.4 955.3,553.2 964.8,546.3 953.0,546.3"/>
<polygon points="965.3,538.8 961.7,550.0 949.9,550.0 959.4,556.9 955.8,568.1 965.3,561.2 974.8,568.1 971.2,556.9 980.7,550.0 968.9,550.0"/>
<polygon points="963.8,566.4 960.2,577.6 948.4,577.6 957.9,584.5 954.3,595.7 963.8,588.8 973.3,595.7 969.7,584.5 979.2,577.6 967.4,577.6"/>
<polygon points="987.0,552.7 983.4,563.9 971.6,563.9 981.1,570.8 977.5,582.0 987.0,575.1 996.5,582.0 992.9,570.8 1002.4,563.9 990.6,563.9"/>
<polygon points="980.5,537.5 976.9,548.7 965.1,548.7 974.6,555.6 971.0,566.8 980.5,559.9 990.0,566.8 986.4,555.6 995.9,548.7 984.1,548.7"/>
<polygon points="989.8,535.7 986.2,546.9 974.4,546.9 983.9,553.8 980.3,565.0 989.8,558.1 999.3,565.0 995.7,553.8 1005.2,546.9 993.4,546.9"/>
<polygon points="995.3,539.4 991.7,550.6 979.9,550.6 989.4,557.5 985.8,568.7 995.3,561.8 1004.8,568.7 1001.2,557.5 1010.7,550.6 998.9,550.6"/>
<polygon points="990.7,511.8 987.1,523.0 975.3,523.0 984.8,529.9 981.2,541.1 990.7,534.2 1000.2,541.1 996.6,529.9 1006.1,523.0 994.3,523.0"/>
<polygon points="964.7,485.7 961.1,496.9 949.3,496.9 958.8,503.8 955.2,515.0 964.7,508.1 974.2,515.0 970.6,503.8 980.1,496.9 968.3,496.9"/>
<polygon points="1015.7,493.1 1012.1,504.3 1000.3,504.3 1009.8,511.2 1006.2,522.4 1015.7,515.5 1025.2,522.4 1021.6,511.2 1031.1,504.3 1019.3,504.3"/>
<polygon points="1019.4,504.2 1015.8,515.4 1004.0,515.4 1013.5,522.3 1009.9,533.5 1019.4,526.6 1028.9,533.5 1025.3,522.3 1034.8,515.4 1023.0,515.4"/>
<polygon points="1022.2,521.8 1018.6,533.0 1006.8,533.0 1016.3,539.9 1012.7,551.1 1022.2,544.2 1031.7,551.1 1028.1,539.9 1037.6,533.0 1025.8,533.0"/>
<polygon points="1042.6,515.3 1039.0,526.5 1027.2,526.5 1036.7,533.4 1033.1,544.6 1042.6,537.7 1052.1,544.6 1048.5,533.4 1058.0,526.5 1046.2,526.5"/>
<polygon points="1048.1,522.7 1044.5,533.9 1032.7,533.9 1042.2,540.8 1038.6,552.0 1048.1,545.1 1057.6,552.0 1054.0,540.8 1063.5,533.9 1051.7,533.9"/>
<polygon points="1037.9,526.4 1034.3,537.6 1022.5,537.6 1032.0,544.5 1028.4,555.7 1037.9,548.8 1047.4,555.7 1043.8,544.5 1053.3,537.6 1041.5,537.6"/>
<polygon points="1063.9,500.5 1060.3,511.7 1048.5,511.7 1058.0,518.6 1054.4,529.8 1063.9,522.9 1073.4,529.8 1069.8,518.6 1079.3,511.7 1067.5,511.7"/>
<polygon points="1060.2,519.9 1056.6,531.1 1044.8,531.1 1054.3,538.0 1050.7,549.2 1060.2,542.3 1069.7,549.2 1066.1,538.0 1075.6,531.1 1063.8,531.1"/>
<polygon points="1037.0,555.3 1033.4,566.5 1021.6,566.5 1031.1,573.4 1027.5,584.6 1037.0,577.7 1046.5,584.6 1042.9,573.4 1052.4,566.5 1040.6,566.5"/>
<polygon points="1054.6,543.1 1051.0,554.3 1039.2,554.3 1048.7,561.2 1045.1,572.4 1054.6,565.5 1064.1,572.4 1060.5,561.2 1070.0,554.3 1058.2,554.3"/>
<polygon points="1076.8,539.4 1073.2,550.6 1061.4,550.6 1070.9,557.5 1067.3,568.7 1076.8,561.8 1086.3,568.7 1082.7,557.5 1092.2,550.6 1080.4,550.6"/>
<polygon points="990.6,383.4 987.0,394.6 975.2,394.6 984.7,401.5 981.1,412.7 990.6,405.8 1000.1,412.7 996.5,401.5 1006.0,394.6 994.2,394.6"/>
<polygon points="1088.8,364.9 1085.2,376.1 1073.4,376.1 1082.9,383.0 1079.3,394.2 1088.8,387.3 1098.3,394.2 1094.7,383.0 1104.2,376.1 1092.4,376.1"/>
<polygon points="1103.6,381.6 1100.0,392.8 1088.2,392.8 1097.7,399.7 1094.1,410.9 1103.6,404.0 1113.1,410.9 1109.5,399.7 1119.0,392.8 1107.2,392.8"/>
<polygon points="1121.2,381.6 1117.6,392.8 1105.8,392.8 1115.3,399.7 1111.7,410.9 1121.2,404.0 1130.7,410.9 1127.1,399.7 1136.6,392.8 1124.8,392.8"/>
<polygon points="1134.2,357.5 1130.6,368.7 1118.8,368.7 1128.3,375.6 1124.7,386.8 1134.2,379.9 1143.7,386.8 1140.1,375.6 1149.6,368.7 1137.8,368.7"/>
<polygon points="1193.1,363.1 1189.5,374.3 1177.7,374.3 1187.2,381.2 1183.6,392.4 1193.1,385.5 1202.6,392.4 1199.0,381.2 1208.5,374.3 1196.7,374.3"/>
<polygon points="1238.9,373.3 1235.3,384.5 1223.5,384.5 1233.0,391.4 1229.4,402.6 1238.9,395.7 1248.4,402.6 1244.8,391.4 1254.3,384.5 1242.5,384.5"/>
<polygon points="1211.1,388.1 1207.5,399.3 1195.7,399.3 1205.2,406.2 1201.6,417.4 1211.1,410.5 1220.6,417.4 1217.0,406.2 1226.5,399.3 1214.7,399.3"/>
<polygon points="1221.3,389.0 1217.7,400.2 1205.9,400.2 1215.4,407.1 1211.8,418.3 1221.3,411.4 1230.8,418.3 1227.2,407.1 1236.7,400.2 1224.9,400.2"/>
<polygon points="1273.1,410.3 1269.5,421.5 1257.7,421.5 1267.2,428.4 1263.6,439.6 1273.1,432.7 1282.6,439.6 1279.0,428.4 1288.5,421.5 1276.7,421.5"/>
<polygon points="1087.8,402.9 1084.2,414.1 1072.4,414.1 1081.9,421.0 1078.3,432.2 1087.8,425.3 1097.3,432.2 1093.7,421.0 1103.2,414.1 1091.4,414.1"/>
<polygon points="1119.3,397.3 1115.7,408.5 1103.9,408.5 1113.4,415.4 1109.8,426.6 1119.3,419.7 1128.8,426.6 1125.2,415.4 1134.7,408.5 1122.9,408.5"/>
<polygon points="1166.6,398.3 1163.0,409.5 1151.2,409.5 1160.7,416.4 1157.1,427.6 1166.6,420.7 1176.1,427.6 1172.5,416.4 1182.0,409.5 1170.2,409.5"/>
<polygon points="1152.7,407.5 1149.1,418.7 1137.3,418.7 1146.8,425.6 1143.2,436.8 1152.7,429.9 1162.2,436.8 1158.6,425.6 1168.1,418.7 1156.3,418.7"/>
<polygon points="1147.1,402.0 1143.5,413.2 1131.7,413.2 1141.2,420.1 1137.6,431.3 1147.1,424.4 1156.6,431.3 1153.0,420.1 1162.5,413.2 1150.7,413.2"/>
<polygon points="968.9,431.6 965.3,442.8 953.5,442.8 963.0,449.7 959.4,460.9 968.9,454.0 978.4,460.9 974.8,449.7 984.3,442.8 972.5,442.8"/>
<polygon points="1104.5,427.9 1100.9,439.1 1089.1,439.1 1098.6,446.0 1095.0,457.2 1104.5,450.3 1114.0,457.2 1110.4,446.0 1119.9,439.1 1108.1,439.1"/>
<polygon points="1136.0,426.1 1132.4,437.3 1120.6,437.3 1130.1,444.2 1126.5,455.4 1136.0,448.5 1145.5,455.4 1141.9,444.2 1151.4,437.3 1139.6,437.3"/>
<polygon points="1068.4,435.3 1064.8,446.5 1053.0,446.5 1062.5,453.4 1058.9,464.6 1068.4,457.7 1077.9,464.6 1074.3,453.4 1083.8,446.5 1072.0,446.5"/>
<polygon points="1082.3,442.7 1078.7,453.9 1066.9,453.9 1076.4,460.8 1072.8,472.0 1082.3,465.1 1091.8,472.0 1088.2,460.8 1097.7,453.9 1085.9,453.9"/>
<polygon points="1147.1,435.3 1143.5,446.5 1131.7,446.5 1141.2,453.4 1137.6,464.6 1147.1,457.7 1156.6,464.6 1153.0,453.4 1162.5,446.5 1150.7,446.5"/>
<polygon points="1174.9,431.6 1171.3,442.8 1159.5,442.8 1169.0,449.7 1165.4,460.9 1174.9,454.0 1184.4,460.9 1180.8,449.7 1190.3,442.8 1178.5,442.8"/>
<polygon points="1180.5,436.3 1176.9,447.5 1165.1,447.5 1174.6,454.4 1171.0,465.6 1180.5,458.7 1190.0,465.6 1186.4,454.4 1195.9,447.5 1184.1,447.5"/>
<polygon points="1210.1,432.5 1206.5,443.7 1194.7,443.7 1204.2,450.6 1200.6,461.8 1210.1,454.9 1219.6,461.8 1216.0,450.6 1225.5,443.7 1213.7,443.7"/>
<polygon points="1030.4,450.1 1026.8,461.3 1015.0,461.3 1024.5,468.2 1020.9,479.4 1030.4,472.5 1039.9,479.4 1036.3,468.2 1045.8,461.3 1034.0,461.3"/>
<polygon points="1049.9,447.4 1046.3,458.6 1034.5,458.6 1044.0,465.5 1040.4,476.7 1049.9,469.8 1059.4,476.7 1055.8,465.5 1065.3,458.6 1053.5,458.6"/>
<polygon points="1069.3,453.9 1065.7,465.1 1053.9,465.1 1063.4,472.0 1059.8,483.2 1069.3,476.3 1078.8,483.2 1075.2,472.0 1084.7,465.1 1072.9,465.1"/>
<polygon points="1102.7,451.1 1099.1,462.3 1087.3,462.3 1096.8,469.2 1093.2,480.4 1102.7,473.5 1112.2,480.4 1108.6,469.2 1118.1,462.3 1106.3,462.3"/>
<polygon points="1130.5,448.3 1126.9,459.5 1115.1,459.5 1124.6,466.4 1121.0,477.6 1130.5,470.7 1140.0,477.6 1136.4,466.4 1145.9,459.5 1134.1,459.5"/>
<polygon points="1156.4,451.1 1152.8,462.3 1141.0,462.3 1150.5,469.2 1146.9,480.4 1156.4,473.5 1165.9,480.4 1162.3,469.2 1171.8,462.3 1160.0,462.3"/>
<polygon points="1124.0,458.5 1120.4,469.7 1108.6,469.7 1118.1,476.6 1114.5,487.8 1124.0,480.9 1133.5,487.8 1129.9,476.6 1139.4,469.7 1127.6,469.7"/>
<polygon points="1178.6,458.5 1175.0,469.7 1163.2,469.7 1172.7,476.6 1169.1,487.8 1178.6,480.9 1188.1,487.8 1184.5,476.6 1194.0,469.7 1182.2,469.7"/>
<polygon points="1199.0,453.9 1195.4,465.1 1183.6,465.1 1193.1,472.0 1189.5,483.2 1199.0,476.3 1208.5,483.2 1204.9,472.0 1214.4,465.1 1202.6,465.1"/>
<polygon points="1011.9,459.4 1008.3,470.6 996.5,470.6 1006.0,477.5 1002.4,488.7 1011.9,481.8 1021.4,488.7 1017.8,477.5 1027.3,470.6 1015.5,470.6"/>
<polygon points="1042.5,477.0 1038.9,488.2 1027.1,488.2 1036.6,495.1 1033.0,506.3 1042.5,499.4 1052.0,506.3 1048.4,495.1 1057.9,488.2 1046.1,488.2"/>
<polygon points="1071.2,474.2 1067.6,485.4 1055.8,485.4 1065.3,492.3 1061.7,503.5 1071.2,496.6 1080.7,503.5 1077.1,492.3 1086.6,485.4 1074.8,485.4"/>
<polygon points="1098.0,479.8 1094.4,491.0 1082.6,491.0 1092.1,497.9 1088.5,509.1 1098.0,502.2 1107.5,509.1 1103.9,497.9 1113.4,491.0 1101.6,491.0"/>
<polygon points="1084.1,486.3 1080.5,497.5 1068.7,497.5 1078.2,504.4 1074.6,515.6 1084.1,508.7 1093.6,515.6 1090.0,504.4 1099.5,497.5 1087.7,497.5"/>
<polygon points="1136.0,484.4 1132.4,495.6 1120.6,495.6 1130.1,502.5 1126.5,513.7 1136.0,506.8 1145.5,513.7 1141.9,502.5 1151.4,495.6 1139.6,495.6"/>
<polygon points="1162.0,473.3 1158.4,484.5 1146.6,484.5 1156.1,491.4 1152.5,502.6 1162.0,495.7 1171.5,502.6 1167.9,491.4 1177.4,484.5 1165.6,484.5"/>
<polygon points="1156.4,487.2 1152.8,498.4 1141.0,498.4 1150.5,505.3 1146.9,516.5 1156.4,509.6 1165.9,516.5 1162.3,505.3 1171.8,498.4 1160.0,498.4"/>
<polygon points="1163.8,489.1 1160.2,500.3 1148.4,500.3 1157.9,507.2 1154.3,518.4 1163.8,511.5 1173.3,518.4 1169.7,507.2 1179.2,500.3 1167.4,500.3"/>
<polygon points="1199.0,475.2 1195.4,486.4 1183.6,486.4 1193.1,493.3 1189.5,504.5 1199.0,497.6 1208.5,504.5 1204.9,493.3 1214.4,486.4 1202.6,486.4"/>
<polygon points="1116.6,495.5 1113.0,506.7 1101.2,506.7 1110.7,513.6 1107.1,524.8 1116.6,517.9 1126.1,524.8 1122.5,513.6 1132.0,506.7 1120.2,506.7"/>
<polygon points="1126.8,509.4 1123.2,520.6 1111.4,520.6 1120.9,527.5 1117.3,538.7 1126.8,531.8 1136.3,538.7 1132.7,527.5 1142.2,520.6 1130.4,520.6"/>
<polygon points="1219.4,496.5 1215.8,507.7 1204.0,507.7 1213.5,514.6 1209.9,525.8 1219.4,518.9 1228.9,525.8 1225.3,514.6 1234.8,507.7 1223.0,507.7"/>
<polygon points="1234.2,518.7 1230.6,529.9 1218.8,529.9 1228.3,536.8 1224.7,548.0 1234.2,541.1 1243.7,548.0 1240.1,536.8 1249.6,529.9 1237.8,529.9"/>
<polygon points="997.1,507.6 993.5,518.8 981.7,518.8 991.2,525.7 987.6,536.9 997.1,530.0 1006.6,536.9 1003.0,525.7 1012.5,518.8 1000.7,518.8"/>
<polygon points="1081.4,526.1 1077.8,537.3 1066.0,537.3 1075.5,544.2 1071.9,555.4 1081.4,548.5 1090.9,555.4 1087.3,544.2 1096.8,537.3 1085.0,537.3"/>
<polygon points="1099.0,555.8 1095.4,567.0 1083.6,567.0 1093.1,573.9 1089.5,585.1 1099.0,578.2 1108.5,585.1 1104.9,573.9 1114.4,567.0 1102.6,567.0"/>
<polygon points="1151.8,551.1 1148.2,562.3 1136.4,562.3 1145.9,569.2 1142.3,580.4 1151.8,573.5 1161.3,580.4 1157.7,569.2 1167.2,562.3 1155.4,562.3"/>
<polygon points="1248.1,555.8 1244.5,567.0 1232.7,567.0 1242.2,573.9 1238.6,585.1 1248.1,578.2 1257.6,585.1 1254.0,573.9 1263.5,567.0 1251.7,567.0"/>
<polygon points="1144.6,249.5 1141.0,260.7 1129.2,260.7 1138.7,267.6 1135.1,278.8 1144.6,271.9 1154.1,278.8 1150.5,267.6 1160.0,260.7 1148.2,260.7"/>
<polygon points="1204.7,242.7 1201.1,253.9 1189.3,253.9 1198.8,260.8 1195.2,272.0 1204.7,265.1 1214.2,272.0 1210.6,260.8 1220.1,253.9 1208.3,253.9"/>
<polygon points="1073.3,298.2 1069.7,309.4 1057.9,309.4 1067.4,316.3 1063.8,327.5 1073.3,320.6 1082.8,327.5 1079.2,316.3 1088.7,309.4 1076.9,309.4"/>
<polygon points="1169.4,307.2 1165.8,318.4 1154.0,318.4 1163.5,325.3 1159.9,336.5 1169.4,329.6 1178.9,336.5 1175.3,325.3 1184.8,318.4 1173.0,318.4"/>
<polygon points="1201.0,321.7 1197.4,332.9 1185.6,332.9 1195.1,339.8 1191.5,351.0 1201.0,344.1 1210.5,351.0 1206.9,339.8 1216.4,332.9 1204.6,332.9"/>
<polygon points="1233.8,310.8 1230.2,322.0 1218.4,322.0 1227.9,328.9 1224.3,340.1 1233.8,333.2 1243.3,340.1 1239.7,328.9 1249.2,322.0 1237.4,322.0"/>
<polygon points="1269.8,296.2 1266.2,307.4 1254.4,307.4 1263.9,314.3 1260.3,325.5 1269.8,318.6 1279.3,325.5 1275.7,314.3 1285.2,307.4 1273.4,307.4"/>
<polygon points="1237.5,331.5 1233.9,342.7 1222.1,342.7 1231.6,349.6 1228.0,360.8 1237.5,353.9 1247.0,360.8 1243.4,349.6 1252.9,342.7 1241.1,342.7"/>
<polygon points="1273.5,330.3 1269.9,341.5 1258.1,341.5 1267.6,348.4 1264.0,359.6 1273.5,352.7 1283.0,359.6 1279.4,348.4 1288.9,341.5 1277.1,341.5"/>
<polygon points="1085.5,328.3 1081.9,339.5 1070.1,339.5 1079.6,346.4 1076.0,357.6 1085.5,350.7 1095.0,357.6 1091.4,346.4 1100.9,339.5 1089.1,339.5"/>
<polygon points="1132.4,335.1 1128.8,346.3 1117.0,346.3 1126.5,353.2 1122.9,364.4 1132.4,357.5 1141.9,364.4 1138.3,353.2 1147.8,346.3 1136.0,346.3"/>
<polygon points="1078.2,349.7 1074.6,360.9 1062.8,360.9 1072.3,367.8 1068.7,379.0 1078.2,372.1 1087.7,379.0 1084.1,367.8 1093.6,360.9 1081.8,360.9"/>
<polygon points="1097.7,357.0 1094.1,368.2 1082.3,368.2 1091.8,375.1 1088.2,386.3 1097.7,379.4 1107.2,386.3 1103.6,375.1 1113.1,368.2 1101.3,368.2"/>
<polygon points="918.4,374.0 914.8,385.2 903.0,385.2 912.5,392.1 908.9,403.3 918.4,396.4 927.9,403.3 924.3,392.1 933.8,385.2 922.0,385.2"/>
<polygon points="945.7,412.9 942.1,424.1 930.3,424.1 939.8,431.0 936.2,442.2 945.7,435.3 955.2,442.2 951.6,431.0 961.1,424.1 949.3,424.1"/>
<polygon points="1081.8,381.3 1078.2,392.5 1066.4,392.5 1075.9,399.4 1072.3,410.6 1081.8,403.7 1091.3,410.6 1087.7,399.4 1097.2,392.5 1085.4,392.5"/>
<polygon points="1132.9,403.2 1129.3,414.4 1117.5,414.4 1127.0,421.3 1123.4,432.5 1132.9,425.6 1142.4,432.5 1138.8,421.3 1148.3,414.4 1136.5,414.4"/>
<polygon points="1072.0,410.5 1068.4,421.7 1056.6,421.7 1066.1,428.6 1062.5,439.8 1072.0,432.9 1081.5,439.8 1077.9,428.6 1087.4,421.7 1075.6,421.7"/>
<polygon points="1137.8,420.2 1134.2,431.4 1122.4,431.4 1131.9,438.3 1128.3,449.5 1137.8,442.6 1147.3,449.5 1143.7,438.3 1153.2,431.4 1141.4,431.4"/>
<polygon points="920.6,454.4 917.0,465.6 905.2,465.6 914.7,472.5 911.1,483.7 920.6,476.8 930.1,483.7 926.5,472.5 936.0,465.6 924.2,465.6"/>
<polygon points="906.6,468.4 903.0,479.6 891.2,479.6 900.7,486.5 897.1,497.7 906.6,490.8 916.1,497.7 912.5,486.5 922.0,479.6 910.2,479.6"/>
<polygon points="938.5,475.0 934.9,486.2 923.1,486.2 932.6,493.1 929.0,504.3 938.5,497.4 948.0,504.3 944.4,493.1 953.9,486.2 942.1,486.2"/>
<polygon points="1197.0,445.8 1193.4,457.0 1181.6,457.0 1191.1,463.9 1187.5,475.1 1197.0,468.2 1206.5,475.1 1202.9,463.9 1212.4,457.0 1200.6,457.0"/>
</g></g>
<g stroke="#000" fill="none">
<path stroke-width="6.7" d="M242.47 1010.40v-14.4M242.47 28.40v14.4M282.43 1010.40v-14.4M282.43 28.40v14.4M322.39 1010.40v-14.4M322.39 28.40v14.4M402.33 1010.40v-14.4M402.33 28.40v14.4M442.29 1010.40v-14.4M442.29 28.40v14.4M482.25 1010.40v-14.4M482.25 28.40v14.4M562.19 1010.40v-14.4M562.19 28.40v14.4M602.15 1010.40v-14.4M602.15 28.40v14.4M642.12 1010.40v-14.4M642.12 28.40v14.4M722.05 1010.40v-14.4M722.05 28.40v14.4M762.01 1010.40v-14.4M762.01 28.40v14.4M801.98 1010.40v-14.4M801.98 28.40v14.4M881.91 1010.40v-14.4M881.91 28.40v14.4M921.87 1010.40v-14.4M921.87 28.40v14.4M961.84 1010.40v-14.4M961.84 28.40v14.4M1041.77 1010.40v-14.4M1041.77 28.40v14.4M1081.73 1010.40v-14.4M1081.73 28.40v14.4M1121.70 1010.40v-14.4M1121.70 28.40v14.4M1201.62 1010.40v-14.4M1201.62 28.40v14.4M1241.59 1010.40v-14.4M1241.59 28.40v14.4M1281.56 1010.40v-14.4M1281.56 28.40v14.4M1361.49 1010.40v-14.4M1361.49 28.40v14.4M1401.45 1010.40v-14.4M1401.45 28.40v14.4M1441.42 1010.40v-14.4M1441.42 28.40v14.4"/>
<path stroke-width="6.7" d="M202.50 991.07h14.4M1481.50 991.07h-14.4M202.50 971.45h14.4M1481.50 971.45h-14.4M202.50 951.82h14.4M1481.50 951.82h-14.4M202.50 932.19h14.4M1481.50 932.19h-14.4M202.50 892.94h14.4M1481.50 892.94h-14.4M202.50 873.31h14.4M1481.50 873.31h-14.4M202.50 853.68h14.4M1481.50 853.68h-14.4M202.50 834.06h14.4M1481.50 834.06h-14.4M202.50 794.80h14.4M1481.50 794.80h-14.4M202.50 775.18h14.4M1481.50 775.18h-14.4M202.50 755.55h14.4M1481.50 755.55h-14.4M202.50 735.92h14.4M1481.50 735.92h-14.4M202.50 696.67h14.4M1481.50 696.67h-14.4M202.50 677.04h14.4M1481.50 677.04h-14.4M202.50 657.41h14.4M1481.50 657.41h-14.4M202.50 637.79h14.4M1481.50 637.79h-14.4M202.50 598.53h14.4M1481.50 598.53h-14.4M202.50 578.91h14.4M1481.50 578.91h-14.4M202.50 559.28h14.4M1481.50 559.28h-14.4M202.50 539.65h14.4M1481.50 539.65h-14.4M202.50 500.40h14.4M1481.50 500.40h-14.4M202.50 480.77h14.4M1481.50 480.77h-14.4M202.50 461.14h14.4M1481.50 461.14h-14.4M202.50 441.52h14.4M1481.50 441.52h-14.4M202.50 402.26h14.4M1481.50 402.26h-14.4M202.50 382.64h14.4M1481.50 382.64h-14.4M202.50 363.01h14.4M1481.50 363.01h-14.4M202.50 343.38h14.4M1481.50 343.38h-14.4M202.50 304.13h14.4M1481.50 304.13h-14.4M202.50 284.50h14.4M1481.50 284.50h-14.4M202.50 264.87h14.4M1481.50 264.87h-14.4M202.50 245.25h14.4M1481.50 245.25h-14.4M202.50 205.99h14.4M1481.50 205.99h-14.4M202.50 186.37h14.4M1481.50 186.37h-14.4M202.50 166.74h14.4M1481.50 166.74h-14.4M202.50 147.11h14.4M1481.50 147.11h-14.4M202.50 107.86h14.4M1481.50 107.86h-14.4M202.50 88.23h14.4M1481.50 88.23h-14.4M202.50 68.60h14.4M1481.50 68.60h-14.4M202.50 48.98h14.4M1481.50 48.98h-14.4"/>
<path stroke-width="6.7" d="M362.36 1010.40v-28.0M362.36 28.40v28.0M522.22 1010.40v-28.0M522.22 28.40v28.0M682.08 1010.40v-28.0M682.08 28.40v28.0M841.94 1010.40v-28.0M841.94 28.40v28.0M1001.80 1010.40v-28.0M1001.80 28.40v28.0M1161.66 1010.40v-28.0M1161.66 28.40v28.0M1321.52 1010.40v-28.0M1321.52 28.40v28.0M1481.38 1010.40v-28.0M1481.38 28.40v28.0M202.50 1010.70h28.0M1481.50 1010.70h-28.0M202.50 912.57h28.0M1481.50 912.57h-28.0M202.50 814.43h28.0M1481.50 814.43h-28.0M202.50 716.30h28.0M1481.50 716.30h-28.0M202.50 618.16h28.0M1481.50 618.16h-28.0M202.50 520.03h28.0M1481.50 520.03h-28.0M202.50 421.89h28.0M1481.50 421.89h-28.0M202.50 323.75h28.0M1481.50 323.75h-28.0M202.50 225.62h28.0M1481.50 225.62h-28.0M202.50 127.49h28.0M1481.50 127.49h-28.0"/>
<rect x="202.50" y="28.40" width="1279.00" height="982.00" stroke-width="6.9"/>
</g>
<g text-anchor="middle">
<text x="362.4" y="1053.2">8.5</text>
<text x="522.2" y="1053.2">9.0</text>
<text x="682.1" y="1053.2">9.5</text>
<text x="841.9" y="1053.2">10.0</text>
<text x="1001.8" y="1053.2">10.5</text>
<text x="1161.7" y="1053.2">11.0</text>
<text x="1321.5" y="1053.2">11.5</text>
<text x="1481.4" y="1053.2">12.0</text>
</g><g text-anchor="end">
<text x="189.7" y="1025.9">−2.5</text>
<text x="189.7" y="927.8">−2.0</text>
<text x="189.7" y="829.6">−1.5</text>
<text x="189.7" y="731.5">−1.0</text>
<text x="189.7" y="633.4">−0.5</text>
<text x="189.7" y="535.2">0.0</text>
<text x="189.7" y="437.1">0.5</text>
<text x="189.7" y="339.0">1.0</text>
<text x="189.7" y="240.8">1.5</text>
<text x="189.7" y="142.7">2.0</text>
</g>
<text x="843.3" y="1109.4" text-anchor="middle" id="xl">log(<tspan class="i">M</tspan><tspan font-size="29.17px" dy="5.8">⋆</tspan><tspan dy="-5.8" dx="1.3">[</tspan><tspan class="i">M</tspan><tspan font-size="29.17px" dy="5.8" dx="3.9">⊙</tspan><tspan dy="-5.8" dx="8.6">])</tspan></text>
<text transform="translate(60.8 518.6) rotate(-90)" text-anchor="middle" id="yl">log(SFR [<tspan class="i">M</tspan><tspan font-size="29.17px" dy="6.3" dx="6.2">⊙</tspan><tspan class="i" dy="-6.3" dx="9.5">yr</tspan><tspan font-size="29.17px" dy="-15.5" dx="2">−1</tspan><tspan dy="15.5" dx="1">])</tspan></text>
<rect x="1494.6" y="28.3" width="64.0" height="982.1" fill="url(#cb)" stroke="#000" stroke-width="3.2"/>
<text x="1582.3" y="1025.6">0.0</text>
<text x="1582.3" y="873.4">0.5</text>
<text x="1582.3" y="721.2">1.0</text>
<text x="1582.3" y="569.0">1.5</text>
<text x="1582.3" y="416.8">2.0</text>
<text x="1582.3" y="264.6">2.5</text>
<text x="1582.3" y="112.4">3.0</text>
<path stroke="#000" stroke-width="3.3" d="M1558.6 1010.40h12.2M1558.6 858.20h12.2M1558.6 706.00h12.2M1558.6 553.80h12.2M1558.6 401.60h12.2M1558.6 249.40h12.2M1558.6 97.20h12.2"/>
<text transform="translate(1696.3 523.5) rotate(-90)" text-anchor="middle" id="cl">log(Counts)</text>
<polygon points="281.4,70.5 277.8,81.7 266.0,81.7 275.5,88.6 271.9,99.8 281.4,92.9 290.9,99.8 287.3,88.6 296.8,81.7 285.0,81.7" fill="#2e8b57" stroke="#07140c" stroke-width="1"/>
<circle cx="281.5" cy="147.4" r="9.4" fill="#66cdaa" stroke="#0a1a12" stroke-width="0.9"/>
<text x="356.5" y="97.3">E+A Post-Starbursts</text>
<text x="356.5" y="157.8">E+A Controls</text>
</svg></body></html>
